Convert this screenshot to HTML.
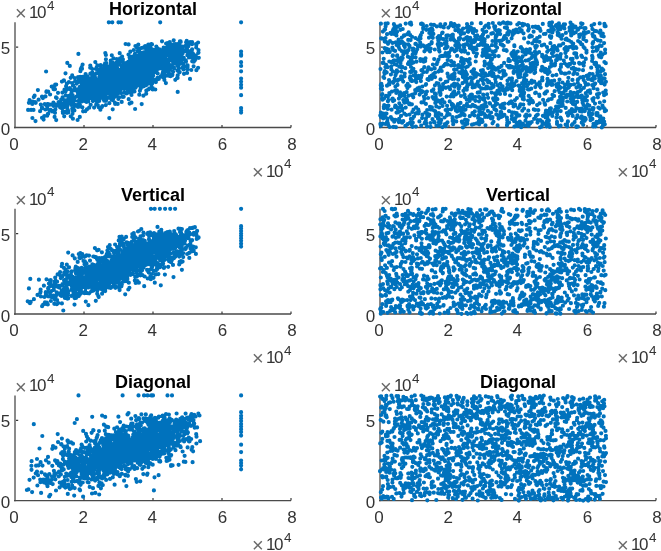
<!DOCTYPE html><html><head><meta charset="utf-8"><title>Correlation scatter plots</title><style>html,body{margin:0;padding:0;background:#fff;}body{width:661px;height:551px;overflow:hidden;}svg{display:block;}text{font-family:"Liberation Sans",Arial,Helvetica,sans-serif;fill:#333333;}.t{font-weight:bold;fill:#000;font-size:18px;}.k{font-size:17.0px;}.x{font-size:20px;fill:#6a6a6a;}.s{font-size:13.5px;}.d{fill:none;stroke:#0072BD;stroke-width:4.20;stroke-linecap:round;}.av{fill:none;stroke:#8a8a8a;stroke-width:2;}.ah{fill:none;stroke:#4a4a4a;stroke-width:1.4;}.tk{fill:none;stroke:#3a3a3a;stroke-width:1.2;}</style></head><body>
<svg width="661" height="551" viewBox="0 0 661 551">
<path class="av" d="M15.0 22.3V128.2"/>
<path class="ah" d="M14.0 127.5H291.0"/>
<path class="tk" d="M84.0 127.5v-2.6M153.0 127.5v-2.6M222.0 127.5v-2.6M291.0 127.5v-2.6M16.0 47.2h2.2"/>
<path class="d" d="M147.4 64.4h0M106.5 82.3h0M74.3 100.7h0M92.8 87.8h0M104.5 85.0h0M99.1 73.5h0M144.7 65.8h0M146.4 66.3h0M79.8 116.9h0M145.9 58.1h0M146.9 74.2h0M125.0 72.9h0M121.4 84.6h0M161.2 60.6h0M134.0 59.5h0M131.5 102.7h0M190.0 78.9h0M135.2 84.8h0M127.8 75.2h0M141.7 104.1h0M114.4 76.0h0M99.7 99.1h0M85.4 87.3h0M113.3 90.1h0M78.1 89.6h0M146.8 75.3h0M125.0 73.0h0M109.7 87.2h0M129.1 82.8h0M105.2 83.6h0M67.7 99.9h0M90.1 80.8h0M148.5 67.9h0M89.4 90.3h0M145.5 80.8h0M96.9 82.7h0M114.1 82.6h0M68.9 82.1h0M66.1 86.2h0M93.6 79.0h0M159.4 49.3h0M95.3 62.1h0M155.2 71.5h0M95.0 77.3h0M133.0 89.2h0M142.9 54.9h0M144.8 61.2h0M118.0 69.9h0M146.8 84.8h0M101.2 74.8h0M103.0 82.8h0M141.5 58.5h0M105.1 73.7h0M151.6 49.3h0M158.5 61.7h0M157.3 78.2h0M151.2 44.0h0M149.1 65.3h0M88.7 95.4h0M121.1 82.9h0M55.2 84.7h0M121.2 78.3h0M100.3 78.2h0M88.3 99.3h0M111.7 80.2h0M108.8 80.8h0M142.3 75.8h0M148.3 51.2h0M139.2 61.6h0M89.7 96.5h0M99.0 96.1h0M88.6 80.2h0M88.2 81.1h0M142.8 59.1h0M145.1 79.9h0M170.2 67.6h0M168.3 65.3h0M102.2 94.7h0M146.8 75.9h0M112.1 80.8h0M181.3 51.5h0M92.3 91.4h0M120.5 89.8h0M151.4 55.6h0M108.4 82.1h0M115.4 71.3h0M145.0 72.7h0M124.5 79.2h0M149.6 78.0h0M86.8 90.1h0M93.9 77.1h0M115.8 88.3h0M58.0 105.0h0M158.1 63.7h0M155.2 61.2h0M100.5 71.8h0M124.2 75.7h0M121.9 71.2h0M122.9 67.6h0M141.1 70.7h0M162.0 41.3h0M140.8 78.8h0M92.3 98.3h0M136.9 74.0h0M172.4 51.0h0M168.4 60.6h0M162.2 76.6h0M57.6 104.9h0M122.9 88.4h0M148.7 62.8h0M134.2 65.6h0M96.8 83.5h0M146.3 90.6h0M168.8 72.3h0M142.4 74.7h0M105.9 86.1h0M37.9 90.1h0M155.6 70.9h0M140.8 54.4h0M131.8 64.7h0M101.9 92.2h0M167.5 55.4h0M128.9 68.0h0M185.7 45.8h0M166.2 69.3h0M97.9 96.1h0M107.3 79.2h0M117.6 81.0h0M127.7 68.7h0M120.7 81.4h0M81.8 100.0h0M126.4 75.1h0M163.6 70.4h0M152.3 62.1h0M143.3 60.6h0M142.6 72.0h0M173.8 44.6h0M100.0 86.6h0M93.4 100.4h0M169.5 55.8h0M126.8 85.2h0M93.2 95.4h0M100.6 76.3h0M104.3 80.4h0M104.5 71.9h0M96.6 98.7h0M81.6 97.3h0M111.9 77.7h0M177.6 77.9h0M136.8 83.6h0M102.0 74.1h0M175.5 48.6h0M139.8 64.1h0M182.2 48.0h0M61.2 107.9h0M144.9 77.8h0M177.5 44.1h0M91.1 89.7h0M196.2 47.5h0M119.1 62.0h0M171.0 44.6h0M142.5 74.2h0M65.2 105.9h0M103.4 75.5h0M110.9 63.2h0M131.1 60.7h0M83.1 111.3h0M118.0 85.2h0M87.5 79.3h0M75.2 81.1h0M80.0 86.7h0M115.9 67.2h0M191.9 42.5h0M143.3 55.0h0M97.1 94.4h0M180.6 41.4h0M140.5 70.8h0M122.1 56.6h0M68.6 97.8h0M187.4 55.2h0M162.4 60.2h0M56.0 97.4h0M123.8 70.4h0M153.7 71.4h0M86.3 94.4h0M150.1 57.3h0M65.2 103.1h0M141.1 61.3h0M140.8 56.1h0M67.8 89.1h0M65.7 95.4h0M104.5 79.1h0M59.9 103.0h0M198.2 53.0h0M124.0 88.5h0M161.4 65.4h0M131.8 92.4h0M184.3 51.1h0M184.1 50.1h0M161.4 51.6h0M104.0 82.4h0M105.3 99.3h0M94.1 91.1h0M81.7 67.2h0M178.6 68.8h0M82.8 85.2h0M164.7 53.4h0M138.0 82.8h0M80.2 76.9h0M166.6 62.3h0M192.5 53.0h0M165.4 63.3h0M130.2 84.6h0M176.6 56.3h0M126.8 66.7h0M158.4 57.6h0M128.0 70.0h0M140.7 88.4h0M85.1 100.7h0M122.4 69.5h0M135.1 73.2h0M65.5 91.4h0M139.6 77.5h0M117.5 65.0h0M73.7 109.6h0M107.3 93.2h0M123.8 70.9h0M40.8 104.6h0M120.2 61.3h0M134.5 67.5h0M156.3 58.4h0M108.2 90.7h0M97.5 95.2h0M92.0 80.7h0M166.9 68.2h0M105.9 81.5h0M137.0 47.5h0M111.7 68.9h0M96.1 93.2h0M129.3 75.5h0M171.3 58.0h0M143.1 74.5h0M85.3 111.2h0M133.6 84.7h0M158.8 58.7h0M141.5 65.3h0M134.5 83.5h0M145.1 81.3h0M33.8 97.1h0M71.3 105.0h0M168.3 74.8h0M164.4 79.9h0M105.9 55.0h0M117.4 86.7h0M91.3 94.5h0M102.4 106.0h0M137.9 59.2h0M127.9 79.3h0M141.1 82.0h0M28.1 109.9h0M124.9 80.4h0M90.7 104.8h0M160.7 64.8h0M135.4 75.1h0M162.8 72.6h0M97.8 83.0h0M117.3 79.7h0M45.5 96.4h0M118.0 83.6h0M101.4 92.1h0M133.8 63.5h0M91.2 73.6h0M116.0 78.8h0M177.4 70.6h0M159.1 51.2h0M78.1 105.1h0M129.6 83.3h0M166.0 51.9h0M129.8 72.4h0M125.9 77.6h0M142.7 65.2h0M151.0 62.7h0M124.7 71.2h0M112.4 94.7h0M101.5 81.9h0M109.3 118.1h0M154.7 66.4h0M101.8 76.3h0M125.1 78.5h0M182.7 53.2h0M159.3 57.8h0M136.3 77.9h0M109.4 103.2h0M140.0 58.2h0M161.3 52.4h0M104.9 65.4h0M114.8 102.5h0M155.4 54.6h0M87.4 86.6h0M120.7 78.7h0M157.3 57.4h0M131.9 57.9h0M166.1 53.9h0M170.5 46.6h0M101.4 88.0h0M148.9 72.3h0M118.0 77.6h0M179.7 72.1h0M133.7 74.9h0M155.7 52.4h0M109.6 80.0h0M174.0 68.2h0M133.3 69.5h0M152.4 66.9h0M155.5 69.1h0M90.0 93.4h0M140.0 67.9h0M139.2 65.6h0M112.2 87.7h0M103.8 68.5h0M62.2 106.9h0M87.0 84.1h0M98.1 79.8h0M81.0 86.5h0M138.1 63.8h0M134.3 76.8h0M103.0 75.5h0M103.2 92.3h0M164.8 59.6h0M171.4 65.7h0M156.3 46.6h0M128.4 74.2h0M118.5 97.8h0M190.9 53.2h0M32.4 118.0h0M135.5 87.7h0M106.3 99.8h0M123.9 64.1h0M126.2 71.8h0M106.7 69.5h0M116.7 63.8h0M172.7 52.8h0M129.9 80.5h0M169.1 60.1h0M125.3 73.8h0M162.7 55.6h0M174.5 58.6h0M85.1 85.3h0M177.9 45.1h0M42.0 96.7h0M106.4 90.3h0M152.0 67.9h0M168.9 69.2h0M188.4 55.8h0M114.3 97.1h0M96.0 80.7h0M142.6 73.4h0M146.9 72.3h0M187.8 54.0h0M50.6 109.9h0M46.4 91.9h0M178.9 47.9h0M98.4 94.7h0M84.7 79.0h0M73.0 85.5h0M141.2 72.0h0M157.9 58.6h0M163.9 69.2h0M152.3 62.9h0M155.4 81.2h0M116.2 62.8h0M119.1 76.0h0M104.5 74.6h0M173.8 54.5h0M185.0 50.5h0M70.7 77.8h0M142.0 59.8h0M89.8 98.3h0M110.7 60.7h0M82.9 93.6h0M140.5 79.3h0M121.4 77.6h0M103.0 81.4h0M142.8 66.8h0M143.1 59.6h0M156.7 70.6h0M133.3 69.1h0M132.2 66.0h0M117.7 81.7h0M162.2 74.5h0M108.8 79.2h0M198.1 42.5h0M134.2 58.0h0M156.3 68.1h0M93.4 83.7h0M164.8 72.2h0M80.7 99.1h0M136.1 70.6h0M119.0 81.0h0M116.7 59.0h0M177.0 55.4h0M178.9 46.1h0M128.1 69.9h0M160.3 65.1h0M123.9 78.8h0M69.8 103.6h0M91.7 89.2h0M144.9 63.4h0M154.7 81.3h0M157.1 58.9h0M89.4 87.0h0M181.8 56.5h0M101.1 86.8h0M179.5 56.5h0M82.9 93.9h0M119.6 80.1h0M80.9 89.4h0M110.7 90.7h0M156.1 70.5h0M99.2 83.8h0M83.5 88.2h0M137.9 74.1h0M188.2 45.9h0M180.2 53.1h0M104.6 96.8h0M117.1 72.7h0M153.0 81.0h0M85.5 98.6h0M72.5 113.8h0M128.3 65.5h0M179.2 60.1h0M121.3 78.7h0M97.4 65.4h0M121.4 84.1h0M130.0 56.8h0M100.6 65.6h0M67.0 112.8h0M69.8 88.0h0M198.5 50.0h0M155.3 60.5h0M138.7 84.6h0M92.9 91.4h0M105.9 59.3h0M131.8 75.1h0M72.7 110.4h0M130.7 87.5h0M103.6 89.4h0M170.5 60.0h0M192.8 56.0h0M142.9 72.7h0M118.9 78.6h0M103.4 85.8h0M147.4 67.6h0M74.0 98.2h0M120.5 75.5h0M155.3 53.2h0M152.3 83.3h0M148.3 44.7h0M181.6 50.2h0M177.1 62.5h0M134.0 75.2h0M159.4 51.0h0M120.6 70.4h0M125.6 44.0h0M129.2 67.7h0M89.1 97.5h0M125.9 67.1h0M122.4 71.9h0M105.2 80.9h0M110.6 88.2h0M107.6 78.1h0M100.6 82.3h0M116.7 73.7h0M163.6 47.7h0M166.6 47.9h0M132.5 86.9h0M109.0 85.5h0M95.7 96.1h0M144.1 64.2h0M97.7 81.1h0M88.2 88.0h0M127.9 89.6h0M141.1 79.7h0M94.0 76.8h0M81.5 92.9h0M149.6 70.6h0M157.5 77.9h0M145.7 58.4h0M158.2 64.1h0M77.9 101.0h0M149.3 82.8h0M97.8 105.1h0M110.5 74.1h0M85.9 81.6h0M119.2 80.6h0M81.1 99.4h0M177.7 75.3h0M102.2 86.0h0M88.3 101.5h0M135.1 78.9h0M126.7 81.0h0M161.8 59.1h0M105.6 85.1h0M103.1 81.6h0M109.5 72.7h0M83.4 87.7h0M153.1 75.3h0M153.3 61.9h0M109.6 71.4h0M131.6 68.1h0M168.5 55.4h0M139.1 68.2h0M104.5 85.5h0M95.4 86.2h0M97.0 92.3h0M87.2 92.0h0M74.5 89.6h0M116.4 70.4h0M56.2 84.6h0M170.6 45.4h0M143.8 79.7h0M140.4 60.1h0M187.5 69.2h0M117.7 78.7h0M94.1 87.1h0M98.4 87.5h0M101.0 72.9h0M151.2 66.7h0M138.1 65.2h0M115.1 87.2h0M138.0 61.4h0M116.3 94.3h0M91.5 86.5h0M142.1 66.0h0M163.4 49.9h0M143.3 75.4h0M101.9 69.1h0M126.2 75.3h0M94.3 94.8h0M164.0 64.3h0M183.8 59.1h0M129.8 81.9h0M110.7 91.4h0M82.0 93.5h0M101.7 77.2h0M121.0 73.7h0M131.7 63.4h0M169.8 42.1h0M151.8 69.2h0M103.5 86.4h0M152.0 75.7h0M155.7 72.1h0M100.0 90.4h0M121.6 74.2h0M87.6 76.3h0M154.3 58.0h0M141.0 67.6h0M171.0 50.4h0M141.9 65.2h0M169.3 52.8h0M191.0 54.9h0M55.4 109.3h0M122.3 68.7h0M155.1 70.7h0M192.1 42.2h0M99.0 89.1h0M109.9 71.9h0M139.0 79.9h0M142.9 84.8h0M145.8 75.5h0M158.6 63.4h0M145.8 68.1h0M48.1 104.0h0M139.3 94.7h0M96.3 86.4h0M152.7 89.5h0M92.3 72.7h0M158.0 65.0h0M192.2 61.3h0M136.4 82.7h0M82.4 107.3h0M122.6 80.8h0M113.1 98.9h0M159.5 68.5h0M141.8 68.7h0M44.3 116.1h0M125.0 64.5h0M113.1 79.7h0M94.9 81.7h0M99.7 85.6h0M96.2 104.6h0M107.6 83.5h0M163.2 63.2h0M127.4 72.5h0M95.0 87.8h0M114.9 81.6h0M91.5 81.5h0M193.8 61.7h0M102.9 93.0h0M112.0 83.9h0M95.1 79.4h0M82.0 68.8h0M190.6 43.3h0M77.3 82.0h0M72.1 83.1h0M106.3 88.1h0M122.8 61.1h0M94.5 87.0h0M119.7 53.2h0M146.6 69.1h0M185.8 60.4h0M171.8 60.2h0M123.0 79.6h0M160.0 67.9h0M127.5 80.0h0M158.5 58.6h0M99.4 76.7h0M31.1 109.9h0M148.8 72.1h0M38.6 99.7h0M137.5 83.7h0M96.4 90.2h0M79.6 81.6h0M182.6 58.6h0M158.3 67.1h0M99.1 90.0h0M83.0 80.1h0M82.8 77.2h0M152.5 80.8h0M138.2 68.0h0M177.2 62.7h0M122.1 65.6h0M129.1 66.7h0M164.7 64.8h0M113.8 90.2h0M132.5 77.5h0M150.6 64.7h0M128.8 66.9h0M143.9 75.8h0M163.9 73.0h0M137.3 77.2h0M108.3 73.8h0M186.1 42.3h0M108.0 72.2h0M154.3 59.2h0M93.5 75.8h0M113.2 75.4h0M157.3 55.5h0M117.4 87.0h0M162.2 60.6h0M116.6 70.6h0M84.2 79.7h0M182.5 63.7h0M156.3 70.1h0M62.9 113.0h0M174.4 54.6h0M131.9 68.7h0M77.0 81.5h0M85.2 81.2h0M79.4 97.1h0M123.1 70.5h0M96.8 101.4h0M125.7 71.1h0M178.9 57.2h0M134.6 69.4h0M102.7 93.9h0M152.5 64.2h0M118.5 86.4h0M134.7 68.1h0M93.8 81.5h0M177.6 49.5h0M74.4 110.4h0M83.2 94.8h0M114.1 74.0h0M106.8 72.8h0M99.2 80.0h0M117.1 76.9h0M167.3 49.0h0M150.8 75.2h0M115.5 93.7h0M179.7 55.2h0M138.1 48.4h0M79.3 100.4h0M116.5 69.8h0M83.0 100.1h0M127.7 76.2h0M163.3 60.7h0M123.9 82.1h0M101.5 67.8h0M147.5 77.2h0M184.0 73.8h0M87.3 87.4h0M156.3 68.9h0M134.3 72.1h0M112.0 91.3h0M100.6 81.8h0M132.0 80.6h0M127.5 84.6h0M107.9 97.9h0M183.1 63.6h0M109.3 85.5h0M58.6 102.1h0M150.2 69.1h0M119.5 70.2h0M173.7 40.3h0M155.3 68.3h0M192.8 60.6h0M92.9 101.1h0M138.3 55.4h0M103.0 80.7h0M107.3 86.5h0M110.0 92.0h0M83.1 86.1h0M77.5 82.4h0M137.0 73.5h0M144.7 63.3h0M90.8 90.6h0M149.4 66.8h0M154.9 50.7h0M130.4 79.0h0M135.4 64.6h0M66.9 83.5h0M89.4 93.4h0M140.2 54.4h0M140.4 67.9h0M137.6 74.7h0M109.6 85.4h0M118.4 78.4h0M71.3 93.7h0M112.6 93.4h0M53.6 89.2h0M144.3 78.1h0M96.4 84.9h0M160.1 60.0h0M105.2 89.4h0M179.0 51.0h0M99.9 84.7h0M147.5 68.9h0M55.6 104.5h0M32.6 101.5h0M147.4 52.4h0M177.0 78.0h0M146.9 64.7h0M193.3 54.0h0M155.4 79.8h0M198.8 57.8h0M145.7 71.7h0M145.2 67.3h0M111.6 79.5h0M115.6 92.4h0M81.5 95.2h0M185.6 60.5h0M114.1 93.2h0M96.6 73.2h0M82.1 101.3h0M188.9 56.0h0M94.8 95.4h0M99.6 88.1h0M147.4 60.9h0M95.4 90.3h0M111.3 84.1h0M79.2 88.1h0M166.1 43.6h0M168.5 63.6h0M117.1 67.2h0M110.5 80.6h0M161.0 65.0h0M153.8 81.5h0M187.1 72.9h0M105.1 63.3h0M157.8 54.5h0M167.8 71.6h0M139.1 72.2h0M140.6 59.5h0M158.4 49.5h0M130.4 57.4h0M106.9 80.1h0M134.9 60.4h0M188.9 56.2h0M163.5 64.5h0M107.8 86.9h0M127.2 69.5h0M137.1 80.4h0M153.7 49.9h0M141.3 71.8h0M150.5 72.4h0M123.4 63.2h0M56.7 98.1h0M151.6 81.4h0M64.1 100.1h0M148.3 75.1h0M143.8 82.6h0M60.5 102.9h0M100.2 97.1h0M95.5 80.9h0M89.6 95.6h0M143.4 60.8h0M133.5 82.8h0M129.2 70.7h0M139.3 75.8h0M191.8 57.5h0M136.4 70.4h0M65.4 91.4h0M106.4 92.1h0M118.9 80.3h0M124.5 78.4h0M52.1 111.4h0M138.0 60.3h0M132.0 68.5h0M62.6 97.3h0M137.0 77.0h0M118.5 80.5h0M143.1 69.9h0M122.7 85.2h0M114.9 86.4h0M88.0 100.1h0M107.5 67.8h0M127.1 85.5h0M159.2 58.2h0M80.1 106.4h0M85.4 93.5h0M124.4 75.8h0M117.7 82.5h0M116.3 81.6h0M149.8 56.7h0M136.0 57.1h0M112.2 90.7h0M81.6 83.2h0M123.8 76.9h0M198.1 67.8h0M75.1 90.3h0M152.1 59.4h0M88.4 89.3h0M119.2 85.0h0M111.3 91.4h0M109.7 83.9h0M152.9 53.9h0M44.8 104.1h0M164.0 70.8h0M149.8 56.9h0M147.8 73.2h0M131.4 80.1h0M117.9 60.7h0M143.8 52.3h0M120.1 58.3h0M111.8 77.5h0M112.5 62.5h0M175.4 44.2h0M118.4 82.2h0M141.9 69.6h0M114.8 78.0h0M138.0 79.5h0M83.5 88.8h0M143.8 79.0h0M51.7 86.6h0M157.2 79.5h0M74.7 87.9h0M99.7 90.2h0M135.8 77.8h0M179.3 62.6h0M110.3 91.3h0M110.2 66.5h0M138.1 64.5h0M48.2 91.7h0M145.2 46.2h0M98.7 93.4h0M93.2 99.0h0M132.0 81.5h0M61.9 81.6h0M127.9 66.1h0M152.5 50.4h0M82.8 96.6h0M139.4 80.2h0M47.8 114.1h0M133.5 67.5h0M118.6 83.7h0M92.9 78.3h0M67.2 106.4h0M81.2 80.1h0M35.7 102.8h0M174.5 48.7h0M168.0 48.1h0M127.8 87.7h0M130.4 87.5h0M81.6 92.1h0M107.7 79.5h0M159.9 56.6h0M162.9 59.6h0M132.7 72.9h0M140.7 67.1h0M102.4 85.2h0M61.2 99.6h0M55.0 112.8h0M147.5 69.8h0M96.8 97.3h0M167.6 46.3h0M140.1 69.3h0M123.0 73.3h0M118.6 81.6h0M108.3 71.3h0M170.0 59.0h0M82.0 101.0h0M118.6 76.2h0M84.5 100.8h0M188.5 44.0h0M49.6 110.3h0M117.8 90.3h0M171.2 47.9h0M80.9 91.7h0M168.8 70.4h0M144.5 64.5h0M90.0 87.7h0M90.4 97.4h0M173.1 71.7h0M143.8 77.2h0M148.7 63.9h0M54.6 116.9h0M133.9 75.3h0M108.5 91.1h0M111.4 99.3h0M117.2 76.6h0M132.0 69.5h0M130.6 68.5h0M152.9 57.0h0M142.1 61.2h0M135.7 79.1h0M183.7 50.7h0M134.5 70.0h0M125.2 68.5h0M164.0 53.2h0M150.5 47.8h0M142.1 57.8h0M164.3 49.3h0M111.5 85.2h0M150.5 83.4h0M183.4 64.4h0M152.1 75.7h0M159.2 52.9h0M161.1 60.1h0M88.1 98.9h0M173.3 67.1h0M73.5 103.9h0M96.6 67.6h0M122.9 59.3h0M153.8 68.0h0M169.6 68.3h0M45.3 109.5h0M80.7 86.5h0M104.1 90.7h0M124.5 71.8h0M119.8 74.1h0M142.1 71.2h0M126.6 93.5h0M42.0 107.4h0M108.7 87.1h0M95.1 86.8h0M150.4 65.3h0M136.5 75.9h0M83.8 99.4h0M64.3 103.3h0M91.0 82.9h0M128.0 78.3h0M136.9 70.4h0M146.2 93.7h0M82.2 89.6h0M101.9 80.0h0M113.1 70.2h0M88.5 80.0h0M90.2 67.7h0M74.0 100.3h0M116.7 89.7h0M110.7 78.6h0M127.3 73.8h0M125.0 84.3h0M138.7 79.0h0M99.9 89.6h0M67.5 109.3h0M187.9 52.0h0M128.9 70.6h0M105.4 63.6h0M135.6 70.9h0M177.6 47.4h0M129.9 59.8h0M94.9 87.6h0M195.6 59.1h0M86.7 91.8h0M119.8 84.3h0M168.0 49.2h0M182.9 46.5h0M175.1 54.6h0M147.2 70.4h0M58.0 92.8h0M182.3 47.2h0M42.9 98.1h0M157.1 56.9h0M136.6 80.1h0M176.5 56.1h0M144.9 72.1h0M118.3 64.0h0M60.2 107.4h0M70.5 98.7h0M179.0 57.6h0M98.5 79.2h0M127.1 73.9h0M100.4 109.7h0M114.3 87.3h0M158.8 79.0h0M114.0 90.6h0M101.4 91.9h0M78.4 53.9h0M84.2 86.0h0M116.4 75.6h0M144.7 68.6h0M112.7 82.3h0M142.5 65.6h0M158.3 52.1h0M168.6 70.0h0M96.6 88.8h0M64.7 111.9h0M134.0 68.0h0M110.4 79.6h0M167.4 68.0h0M127.1 71.1h0M79.9 104.8h0M75.4 105.1h0M86.4 95.5h0M102.4 83.5h0M109.6 71.9h0M156.7 70.4h0M72.2 108.8h0M104.8 91.3h0M103.2 75.7h0M105.0 88.7h0M136.9 82.4h0M96.0 92.5h0M104.4 84.1h0M158.7 55.6h0M146.1 66.6h0M128.1 67.5h0M169.8 59.1h0M123.7 96.8h0M152.4 74.1h0M42.0 117.8h0M123.5 80.0h0M173.8 51.3h0M134.4 70.1h0M160.4 54.1h0M76.5 96.7h0M97.7 69.6h0M89.8 82.3h0M111.2 88.9h0M187.6 65.3h0M175.2 51.9h0M156.9 57.6h0M105.2 68.3h0M162.4 59.5h0M95.1 80.2h0M135.8 86.8h0M80.1 81.4h0M170.4 65.1h0M91.4 98.0h0M124.7 70.3h0M143.3 86.5h0M147.5 73.2h0M172.5 55.4h0M108.9 90.8h0M183.8 57.9h0M134.8 69.6h0M102.8 90.6h0M152.7 88.0h0M141.5 59.3h0M137.6 68.7h0M100.7 93.4h0M117.6 77.1h0M153.7 58.6h0M146.0 81.2h0M157.7 73.5h0M138.7 62.2h0M122.2 74.0h0M85.5 85.4h0M128.8 75.9h0M120.4 73.5h0M178.5 60.7h0M156.9 62.6h0M189.8 54.7h0M166.7 66.4h0M134.9 53.9h0M70.7 89.6h0M130.3 74.9h0M146.8 69.5h0M175.3 79.8h0M128.2 61.8h0M136.0 79.1h0M71.6 99.4h0M171.5 49.9h0M85.0 88.4h0M137.3 73.4h0M134.4 69.9h0M158.4 57.7h0M193.9 57.5h0M104.6 95.5h0M88.6 82.3h0M140.3 68.4h0M138.4 69.3h0M137.6 68.1h0M109.7 76.2h0M137.3 62.1h0M113.5 77.1h0M159.9 63.9h0M157.2 48.0h0M130.2 77.8h0M168.5 46.8h0M146.6 73.5h0M111.3 78.4h0M88.6 96.0h0M121.5 88.2h0M80.4 71.2h0M52.8 104.4h0M77.1 90.4h0M104.2 100.7h0M103.8 99.7h0M68.2 112.4h0M187.0 49.0h0M113.5 58.4h0M144.4 74.5h0M62.4 107.7h0M126.7 62.8h0M122.0 72.0h0M123.6 76.9h0M146.9 78.9h0M68.9 95.8h0M124.3 87.5h0M116.7 86.7h0M167.1 47.5h0M114.3 66.9h0M97.3 81.4h0M156.8 65.5h0M104.5 65.4h0M194.7 60.6h0M106.2 83.3h0M105.0 68.6h0M52.9 111.2h0M89.9 96.1h0M77.9 92.8h0M130.6 87.4h0M61.0 103.4h0M167.3 43.2h0M84.0 81.4h0M116.0 82.1h0M168.8 47.2h0M121.5 83.4h0M40.1 111.2h0M145.8 65.2h0M107.1 81.3h0M168.1 60.1h0M91.1 95.2h0M156.9 69.6h0M157.8 65.0h0M135.5 60.9h0M90.2 94.9h0M98.6 79.5h0M93.5 79.3h0M146.9 62.6h0M122.3 96.8h0M124.2 92.7h0M94.3 86.3h0M78.0 106.9h0M78.0 96.2h0M118.2 97.4h0M70.7 116.3h0M139.7 74.6h0M46.3 105.2h0M99.1 91.2h0M173.4 50.9h0M91.3 68.0h0M99.5 83.7h0M142.8 58.3h0M153.7 66.6h0M129.7 71.0h0M171.7 66.0h0M133.3 65.0h0M147.3 65.4h0M152.1 77.7h0M117.7 103.9h0M28.9 102.8h0M125.2 79.3h0M107.0 86.4h0M41.9 108.3h0M149.2 57.3h0M115.6 78.4h0M102.4 84.3h0M116.5 79.5h0M136.1 75.5h0M100.7 65.0h0M116.9 73.0h0M110.0 67.1h0M178.4 65.3h0M170.6 59.7h0M106.9 71.3h0M86.4 81.3h0M72.6 95.3h0M198.5 52.6h0M111.8 55.3h0M164.2 68.2h0M96.4 91.0h0M163.3 63.2h0M111.0 82.3h0M113.1 85.6h0M123.6 81.5h0M67.7 103.1h0M105.9 100.8h0M110.6 77.9h0M115.8 70.8h0M169.9 69.8h0M50.1 94.5h0M134.1 82.6h0M104.6 85.7h0M35.1 102.2h0M124.2 89.1h0M79.3 103.1h0M125.8 83.9h0M109.4 89.4h0M116.3 72.3h0M155.1 59.9h0M64.7 106.9h0M166.9 59.8h0M96.0 87.3h0M160.2 59.4h0M171.9 51.9h0M106.4 82.9h0M140.1 72.1h0M118.8 81.8h0M103.9 86.4h0M99.1 86.8h0M149.9 88.3h0M147.6 56.2h0M111.1 84.5h0M92.1 76.9h0M125.5 78.2h0M129.7 81.3h0M100.7 69.4h0M100.5 91.3h0M91.2 78.5h0M152.6 55.7h0M126.2 77.5h0M137.2 71.5h0M146.6 75.6h0M174.2 62.2h0M110.0 96.3h0M141.0 68.8h0M86.9 109.4h0M151.5 51.8h0M163.2 57.4h0M164.1 75.4h0M190.1 42.2h0M158.5 64.4h0M124.8 78.8h0M89.6 95.1h0M182.3 67.9h0M124.1 77.2h0M130.3 79.2h0M113.5 82.8h0M174.2 46.9h0M125.7 80.0h0M151.5 57.1h0M113.5 72.9h0M174.8 56.3h0M128.8 79.0h0M117.9 62.1h0M119.8 72.4h0M136.4 82.9h0M144.8 62.9h0M65.5 73.3h0M172.1 75.4h0M115.2 104.0h0M87.2 86.7h0M132.8 74.5h0M98.7 107.3h0M102.9 69.3h0M81.3 96.9h0M169.2 49.1h0M95.9 98.4h0M97.3 83.9h0M92.5 91.7h0M145.7 78.3h0M102.1 79.4h0M146.2 49.6h0M137.6 51.2h0M105.6 86.9h0M181.7 60.2h0M161.5 50.3h0M83.5 82.7h0M111.8 94.9h0M109.5 77.3h0M64.5 89.6h0M135.2 78.0h0M134.2 77.6h0M192.1 49.4h0M105.8 75.8h0M118.7 78.0h0M104.6 79.2h0M105.1 83.6h0M136.7 63.2h0M77.8 95.5h0M121.7 101.9h0M132.5 58.7h0M149.2 88.7h0M114.5 76.0h0M141.1 52.9h0M121.2 93.1h0M106.1 73.2h0M114.3 75.2h0M150.1 64.0h0M151.4 84.8h0M87.3 92.2h0M119.5 80.8h0M123.9 74.6h0M119.1 79.2h0M137.2 79.3h0M179.3 72.4h0M93.7 75.9h0M78.0 92.6h0M155.0 71.6h0M117.7 79.3h0M115.8 86.3h0M165.3 61.5h0M138.5 81.4h0M186.7 48.3h0M121.0 71.1h0M117.0 88.2h0M112.7 94.4h0M149.5 60.4h0M145.1 81.2h0M91.9 95.1h0M104.2 87.6h0M148.7 54.6h0M153.2 59.5h0M118.0 81.5h0M163.9 64.6h0M144.1 71.2h0M171.8 74.7h0M62.5 108.1h0M83.4 80.0h0M151.3 82.0h0M141.6 70.2h0M113.9 76.7h0M101.6 76.5h0M158.9 60.4h0M139.8 67.8h0M148.3 89.5h0M47.4 104.1h0M98.1 90.3h0M130.8 76.3h0M136.3 73.6h0M80.9 68.8h0M130.7 90.0h0M172.6 44.8h0M127.7 91.1h0M176.5 52.1h0M127.2 84.2h0M93.0 81.0h0M120.7 77.8h0M138.8 84.3h0M82.6 64.6h0M144.1 54.2h0M147.3 75.8h0M177.1 59.6h0M63.9 80.4h0M105.7 71.6h0M105.2 72.2h0M130.2 69.5h0M62.4 92.6h0M184.7 66.4h0M95.3 74.0h0M47.2 115.7h0M127.3 72.8h0M130.9 84.7h0M68.4 111.2h0M32.3 103.9h0M148.5 79.0h0M145.8 63.2h0M161.2 68.2h0M149.3 56.0h0M116.0 89.9h0M148.2 46.9h0M156.9 69.0h0M112.8 82.6h0M43.6 119.6h0M172.6 45.4h0M122.1 70.1h0M138.2 70.2h0M109.5 79.6h0M107.5 78.9h0M195.8 55.7h0M114.5 75.4h0M29.6 100.2h0M173.5 63.4h0M172.2 48.1h0M150.2 52.9h0M72.1 90.6h0M72.2 75.4h0M88.1 77.8h0M131.3 65.9h0M133.5 63.3h0M160.6 60.6h0M187.6 66.9h0M76.7 105.2h0M155.5 53.2h0M47.7 105.8h0M165.7 75.8h0M111.5 82.9h0M168.4 53.2h0M152.7 72.1h0M105.5 92.4h0M120.8 82.3h0M128.8 65.3h0M163.4 63.0h0M178.4 67.9h0M189.0 57.4h0M108.9 89.4h0M132.0 75.6h0M100.6 97.0h0M109.3 91.4h0M152.0 44.4h0M126.2 85.8h0M124.2 72.8h0M115.3 80.8h0M72.8 98.5h0M163.2 71.4h0M99.2 101.0h0M123.2 71.1h0M163.5 74.5h0M191.3 70.0h0M123.0 69.3h0M122.3 76.7h0M176.2 54.5h0M141.2 75.1h0M165.8 69.8h0M186.7 40.9h0M69.4 100.5h0M165.6 69.4h0M150.1 65.0h0M120.1 89.7h0M172.7 50.2h0M179.2 44.8h0M128.5 54.6h0M133.2 64.2h0M170.4 76.2h0M96.1 85.3h0M113.9 91.5h0M142.3 69.1h0M114.2 71.8h0M120.7 65.0h0M35.5 121.1h0M87.4 85.3h0M90.3 65.6h0M118.1 81.9h0M186.6 51.4h0M137.3 61.3h0M97.3 90.8h0M148.4 67.2h0M66.7 100.4h0M185.9 50.5h0M115.8 94.0h0M146.3 60.8h0M107.8 78.7h0M148.5 69.0h0M128.7 83.0h0M133.7 74.3h0M124.1 72.5h0M146.2 58.5h0M142.5 64.5h0M128.6 75.7h0M106.4 63.1h0M153.0 76.1h0M165.1 57.7h0M123.3 88.5h0M96.0 100.5h0M134.5 91.5h0M90.8 87.3h0M169.5 58.7h0M103.7 77.1h0M113.3 81.6h0M128.6 54.5h0M76.5 83.7h0M145.0 60.2h0M94.1 107.6h0M141.1 82.1h0M95.2 81.0h0M140.9 82.1h0M72.5 96.1h0M155.3 89.5h0M135.5 69.9h0M125.9 74.8h0M128.0 76.9h0M134.2 68.4h0M123.2 77.3h0M177.2 65.6h0M119.0 81.1h0M118.5 87.4h0M98.8 91.8h0M90.1 81.4h0M107.6 86.8h0M107.6 78.7h0M131.0 77.4h0M196.3 45.0h0M131.6 86.0h0M124.4 77.2h0M82.3 76.9h0M168.0 55.5h0M78.1 77.1h0M54.2 86.0h0M85.4 96.0h0M130.5 78.8h0M154.2 62.3h0M160.4 62.4h0M138.7 63.7h0M115.9 75.6h0M132.4 56.6h0M168.5 49.6h0M100.9 84.4h0M90.7 90.8h0M125.4 80.8h0M72.6 95.0h0M132.1 60.6h0M118.4 98.9h0M87.3 80.4h0M131.5 95.0h0M140.8 85.3h0M160.9 56.0h0M71.6 92.5h0M122.4 84.6h0M123.0 69.4h0M110.5 82.6h0M109.7 88.9h0M147.0 49.4h0M123.0 84.4h0M192.0 44.2h0M149.4 69.8h0M178.8 55.3h0M107.1 87.7h0M90.0 90.1h0M140.1 69.3h0M110.0 88.5h0M183.6 69.5h0M137.2 77.1h0M151.6 50.6h0M161.1 58.9h0M162.4 59.8h0M96.0 68.9h0M89.1 95.8h0M135.4 46.0h0M154.1 55.2h0M168.7 75.7h0M174.8 59.1h0M159.8 56.0h0M193.5 60.4h0M145.5 65.5h0M112.3 99.9h0M103.2 93.5h0M181.2 55.5h0M164.8 56.0h0M152.4 57.9h0M142.7 66.5h0M115.2 80.4h0M94.5 85.3h0M107.0 83.8h0M114.9 87.4h0M149.9 47.3h0M169.7 53.2h0M135.2 74.9h0M145.7 71.7h0M116.3 69.3h0M164.5 55.5h0M108.6 74.5h0M141.8 85.8h0M56.9 104.6h0M156.3 53.9h0M100.4 90.3h0M121.8 66.9h0M119.2 80.4h0M85.3 75.5h0M116.7 93.2h0M167.2 51.7h0M149.8 77.7h0M154.9 58.0h0M113.1 91.4h0M156.8 55.4h0M179.9 41.4h0M118.2 93.2h0M91.2 85.6h0M125.7 75.1h0M99.2 73.3h0M162.6 65.4h0M50.1 104.6h0M171.0 67.5h0M139.7 52.3h0M114.8 81.3h0M132.6 59.2h0M46.1 71.5h0M134.4 64.7h0M138.3 44.7h0M112.7 109.3h0M48.2 113.7h0M124.7 73.9h0M155.9 82.1h0M170.9 66.3h0M107.0 82.9h0M123.5 88.5h0M145.7 65.0h0M116.8 82.1h0M125.0 87.6h0M177.7 91.9h0M123.4 74.0h0M136.7 63.7h0M118.8 64.0h0M128.4 81.9h0M170.1 53.5h0M163.8 60.2h0M183.9 51.2h0M77.6 120.0h0M47.3 108.6h0M177.6 49.3h0M108.4 85.9h0M173.9 54.2h0M126.1 66.6h0M56.2 120.1h0M154.2 66.3h0M117.0 82.1h0M132.1 70.4h0M130.7 73.2h0M91.2 87.7h0M79.7 88.2h0M128.9 69.2h0M149.7 59.0h0M122.7 72.8h0M103.1 95.3h0M107.6 92.2h0M116.2 87.1h0M144.6 75.9h0M140.2 73.0h0M110.7 78.8h0M146.0 66.2h0M157.4 53.3h0M100.6 82.0h0M146.7 54.4h0M131.6 69.9h0M151.9 73.2h0M122.6 78.9h0M105.2 85.4h0M146.2 55.0h0M109.7 73.8h0M130.9 81.3h0M65.4 100.8h0M161.5 76.6h0M105.1 75.6h0M102.9 81.8h0M109.1 86.1h0M116.9 72.3h0M131.9 75.8h0M161.1 53.6h0M180.7 42.0h0M172.4 74.7h0M72.0 102.9h0M144.0 79.1h0M150.6 69.2h0M155.5 62.8h0M137.5 85.6h0M159.9 60.9h0M106.6 86.6h0M111.9 76.8h0M153.1 69.7h0M62.8 111.5h0M151.2 62.6h0M156.2 68.8h0M186.0 61.6h0M146.7 70.0h0M166.2 67.3h0M133.3 72.9h0M113.7 85.3h0M143.3 47.7h0M85.6 74.0h0M125.0 78.5h0M100.1 86.5h0M137.5 64.8h0M113.3 92.0h0M83.2 97.8h0M134.5 74.9h0M109.7 87.2h0M150.6 78.5h0M158.8 53.9h0M141.4 48.0h0M60.7 105.7h0M101.8 107.1h0M105.3 53.1h0M171.2 75.5h0M147.1 65.4h0M165.9 83.1h0M103.4 93.3h0M145.5 75.9h0M123.7 76.4h0M53.4 102.7h0M141.5 55.3h0M172.3 61.1h0M72.2 100.6h0M106.1 87.3h0M133.9 84.4h0M145.2 69.6h0M96.0 91.8h0M119.4 78.0h0M141.8 81.4h0M101.5 97.2h0M162.4 62.8h0M79.0 79.1h0M114.5 72.7h0M127.9 81.4h0M133.7 50.0h0M166.8 47.5h0M128.7 99.2h0M105.8 105.1h0M152.5 65.9h0M65.5 101.6h0M129.6 57.6h0M188.3 46.3h0M106.3 97.0h0M94.4 83.5h0M129.6 64.7h0M104.4 79.6h0M100.6 68.6h0M145.6 85.5h0M129.4 89.6h0M56.6 105.8h0M101.5 95.0h0M148.9 59.7h0M148.3 67.4h0M129.6 66.2h0M126.8 66.5h0M144.5 58.8h0M82.3 85.7h0M72.9 118.7h0M92.3 69.1h0M155.9 51.7h0M131.4 57.7h0M125.0 74.9h0M139.2 50.2h0M90.4 73.6h0M136.9 59.9h0M134.7 59.7h0M163.8 77.7h0M193.6 66.3h0M46.5 91.3h0M117.3 68.5h0M147.5 61.9h0M190.5 51.2h0M139.9 90.8h0M126.1 83.7h0M137.9 56.0h0M130.3 83.8h0M169.5 48.2h0M135.1 109.0h0M104.2 89.1h0M129.1 72.2h0M112.4 77.9h0M147.6 61.7h0M64.2 105.6h0M105.1 90.6h0M109.9 90.5h0M146.9 71.4h0M86.5 102.0h0M138.8 70.1h0M120.4 74.7h0M89.2 107.7h0M74.6 106.1h0M122.1 85.7h0M130.9 67.8h0M73.8 100.1h0M151.6 70.1h0M136.0 69.0h0M196.4 70.2h0M144.3 84.2h0M98.7 80.7h0M132.6 77.8h0M109.9 79.3h0M196.0 44.1h0M113.5 90.1h0M53.3 105.8h0M69.8 65.9h0M143.4 95.7h0M97.9 100.9h0M34.6 95.7h0M160.6 60.1h0M161.7 60.3h0M172.4 67.3h0M72.9 101.0h0M55.0 89.2h0M114.8 91.8h0M129.6 103.6h0M175.3 56.6h0M154.0 56.0h0M128.3 62.9h0M104.4 90.6h0M152.6 59.6h0M127.8 71.5h0M105.3 79.7h0M101.8 82.6h0M113.6 70.6h0M147.7 62.1h0M113.5 88.6h0M135.0 69.7h0M138.2 66.5h0M174.1 58.1h0M154.3 70.0h0M128.6 44.4h0M125.2 77.1h0M81.0 96.6h0M176.1 56.3h0M134.9 80.5h0M119.0 97.4h0M132.9 69.6h0M64.2 116.3h0M157.6 66.9h0M133.4 75.0h0M120.2 76.1h0M74.8 78.0h0M128.5 92.5h0M33.5 109.9h0M149.8 62.6h0M110.0 65.9h0M96.5 93.6h0M142.9 69.6h0M84.6 97.5h0M90.9 87.9h0M159.4 56.2h0M147.7 74.0h0M163.0 58.0h0M124.7 81.0h0M137.4 70.0h0M107.7 70.1h0M103.5 92.2h0M142.8 74.1h0M137.2 74.2h0M108.1 81.3h0M87.4 87.2h0M111.1 67.0h0M109.0 93.0h0M145.4 62.0h0M120.5 72.8h0M69.2 97.5h0M137.5 71.0h0M154.6 60.7h0M153.2 70.1h0M113.1 97.4h0M168.3 55.5h0M108.7 90.6h0M107.7 66.7h0M92.0 91.6h0M122.4 86.2h0M175.7 63.1h0M151.0 48.5h0M88.4 91.2h0M95.1 96.0h0M142.8 74.9h0M95.4 87.7h0M160.6 76.5h0M96.2 94.9h0M147.4 75.4h0M108.0 89.0h0M142.3 56.4h0M156.9 54.8h0M141.1 73.6h0M119.7 85.1h0M91.8 87.9h0M117.1 62.9h0M104.4 73.2h0M67.3 62.9h0M114.2 81.4h0M89.8 96.0h0M90.9 87.9h0M131.8 66.3h0M115.3 65.1h0M174.9 47.4h0M104.5 89.2h0M79.5 92.4h0M64.0 80.7h0M98.0 86.7h0M137.8 51.0h0M113.1 65.4h0M180.1 45.8h0M89.3 90.6h0M163.5 64.4h0M127.3 76.2h0M164.9 60.4h0M147.1 54.8h0M90.2 85.2h0M136.7 85.8h0M105.8 74.9h0M180.3 63.7h0M83.8 91.9h0M183.8 59.2h0M130.3 51.7h0M241.1 22.3h0M241.1 51.6h0M241.1 54.3h0M241.1 55.7h0M241.1 62.2h0M241.1 65.9h0M241.1 71.3h0M241.1 78.5h0M241.1 81.6h0M241.1 84.8h0M241.1 87.7h0M241.1 95.2h0M241.1 108.1h0M241.1 110.5h0M241.1 112.6h0M108.8 22.3h0M112.3 22.3h0M118.5 22.3h0M120.9 22.3h0M160.2 22.3h0"/>
<text class="k" x="14.0" y="149.5" text-anchor="middle">0</text>
<text class="k" x="83.2" y="149.5" text-anchor="middle">2</text>
<text class="k" x="152.3" y="149.5" text-anchor="middle">4</text>
<text class="k" x="222.5" y="149.5" text-anchor="middle">6</text>
<text class="k" x="291.9" y="149.5" text-anchor="middle">8</text>
<text class="k" x="10.1" y="135.1" text-anchor="end">0</text>
<text class="k" x="10.1" y="54.2" text-anchor="end">5</text>
<text class="x" x="14.9" y="20.4">×</text><text class="k" x="28.9" y="18.3" letter-spacing="-1.4">10</text><text class="k s" x="47.0" y="9.9">4</text>
<text class="x" x="251.9" y="178.9">×</text><text class="k" x="265.9" y="176.8" letter-spacing="-1.4">10</text><text class="k s" x="284.0" y="168.4">4</text>
<text class="t" x="153.0" y="14.5" text-anchor="middle">Horizontal</text>
<path class="av" d="M380.0 22.3V128.2"/>
<path class="ah" d="M379.0 127.5H656.0"/>
<path class="tk" d="M449.0 127.5v-2.6M518.0 127.5v-2.6M587.0 127.5v-2.6M656.0 127.5v-2.6M381.0 47.2h2.2"/>
<path class="d" d="M526.2 114.5h0M530.1 71.7h0M386.8 122.7h0M420.2 42.7h0M509.7 102.4h0M504.6 103.7h0M499.1 90.9h0M464.6 115.2h0M393.7 81.6h0M463.7 114.1h0M460.8 34.2h0M434.6 122.4h0M390.0 41.2h0M585.5 118.4h0M499.1 40.8h0M405.7 107.6h0M411.9 104.3h0M481.0 70.5h0M493.4 73.7h0M557.6 85.7h0M389.3 84.4h0M441.5 45.0h0M572.1 31.1h0M587.9 91.1h0M507.0 27.8h0M440.4 43.5h0M546.5 121.8h0M387.8 109.0h0M527.0 86.3h0M420.8 35.2h0M483.2 94.7h0M532.8 26.8h0M576.9 57.4h0M552.7 29.9h0M547.7 82.2h0M545.0 71.9h0M480.2 112.0h0M443.5 39.2h0M571.8 125.1h0M516.2 61.8h0M524.8 125.3h0M434.4 99.1h0M601.1 83.2h0M565.8 73.6h0M489.6 57.3h0M399.5 49.0h0M604.6 26.1h0M429.5 29.5h0M497.0 34.8h0M556.7 48.0h0M393.9 24.2h0M489.4 115.1h0M581.7 122.7h0M592.4 118.9h0M533.0 102.3h0M562.5 104.2h0M470.2 37.9h0M475.5 47.6h0M602.6 119.0h0M480.1 119.2h0M448.3 27.6h0M501.9 40.3h0M494.1 51.5h0M558.4 107.5h0M570.7 98.8h0M408.0 50.4h0M445.8 125.9h0M522.4 51.5h0M421.0 23.9h0M506.7 50.8h0M531.1 65.9h0M454.6 86.7h0M406.3 115.0h0M437.0 101.3h0M461.5 112.9h0M477.8 74.4h0M560.3 58.6h0M431.9 107.3h0M398.7 46.9h0M472.8 47.7h0M481.9 122.0h0M581.3 44.2h0M384.3 115.5h0M462.9 127.4h0M574.0 84.3h0M507.8 89.4h0M439.4 92.0h0M536.6 115.3h0M555.6 25.9h0M401.4 121.7h0M597.6 69.7h0M599.8 102.5h0M472.4 113.2h0M552.3 28.1h0M511.8 115.8h0M401.6 60.0h0M590.6 120.2h0M572.1 62.4h0M551.4 113.7h0M471.8 23.4h0M435.1 77.1h0M589.8 73.8h0M552.3 65.6h0M421.9 59.8h0M520.4 74.0h0M482.5 37.7h0M445.6 110.0h0M395.5 75.2h0M605.9 81.8h0M492.5 73.1h0M511.7 119.0h0M578.2 96.5h0M583.4 39.1h0M580.3 77.4h0M475.2 36.2h0M569.9 85.5h0M539.7 85.9h0M511.4 53.9h0M484.6 27.1h0M504.7 36.0h0M382.0 98.8h0M461.0 61.7h0M481.4 121.1h0M481.7 36.3h0M586.5 52.6h0M393.9 33.8h0M583.7 65.6h0M581.3 55.7h0M535.2 72.3h0M451.1 49.8h0M453.2 92.5h0M397.5 43.8h0M474.8 111.4h0M487.3 45.7h0M604.2 101.3h0M453.0 38.2h0M530.1 68.3h0M558.9 126.4h0M513.5 30.7h0M554.6 91.2h0M475.7 97.0h0M453.0 104.8h0M582.4 119.4h0M535.2 46.2h0M601.9 82.2h0M408.9 62.2h0M406.9 52.8h0M571.1 33.8h0M459.4 86.2h0M592.5 47.3h0M440.4 93.6h0M494.7 56.3h0M485.1 116.9h0M403.7 35.9h0M575.4 26.6h0M398.0 112.4h0M514.6 32.8h0M484.7 39.3h0M421.7 75.2h0M387.3 122.1h0M438.0 116.8h0M603.7 36.5h0M436.3 106.4h0M530.2 35.6h0M488.4 50.4h0M452.6 118.5h0M566.0 47.2h0M465.2 80.4h0M461.3 115.0h0M393.2 119.5h0M428.2 114.2h0M529.3 89.5h0M393.0 99.8h0M591.8 118.8h0M556.1 106.6h0M515.5 118.0h0M480.3 121.5h0M418.1 111.8h0M563.1 92.5h0M576.5 87.6h0M394.0 60.4h0M447.5 112.9h0M465.2 119.5h0M501.3 112.2h0M522.1 83.1h0M599.1 93.7h0M570.7 84.9h0M570.5 22.7h0M463.1 28.6h0M514.9 71.2h0M443.5 66.1h0M549.6 22.8h0M580.9 117.9h0M458.9 38.3h0M478.6 39.0h0M413.4 62.6h0M383.4 113.5h0M520.6 104.3h0M472.8 32.4h0M467.6 78.6h0M556.8 86.8h0M582.2 100.0h0M449.1 52.6h0M495.6 45.9h0M544.5 103.1h0M508.2 34.6h0M562.8 93.4h0M419.6 94.6h0M382.7 123.5h0M383.2 118.4h0M482.6 79.6h0M540.0 127.3h0M543.1 99.8h0M481.6 41.0h0M559.6 92.3h0M422.1 118.1h0M598.8 55.3h0M422.9 24.4h0M406.6 92.0h0M384.8 71.1h0M585.9 84.8h0M451.8 94.6h0M498.5 116.8h0M573.6 111.5h0M565.9 51.6h0M555.0 109.9h0M547.4 116.2h0M484.5 65.5h0M393.5 60.5h0M556.3 25.2h0M386.3 42.0h0M416.1 78.0h0M455.9 110.4h0M439.6 88.9h0M464.3 109.8h0M497.6 125.4h0M382.0 38.7h0M488.1 82.3h0M599.4 56.7h0M485.3 88.5h0M466.4 81.8h0M542.4 124.3h0M522.4 49.1h0M385.5 23.6h0M550.0 23.4h0M547.8 100.5h0M391.9 91.6h0M594.2 125.5h0M454.6 73.4h0M523.9 99.4h0M553.5 52.0h0M521.2 127.2h0M461.9 109.2h0M594.3 36.4h0M446.5 123.4h0M389.7 52.1h0M472.2 78.7h0M400.2 43.2h0M502.6 86.4h0M575.8 47.2h0M601.6 46.0h0M478.0 45.2h0M448.5 87.0h0M425.5 58.3h0M415.5 72.2h0M438.4 71.6h0M389.4 94.4h0M451.4 39.4h0M446.0 53.7h0M488.2 64.1h0M418.0 39.5h0M528.0 89.5h0M520.1 87.5h0M417.2 49.2h0M483.5 108.9h0M447.5 73.7h0M524.3 24.4h0M528.6 125.9h0M446.7 37.8h0M402.0 66.6h0M453.4 96.5h0M397.7 108.8h0M571.2 99.8h0M577.3 74.0h0M583.2 124.8h0M590.2 92.9h0M530.0 49.2h0M400.9 96.1h0M577.4 108.5h0M529.3 103.7h0M573.7 68.8h0M512.9 86.3h0M495.8 100.3h0M535.1 109.9h0M436.1 114.1h0M458.0 85.1h0M537.4 28.0h0M573.5 103.8h0M440.1 101.1h0M601.4 35.8h0M513.6 71.9h0M549.9 67.0h0M448.4 76.3h0M466.0 75.7h0M571.1 113.2h0M516.5 60.7h0M552.3 115.9h0M539.5 82.4h0M583.9 87.8h0M572.7 95.4h0M563.2 43.5h0M495.7 40.1h0M448.9 56.6h0M544.2 44.6h0M564.5 48.9h0M579.2 34.8h0M498.0 76.6h0M499.1 32.6h0M426.9 46.0h0M507.6 41.7h0M544.5 93.6h0M595.4 62.9h0M569.9 64.4h0M444.8 64.5h0M504.4 114.8h0M493.7 100.1h0M397.7 60.6h0M531.7 122.0h0M384.3 72.5h0M405.4 125.9h0M395.9 127.2h0M548.7 112.2h0M598.3 46.9h0M495.8 82.0h0M572.3 62.0h0M520.2 76.9h0M453.7 26.5h0M502.8 104.1h0M585.5 28.2h0M557.0 55.6h0M494.4 109.2h0M514.4 83.6h0M518.5 85.7h0M559.7 86.8h0M519.8 121.6h0M585.7 119.2h0M535.6 58.9h0M431.4 35.6h0M462.6 65.7h0M446.7 96.6h0M407.6 124.2h0M383.8 106.8h0M422.9 45.4h0M491.4 74.2h0M441.2 120.0h0M551.2 63.8h0M398.8 107.7h0M592.4 29.1h0M457.2 84.1h0M454.2 91.3h0M454.6 76.5h0M429.5 49.1h0M386.2 48.6h0M403.3 54.2h0M527.8 123.9h0M508.9 67.4h0M434.2 59.1h0M561.9 105.9h0M520.3 125.9h0M550.1 31.6h0M522.8 25.6h0M466.8 99.7h0M536.9 46.0h0M458.5 43.6h0M526.6 69.6h0M390.5 32.9h0M422.9 91.7h0M505.1 90.7h0M531.5 57.8h0M545.5 113.2h0M491.6 83.9h0M426.9 91.5h0M535.0 56.3h0M518.5 73.1h0M478.1 117.9h0M598.9 122.4h0M465.3 81.7h0M592.5 57.0h0M539.4 41.8h0M433.4 33.9h0M528.2 42.6h0M388.6 49.7h0M515.5 126.2h0M594.6 78.0h0M536.7 53.1h0M494.4 27.2h0M520.2 104.9h0M442.3 99.7h0M587.7 104.6h0M522.7 56.3h0M484.5 41.4h0M594.7 30.8h0M548.2 50.3h0M523.5 86.6h0M497.4 99.2h0M521.0 91.7h0M594.8 78.5h0M471.1 40.9h0M439.1 50.0h0M554.0 49.1h0M562.7 105.4h0M604.1 121.5h0M575.7 32.3h0M501.3 78.2h0M440.4 94.8h0M450.8 36.2h0M442.0 55.9h0M445.7 87.6h0M387.3 118.7h0M511.1 83.6h0M406.5 99.1h0M456.7 117.0h0M415.2 75.2h0M552.2 27.0h0M408.4 95.7h0M512.5 33.3h0M581.1 89.7h0M519.0 70.5h0M397.2 55.3h0M505.2 74.0h0M459.4 45.3h0M511.8 80.6h0M542.8 23.9h0M593.3 108.8h0M419.4 121.4h0M399.3 66.7h0M513.6 106.5h0M527.3 52.1h0M447.1 105.8h0M488.6 23.9h0M491.0 59.3h0M600.5 40.9h0M581.1 23.3h0M491.7 67.7h0M435.0 72.8h0M582.6 102.7h0M423.9 96.5h0M457.1 55.9h0M482.4 98.9h0M572.7 124.0h0M440.1 121.3h0M572.8 103.8h0M426.3 29.8h0M474.9 87.0h0M483.5 83.8h0M567.4 40.0h0M491.8 70.8h0M478.9 85.4h0M541.7 45.5h0M541.6 70.6h0M572.4 45.8h0M542.9 115.8h0M548.9 120.6h0M449.6 114.4h0M575.0 104.7h0M431.8 78.8h0M482.8 112.8h0M452.6 117.1h0M503.5 104.2h0M458.7 88.7h0M582.0 111.6h0M508.7 103.6h0M477.2 35.4h0M604.4 23.8h0M585.8 59.0h0M545.4 93.4h0M410.0 64.4h0M557.0 123.9h0M480.8 23.2h0M487.9 36.6h0M548.3 30.8h0M543.9 34.0h0M466.9 74.4h0M523.7 89.2h0M466.7 27.8h0M482.9 79.9h0M458.3 65.2h0M395.8 30.0h0M573.2 48.5h0M416.0 81.6h0M439.7 70.0h0M475.7 76.7h0M516.6 122.6h0M487.5 116.9h0M396.5 112.6h0M395.1 32.1h0M547.5 118.6h0M602.0 79.6h0M565.9 97.1h0M385.5 38.1h0M515.8 54.2h0M433.6 98.7h0M525.1 74.2h0M440.4 90.3h0M431.6 75.6h0M465.3 124.8h0M514.5 85.2h0M492.8 23.0h0M473.8 52.3h0M450.5 96.5h0M532.9 102.2h0M397.9 26.7h0M509.6 31.7h0M591.8 114.6h0M412.9 50.3h0M532.0 63.2h0M597.5 74.4h0M464.5 94.6h0M566.4 38.5h0M574.6 122.1h0M596.5 121.8h0M396.9 90.3h0M595.0 83.6h0M576.4 56.4h0M567.5 65.1h0M550.4 43.2h0M468.8 26.5h0M565.6 124.7h0M477.9 81.7h0M430.7 48.5h0M484.1 98.0h0M416.3 82.1h0M384.7 48.2h0M486.7 57.2h0M573.5 100.8h0M468.1 53.5h0M437.1 114.8h0M499.8 67.3h0M440.2 56.4h0M548.7 110.8h0M596.6 66.6h0M462.1 121.6h0M512.6 35.0h0M596.2 64.3h0M476.8 123.4h0M486.7 86.5h0M493.0 33.2h0M601.9 68.5h0M580.1 108.8h0M422.1 32.5h0M401.3 105.8h0M439.3 85.9h0M580.2 42.4h0M438.8 113.0h0M514.9 59.4h0M384.2 78.0h0M593.5 123.8h0M482.2 88.5h0M473.9 42.2h0M387.0 34.2h0M450.6 25.4h0M545.5 33.8h0M401.0 115.9h0M594.5 63.9h0M606.0 93.9h0M518.0 74.0h0M458.2 79.7h0M380.9 112.6h0M479.9 97.6h0M593.2 126.4h0M517.1 126.0h0M434.8 93.4h0M512.4 103.5h0M533.6 31.7h0M438.1 45.3h0M428.0 48.7h0M574.3 97.2h0M391.4 62.2h0M595.5 126.3h0M569.1 72.7h0M439.7 37.9h0M460.2 72.8h0M387.2 52.2h0M556.2 111.1h0M565.4 52.9h0M483.0 44.9h0M443.0 86.8h0M571.5 97.1h0M571.2 102.1h0M507.2 120.1h0M433.9 76.4h0M569.0 64.0h0M522.8 98.9h0M553.2 56.0h0M437.7 44.2h0M572.5 109.9h0M558.1 87.5h0M445.6 63.9h0M589.1 112.5h0M549.5 83.7h0M439.5 51.6h0M413.6 75.5h0M569.4 47.1h0M421.2 125.6h0M596.4 50.7h0M580.9 34.3h0M428.1 98.0h0M455.2 107.5h0M485.5 48.0h0M499.4 71.8h0M582.6 109.9h0M517.8 51.5h0M554.1 95.9h0M398.7 79.7h0M434.9 85.3h0M385.8 113.7h0M561.7 120.3h0M566.5 96.9h0M559.5 79.6h0M489.6 49.8h0M456.2 50.2h0M441.5 89.1h0M474.9 41.5h0M576.3 108.1h0M487.6 87.2h0M528.1 60.4h0M595.2 83.6h0M512.0 112.4h0M593.2 101.0h0M460.0 37.9h0M467.7 120.3h0M439.1 50.6h0M486.3 31.6h0M463.3 45.2h0M490.0 103.6h0M507.2 65.8h0M420.3 59.1h0M434.2 121.9h0M449.4 56.1h0M415.2 90.0h0M432.5 119.2h0M382.1 89.6h0M445.6 81.9h0M447.5 122.3h0M484.6 61.5h0M447.9 35.3h0M585.7 58.7h0M453.9 62.5h0M486.3 75.6h0M576.2 53.6h0M456.0 94.3h0M385.9 50.4h0M577.2 28.5h0M568.8 87.6h0M393.1 49.8h0M413.5 62.5h0M522.0 61.9h0M506.9 117.5h0M463.4 90.8h0M566.8 65.2h0M475.4 106.4h0M592.9 51.5h0M463.7 39.4h0M525.2 82.8h0M390.9 74.5h0M518.6 77.2h0M434.1 110.5h0M502.4 44.8h0M518.2 75.5h0M536.5 60.9h0M444.5 102.4h0M396.3 106.8h0M451.0 23.0h0M507.5 80.5h0M580.0 111.2h0M574.2 63.3h0M556.4 117.7h0M474.1 124.0h0M547.7 73.9h0M408.3 44.4h0M551.6 83.9h0M533.2 64.7h0M603.1 78.4h0M512.2 90.2h0M551.5 84.8h0M551.9 53.3h0M490.1 88.4h0M413.4 68.8h0M485.1 73.3h0M439.6 38.5h0M509.9 60.9h0M431.6 43.3h0M411.7 63.2h0M559.3 26.7h0M496.5 98.5h0M545.8 116.7h0M558.8 24.0h0M574.3 97.2h0M383.9 108.2h0M499.1 23.3h0M516.5 81.0h0M592.5 80.3h0M510.4 102.7h0M472.9 87.2h0M431.0 24.5h0M476.0 56.3h0M462.5 73.2h0M573.2 43.7h0M417.7 88.4h0M380.9 84.7h0M589.0 113.6h0M598.2 75.4h0M593.4 85.6h0M475.7 75.7h0M539.7 36.7h0M543.0 67.8h0M453.0 106.6h0M486.6 80.0h0M569.9 95.5h0M440.6 122.9h0M567.9 81.9h0M520.7 47.6h0M512.0 66.8h0M411.0 79.3h0M606.0 110.6h0M411.1 71.8h0M422.4 114.7h0M586.9 100.6h0M393.4 126.9h0M486.3 51.8h0M571.3 42.0h0M408.6 50.0h0M526.6 71.4h0M386.8 123.3h0M464.0 106.2h0M596.9 66.8h0M539.3 28.7h0M420.8 46.6h0M455.4 30.2h0M399.8 95.3h0M403.3 121.2h0M413.5 109.5h0M581.8 108.6h0M386.0 95.9h0M480.7 75.1h0M385.3 124.0h0M554.9 65.3h0M401.5 94.8h0M571.1 26.2h0M572.4 80.0h0M444.3 43.4h0M523.7 52.0h0M557.9 28.4h0M431.7 42.2h0M520.2 61.2h0M599.3 32.6h0M498.6 67.5h0M404.1 102.2h0M508.7 31.0h0M470.1 84.0h0M467.4 123.7h0M548.2 114.5h0M586.3 41.1h0M583.5 104.8h0M461.8 121.6h0M431.8 90.9h0M521.7 30.4h0M586.5 75.9h0M496.5 35.9h0M552.9 112.6h0M440.9 38.7h0M469.9 47.9h0M536.1 27.4h0M472.0 124.7h0M509.9 65.9h0M528.7 95.9h0M546.1 56.2h0M469.3 96.3h0M504.3 108.2h0M535.8 92.5h0M397.2 60.2h0M444.9 124.2h0M554.2 80.7h0M547.1 57.6h0M500.2 23.8h0M576.4 126.4h0M404.0 35.4h0M475.1 85.3h0M526.3 80.3h0M525.7 60.6h0M385.2 116.4h0M443.5 55.9h0M573.6 27.7h0M382.4 52.5h0M418.6 46.3h0M453.6 120.3h0M529.3 36.9h0M531.2 88.7h0M464.5 45.0h0M577.9 86.8h0M577.4 116.9h0M604.8 111.2h0M585.3 97.2h0M482.3 55.8h0M455.8 84.3h0M438.3 117.2h0M454.2 78.8h0M407.7 102.6h0M523.8 67.1h0M567.0 124.1h0M570.9 58.9h0M521.0 47.2h0M550.9 108.4h0M496.3 114.4h0M481.4 106.0h0M420.2 90.8h0M550.0 36.8h0M413.9 116.6h0M560.9 66.9h0M397.0 56.0h0M401.1 76.4h0M539.2 94.5h0M496.3 110.3h0M585.1 82.5h0M447.0 115.3h0M447.3 81.5h0M520.9 92.3h0M484.4 114.0h0M519.0 23.2h0M585.7 107.2h0M560.6 26.4h0M540.7 87.6h0M391.4 69.5h0M426.1 84.2h0M425.2 61.1h0M549.9 36.0h0M472.7 114.5h0M569.4 111.4h0M449.7 101.4h0M432.2 31.3h0M430.6 126.8h0M500.6 105.4h0M507.4 33.0h0M464.5 78.1h0M536.4 41.6h0M506.1 50.2h0M458.8 31.7h0M572.6 58.9h0M395.4 119.8h0M408.2 39.9h0M436.7 83.1h0M605.1 52.9h0M508.6 41.6h0M389.2 83.2h0M505.7 74.7h0M490.6 61.5h0M492.2 76.0h0M527.7 25.2h0M482.9 34.6h0M577.7 80.1h0M596.2 47.3h0M487.9 110.9h0M492.4 118.0h0M495.7 50.8h0M474.4 105.8h0M529.0 59.6h0M416.1 51.5h0M452.0 75.0h0M577.9 126.6h0M513.4 67.8h0M557.6 50.5h0M532.2 43.3h0M535.1 93.1h0M396.8 26.6h0M584.7 34.0h0M467.8 41.1h0M437.3 100.1h0M471.1 41.6h0M465.9 67.3h0M476.1 84.3h0M412.5 94.6h0M490.9 118.3h0M404.0 45.4h0M542.3 77.6h0M577.3 95.2h0M501.2 116.9h0M430.4 109.4h0M563.8 24.4h0M409.5 45.9h0M474.0 29.0h0M424.9 122.6h0M586.5 50.7h0M584.0 98.4h0M411.3 80.8h0M439.1 107.5h0M400.7 96.2h0M495.8 95.2h0M546.9 84.4h0M400.2 25.4h0M604.4 62.0h0M480.9 37.1h0M386.8 49.5h0M489.8 72.8h0M394.7 64.2h0M593.6 88.2h0M556.4 74.9h0M596.2 31.1h0M599.2 78.2h0M537.6 120.1h0M442.1 33.2h0M387.9 96.8h0M440.5 93.6h0M513.8 55.3h0M484.2 100.0h0M412.8 122.7h0M577.6 92.2h0M481.2 88.4h0M444.7 65.0h0M523.6 96.9h0M385.6 26.5h0M590.3 117.2h0M525.1 116.0h0M603.3 118.6h0M433.3 74.0h0M491.0 72.3h0M400.1 92.4h0M429.2 44.8h0M405.7 125.9h0M436.7 64.2h0M591.4 79.4h0M546.9 85.5h0M396.4 35.4h0M573.3 74.1h0M573.5 67.9h0M421.0 77.6h0M463.3 59.4h0M479.9 109.6h0M380.8 85.6h0M447.6 64.4h0M589.1 114.9h0M542.2 54.9h0M552.0 22.3h0M428.8 116.0h0M427.2 110.0h0M495.7 69.7h0M491.5 64.0h0M542.2 56.4h0M407.1 100.2h0M605.7 90.5h0M574.6 71.3h0M402.6 108.8h0M454.7 51.3h0M387.6 67.2h0M424.6 123.3h0M518.6 66.6h0M555.1 63.4h0M591.2 67.7h0M557.4 24.6h0M407.4 34.2h0M434.0 24.9h0M391.4 34.0h0M568.0 66.5h0M472.6 87.4h0M539.4 96.1h0M510.1 95.5h0M437.7 101.3h0M522.8 64.8h0M561.2 72.9h0M408.7 32.4h0M392.9 82.2h0M415.6 53.2h0M558.6 33.4h0M560.4 45.4h0M381.4 83.9h0M527.1 125.4h0M383.7 58.8h0M420.9 90.5h0M473.8 40.2h0M599.1 80.9h0M557.6 32.0h0M461.2 66.0h0M395.4 86.5h0M579.7 85.4h0M415.6 91.8h0M595.0 103.6h0M577.7 95.3h0M453.2 124.2h0M521.6 58.2h0M568.9 86.9h0M526.3 49.7h0M485.5 125.3h0M421.7 70.4h0M500.3 83.9h0M389.3 61.5h0M498.6 118.6h0M415.4 43.9h0M451.8 35.4h0M473.2 78.1h0M430.0 76.7h0M560.5 100.7h0M440.7 103.0h0M469.6 59.0h0M412.7 57.4h0M454.2 24.2h0M479.2 124.3h0M464.7 51.7h0M415.0 93.5h0M535.4 67.3h0M457.1 111.4h0M602.7 125.8h0M411.8 61.0h0M602.4 54.7h0M574.3 53.4h0M529.7 115.3h0M539.9 84.0h0M451.1 109.3h0M402.7 29.0h0M582.5 23.8h0M547.0 91.3h0M495.7 68.9h0M451.2 61.2h0M520.1 125.1h0M467.8 106.2h0M550.0 108.6h0M569.5 27.7h0M576.4 48.0h0M411.9 70.4h0M435.7 115.8h0M398.1 61.4h0M521.4 87.3h0M584.7 117.9h0M577.4 115.3h0M516.9 98.1h0M583.6 47.1h0M492.5 123.3h0M479.0 101.3h0M453.1 77.5h0M429.0 37.7h0M452.8 34.7h0M524.1 92.7h0M454.1 69.6h0M565.0 24.3h0M562.0 93.7h0M445.6 53.2h0M572.7 25.0h0M488.7 47.5h0M482.9 52.7h0M479.7 92.3h0M476.9 39.0h0M544.4 61.2h0M582.8 63.6h0M392.4 47.7h0M529.3 122.7h0M432.9 64.5h0M456.1 42.1h0M438.7 125.5h0M542.1 79.7h0M564.7 63.3h0M563.8 60.5h0M427.7 69.9h0M438.8 47.5h0M599.9 108.6h0M430.0 106.8h0M507.3 33.3h0M592.6 74.0h0M524.5 76.2h0M396.3 92.9h0M522.8 123.5h0M548.1 80.6h0M437.5 37.7h0M384.6 73.8h0M497.2 103.8h0M423.4 72.2h0M513.7 72.9h0M475.4 100.8h0M394.3 80.9h0M545.5 68.8h0M477.7 92.7h0M514.9 104.5h0M450.6 39.6h0M465.9 73.3h0M386.2 64.9h0M483.2 73.2h0M602.8 33.5h0M410.9 60.2h0M579.9 91.2h0M561.1 64.5h0M586.4 108.3h0M584.8 111.1h0M384.0 98.6h0M412.3 80.9h0M592.1 55.8h0M557.7 35.0h0M421.4 70.3h0M562.8 99.6h0M390.8 117.1h0M437.5 61.9h0M572.7 115.9h0M574.0 92.9h0M597.4 72.4h0M521.6 95.9h0M455.5 109.0h0M552.6 75.5h0M566.3 56.9h0M456.2 49.4h0M479.9 38.8h0M596.0 62.8h0M551.7 98.8h0M483.4 55.3h0M473.1 32.8h0M528.3 25.8h0M588.7 76.1h0M526.5 75.0h0M454.2 73.7h0M503.8 75.7h0M470.9 44.9h0M559.7 69.8h0M404.4 102.7h0M394.1 29.0h0M549.3 23.4h0M485.5 102.7h0M491.9 58.8h0M426.7 72.0h0M421.5 102.4h0M560.2 56.7h0M513.8 59.6h0M397.1 43.0h0M420.9 81.1h0M514.4 126.5h0M401.3 71.5h0M516.6 57.4h0M398.9 98.6h0M452.4 78.9h0M491.9 59.3h0M560.7 111.1h0M506.1 38.5h0M516.7 113.2h0M548.0 58.9h0M441.3 114.7h0M578.1 41.0h0M488.1 97.8h0M461.9 67.7h0M579.4 37.0h0M468.0 44.8h0M487.2 94.4h0M525.7 54.3h0M418.3 113.4h0M400.5 29.8h0M486.2 48.9h0M538.3 110.1h0M531.3 68.5h0M389.0 80.0h0M544.1 68.9h0M557.1 114.4h0M405.4 100.2h0M397.1 31.8h0M391.4 66.3h0M427.0 126.3h0M461.9 108.2h0M425.7 84.8h0M599.7 23.4h0M467.4 85.2h0M451.9 49.5h0M417.7 45.5h0M410.5 79.9h0M603.8 108.0h0M466.2 37.8h0M537.8 114.6h0M396.8 70.4h0M382.9 31.6h0M476.5 49.2h0M507.3 122.8h0M461.8 110.7h0M418.3 90.1h0M495.8 43.4h0M518.2 108.0h0M539.6 103.3h0M522.4 23.9h0M546.1 123.0h0M456.5 30.0h0M489.7 103.1h0M491.9 87.8h0M472.5 98.6h0M387.8 123.1h0M411.2 24.6h0M459.3 110.1h0M531.9 36.3h0M393.0 101.1h0M411.4 57.7h0M395.1 90.7h0M591.6 25.6h0M475.5 36.4h0M479.0 96.8h0M566.8 88.5h0M410.4 76.3h0M581.7 95.5h0M495.2 29.5h0M471.0 27.9h0M552.7 84.7h0M568.4 77.8h0M524.1 108.6h0M558.9 23.4h0M404.7 35.3h0M431.5 109.5h0M493.3 85.2h0M592.9 109.9h0M395.8 42.3h0M487.0 80.1h0M567.4 84.2h0M559.5 100.4h0M582.2 44.5h0M432.0 28.7h0M440.1 36.2h0M387.7 23.3h0M560.4 29.2h0M604.8 124.3h0M567.9 121.4h0M380.9 116.9h0M462.9 77.1h0M392.5 42.9h0M575.3 110.9h0M435.3 102.9h0M492.0 45.2h0M497.5 68.5h0M551.0 24.7h0M381.2 38.3h0M460.3 115.7h0M382.0 86.0h0M412.0 36.8h0M560.0 96.8h0M429.3 33.0h0M532.4 55.6h0M479.7 92.1h0M549.8 126.9h0M425.9 94.2h0M560.1 27.6h0M452.6 121.1h0M409.9 78.0h0M494.7 68.1h0M476.9 53.7h0M427.3 48.3h0M547.3 59.9h0M583.9 32.1h0M578.0 29.7h0M498.8 115.3h0M442.4 127.1h0M407.9 56.7h0M528.0 123.2h0M546.0 110.7h0M535.0 51.7h0M438.8 36.2h0M594.2 24.1h0M412.5 126.8h0M452.8 36.1h0M470.2 97.5h0M515.1 105.6h0M449.4 78.3h0M469.9 64.3h0M579.7 63.7h0M472.6 49.7h0M423.5 102.1h0M560.3 117.6h0M467.2 37.2h0M595.5 39.0h0M531.8 100.7h0M564.5 73.6h0M438.0 118.7h0M547.2 51.8h0M580.6 27.3h0M468.6 62.0h0M565.1 84.7h0M518.6 57.3h0M584.2 28.2h0M539.1 52.0h0M494.2 26.4h0M523.3 104.5h0M592.6 43.4h0M423.2 28.8h0M605.1 49.7h0M586.5 32.7h0M451.2 65.4h0M467.7 66.5h0M567.2 126.4h0M383.5 62.8h0M564.4 28.5h0M466.3 59.9h0M486.5 106.4h0M503.5 39.2h0M450.1 89.2h0M489.0 81.5h0M547.6 70.6h0M569.6 30.8h0M415.9 43.9h0M503.0 88.8h0M458.0 65.8h0M515.1 67.0h0M396.5 73.1h0M509.4 78.5h0M474.7 106.2h0M510.3 67.5h0M404.1 93.0h0M488.6 74.9h0M507.5 84.2h0M547.0 47.1h0M531.7 80.5h0M440.8 67.7h0M491.1 112.5h0M400.5 63.0h0M500.7 44.3h0M500.2 34.1h0M409.2 103.3h0M403.2 81.6h0M597.9 97.3h0M592.5 34.2h0M510.3 85.4h0M532.4 100.8h0M599.0 71.6h0M463.8 63.2h0M452.0 85.4h0M417.0 89.2h0M404.8 47.1h0M483.9 32.6h0M594.5 84.3h0M545.0 115.8h0M426.7 26.0h0M467.0 86.6h0M434.5 68.1h0M482.5 121.8h0M451.9 104.9h0M412.4 111.9h0M482.0 119.9h0M591.2 79.8h0M458.1 29.3h0M560.6 125.7h0M537.4 53.0h0M579.7 86.8h0M385.6 105.9h0M402.1 110.5h0M446.5 44.1h0M593.6 108.1h0M408.0 63.9h0M423.8 61.7h0M380.4 123.9h0M493.4 67.0h0M551.3 28.8h0M413.6 52.9h0M509.1 122.6h0M397.5 84.9h0M604.1 95.2h0M403.3 100.0h0M495.7 102.7h0M578.9 69.7h0M386.6 48.9h0M465.6 44.3h0M583.8 37.3h0M580.9 34.8h0M462.9 60.4h0M495.0 105.5h0M583.0 70.2h0M471.6 81.5h0M433.4 89.4h0M401.7 67.6h0M518.1 32.2h0M558.5 101.0h0M470.9 106.4h0M421.6 92.3h0M557.1 56.8h0M567.5 50.1h0M416.5 113.1h0M551.0 37.8h0M478.7 115.2h0M604.7 109.2h0M467.0 24.0h0M455.3 45.4h0M454.4 65.3h0M435.3 111.4h0M516.4 114.5h0M571.6 46.7h0M438.0 100.4h0M442.2 89.5h0M565.7 107.9h0M402.1 122.7h0M460.5 102.9h0M382.5 99.7h0M401.6 51.0h0M519.8 89.6h0M451.6 48.6h0M384.2 105.0h0M392.1 119.2h0M522.0 65.7h0M549.4 25.3h0M538.2 26.8h0M503.0 90.5h0M381.7 124.5h0M516.3 63.6h0M440.4 24.3h0M465.5 109.6h0M432.6 30.2h0M501.8 107.9h0M589.5 110.1h0M525.0 68.3h0M428.7 80.0h0M485.4 115.7h0M514.1 121.2h0M458.0 104.1h0M550.0 58.1h0M530.1 123.6h0M448.6 52.9h0M493.1 98.4h0M546.6 126.3h0M435.8 114.1h0M561.0 72.3h0M556.6 60.2h0M534.3 81.7h0M458.7 25.7h0M405.3 68.2h0M498.7 30.0h0M478.7 121.5h0M456.6 69.3h0M395.0 107.1h0M470.8 94.9h0M558.5 83.4h0M560.6 102.9h0M582.1 109.8h0M499.6 88.1h0M410.0 23.8h0M501.5 65.9h0M422.3 86.5h0M398.6 39.7h0M515.0 55.7h0M424.4 51.3h0M441.7 71.0h0M394.2 121.7h0M529.4 52.7h0M605.8 63.2h0M410.6 40.1h0M383.4 77.1h0M578.0 79.4h0M537.5 122.6h0M530.7 98.9h0M385.5 107.1h0M523.5 33.3h0M397.4 43.4h0M542.1 121.7h0M472.0 83.4h0M414.0 116.6h0M560.9 118.3h0M535.5 26.7h0M434.0 98.6h0M459.3 107.2h0M593.2 42.2h0M395.3 105.7h0M404.2 95.0h0M531.8 82.8h0M553.9 29.8h0M562.9 26.2h0M424.4 98.9h0M445.2 24.1h0M579.1 62.9h0M402.0 41.7h0M599.3 116.6h0M469.6 100.9h0M386.5 113.6h0M404.3 95.9h0M431.4 69.3h0M562.4 35.2h0M380.5 69.0h0M535.0 69.4h0M465.1 120.0h0M462.3 70.2h0M588.0 78.9h0M474.6 115.5h0M564.2 27.9h0M565.9 32.9h0M570.2 112.6h0M397.4 71.6h0M597.5 49.6h0M509.0 111.1h0M597.5 113.2h0M503.8 50.0h0M443.8 27.4h0M593.1 36.3h0M498.7 56.1h0M452.1 48.9h0M561.2 27.0h0M446.4 35.7h0M593.4 77.7h0M444.5 117.5h0M385.1 29.3h0M460.5 50.4h0M580.3 85.7h0M515.1 104.7h0M397.6 80.8h0M592.4 99.1h0M425.6 49.2h0M600.4 30.7h0M513.7 119.2h0M533.8 109.4h0M597.8 40.3h0M517.3 70.3h0M492.5 75.8h0M537.0 62.4h0M515.0 121.2h0M457.6 41.7h0M446.2 63.8h0M493.5 121.8h0M394.7 78.5h0M404.4 113.7h0M572.5 79.9h0M522.5 89.5h0M545.4 69.5h0M583.2 76.9h0M598.3 122.4h0M467.2 27.9h0M552.5 94.8h0M495.8 36.2h0M459.4 47.7h0M580.2 96.9h0M575.9 69.2h0M426.2 49.6h0M427.5 79.2h0M515.6 113.2h0M562.5 82.5h0M442.6 32.6h0M407.5 88.1h0M533.7 62.6h0M529.4 82.8h0M556.1 60.0h0M483.3 105.4h0M564.3 87.4h0M479.0 86.3h0M392.9 71.5h0M485.0 44.7h0M604.6 84.6h0M493.5 86.8h0M480.0 111.4h0M549.6 72.0h0M514.3 112.7h0M392.6 55.9h0M542.9 69.7h0M418.6 75.8h0M402.1 79.6h0M393.5 29.1h0M380.9 88.4h0M599.8 120.4h0M415.4 38.0h0M445.5 126.1h0M435.8 94.2h0M549.1 81.7h0M464.5 94.5h0M381.9 95.1h0M557.0 121.9h0M380.9 23.7h0M551.4 81.0h0M534.4 73.1h0M381.1 116.4h0M597.5 89.4h0M404.8 51.2h0M548.9 124.2h0M592.2 85.1h0M471.9 94.6h0M513.8 51.2h0M503.0 22.6h0M585.8 93.2h0M454.2 83.5h0M389.3 93.1h0M445.0 48.5h0M428.5 67.3h0M489.2 63.3h0M505.0 93.9h0M412.6 54.4h0M497.4 85.1h0M504.9 27.5h0M531.4 53.3h0M426.0 118.3h0M536.6 84.4h0M502.6 116.2h0M465.1 97.4h0M495.0 93.4h0M425.9 103.9h0M558.1 102.6h0M476.3 31.0h0M484.9 63.0h0M549.0 99.3h0M515.0 100.1h0M486.0 87.9h0M557.0 48.9h0M406.4 85.7h0M518.7 68.3h0M600.0 79.4h0M511.2 101.3h0M446.3 55.9h0M411.3 95.0h0M410.9 118.9h0M603.3 70.1h0M528.2 30.6h0M557.7 59.0h0M602.1 122.3h0M390.0 82.0h0M392.7 98.5h0M459.2 116.0h0M392.9 55.4h0M482.5 29.9h0M473.4 70.2h0M528.4 83.9h0M510.0 87.8h0M540.2 120.2h0M522.0 70.6h0M411.4 71.9h0M522.5 69.7h0M480.9 43.6h0M418.6 39.7h0M523.9 80.5h0M491.3 33.7h0M482.9 70.2h0M420.5 38.4h0M410.1 57.8h0M495.6 109.7h0M567.2 101.5h0M479.2 111.3h0M442.5 106.0h0M523.8 94.1h0M592.7 108.2h0M600.8 71.6h0M559.3 106.6h0M545.6 117.4h0M600.8 75.5h0M503.0 115.8h0M528.9 28.8h0M430.5 123.0h0M507.1 124.7h0M446.6 41.3h0M587.0 96.1h0M440.5 26.3h0M420.6 60.9h0M492.5 41.0h0M427.6 49.4h0M490.2 65.5h0M461.6 30.4h0M593.8 98.1h0M577.8 82.9h0M464.9 88.5h0M473.2 73.9h0M604.6 78.6h0M410.8 22.6h0M391.8 33.5h0M544.8 123.8h0M524.1 38.4h0M560.8 54.1h0M421.9 23.5h0M431.3 28.5h0M447.6 46.8h0M506.9 28.2h0M409.2 104.2h0M488.9 27.6h0M602.5 105.7h0M434.7 68.4h0M558.9 101.3h0M427.2 115.0h0M551.3 36.5h0M535.3 87.1h0M393.2 82.8h0M500.9 105.9h0M501.2 114.8h0M466.8 89.7h0M547.9 113.3h0M600.8 52.7h0M443.1 84.0h0M535.8 116.3h0M429.3 114.7h0M399.3 103.3h0M532.4 65.4h0M561.5 38.7h0M600.0 45.3h0M511.6 38.3h0M534.5 40.0h0M411.0 67.0h0M473.8 69.3h0M417.4 77.8h0M483.2 77.3h0M460.0 67.2h0M384.8 106.7h0M503.7 45.8h0M434.8 49.5h0M432.8 37.8h0M404.6 76.4h0M534.2 41.0h0M508.4 60.9h0M462.4 74.3h0M507.0 87.8h0M468.2 31.8h0M569.1 94.9h0M588.5 32.0h0M514.3 45.3h0M543.9 58.2h0M482.1 72.4h0M540.5 30.8h0M425.8 120.5h0M385.4 67.1h0M458.6 92.7h0M435.8 97.2h0M462.5 64.6h0M448.0 109.5h0M388.6 100.1h0M419.8 37.0h0M418.8 111.7h0M443.2 26.9h0M440.5 79.4h0M542.1 66.9h0M520.4 66.0h0M510.5 23.4h0M566.9 113.0h0M424.3 67.2h0M557.5 111.2h0M521.7 95.4h0M583.9 100.6h0M507.1 23.9h0M560.4 87.8h0M472.7 104.9h0M451.9 103.9h0M419.2 87.6h0M518.0 115.7h0M410.3 35.2h0M492.5 117.0h0M566.1 95.0h0M569.0 40.5h0M559.0 45.4h0M605.6 26.2h0M502.9 70.7h0M438.5 83.6h0M589.3 105.7h0M456.3 121.4h0M473.8 97.1h0M446.3 46.2h0M500.5 107.1h0M482.7 80.8h0M525.5 120.6h0M419.8 46.1h0M410.3 104.3h0M537.1 105.1h0M504.1 62.9h0M387.0 85.7h0M389.7 127.0h0M399.2 111.5h0M571.8 68.5h0M514.1 119.2h0M535.5 55.2h0M467.6 31.5h0M584.6 48.1h0M459.2 72.4h0M468.2 84.8h0M504.1 37.2h0M497.4 90.9h0M552.4 32.5h0M526.1 67.0h0M474.0 69.4h0M481.3 114.1h0M592.1 61.0h0M404.7 73.6h0M438.3 40.5h0M461.4 58.1h0M449.4 76.6h0M399.0 58.8h0M475.8 73.0h0M552.6 46.9h0M466.9 103.9h0M466.6 120.2h0M396.6 44.9h0M469.7 116.2h0M418.3 109.5h0M547.6 124.8h0M480.9 79.5h0M512.4 56.1h0M589.8 90.4h0M516.0 29.5h0M456.4 25.8h0M465.0 50.8h0M493.2 54.5h0M394.2 100.3h0M380.3 115.4h0M391.6 109.7h0M413.3 97.3h0M562.7 97.7h0M598.4 107.6h0M395.1 50.9h0M559.4 35.8h0M411.7 124.5h0M415.7 80.0h0M413.2 48.7h0M554.3 46.0h0M455.8 109.5h0M572.3 110.7h0M388.0 43.8h0M419.4 78.3h0M438.9 122.4h0M576.4 127.0h0M483.2 49.8h0M512.3 52.6h0M486.7 53.5h0M532.5 68.3h0M468.2 38.6h0M424.7 46.5h0M537.1 38.2h0M465.9 72.4h0M571.4 99.7h0M497.1 47.7h0M492.7 106.3h0M524.1 77.8h0M405.7 23.6h0M410.1 122.7h0M588.4 75.0h0M445.9 87.8h0M457.4 105.5h0M551.2 61.0h0M556.6 84.4h0M557.7 32.4h0M412.6 118.6h0M491.6 92.6h0M547.5 78.9h0M503.5 73.9h0M534.1 118.8h0M440.6 121.3h0M410.2 71.9h0M571.8 109.2h0M517.1 63.0h0M500.1 94.0h0M495.6 37.9h0M461.0 96.0h0M519.4 115.4h0M542.5 80.3h0M596.5 123.4h0M469.8 63.0h0M539.8 28.7h0M388.4 105.7h0M470.5 77.6h0M497.6 33.1h0M396.5 64.8h0M409.5 86.0h0M601.2 57.3h0M577.9 97.3h0M530.8 102.1h0M551.2 112.0h0M523.8 83.2h0M380.8 125.8h0M464.1 47.6h0M522.3 110.7h0M462.5 83.2h0M600.4 116.4h0M551.7 49.7h0M481.1 120.5h0M565.7 90.7h0M601.8 127.5h0M438.5 59.5h0M573.4 33.5h0M389.0 50.9h0M567.8 84.3h0M392.6 119.8h0M471.5 71.5h0M537.0 64.3h0M472.0 29.2h0M486.0 25.5h0M425.5 122.6h0M541.7 126.7h0M416.4 61.7h0M541.1 70.2h0M565.1 90.1h0M500.5 112.0h0M467.1 78.7h0M426.2 123.0h0M545.1 104.7h0M386.7 72.4h0M447.7 60.1h0M461.9 50.7h0M506.1 23.4h0M423.2 27.4h0M488.1 68.1h0M382.7 62.9h0M425.4 112.5h0M407.7 83.8h0M478.0 107.7h0M507.8 22.6h0M462.3 122.8h0M415.9 126.6h0M530.6 63.9h0M605.0 74.2h0M577.2 101.9h0M521.0 31.3h0M481.4 43.7h0M498.9 93.3h0M512.0 78.4h0M384.7 41.6h0M459.0 40.0h0M596.4 113.0h0M422.3 69.9h0M457.4 45.7h0M416.1 107.3h0M471.2 47.8h0M486.3 54.3h0M599.0 66.4h0M507.0 125.6h0M403.5 43.2h0M594.3 76.7h0M494.6 55.4h0M409.6 114.6h0M548.6 69.9h0M542.0 45.3h0M603.2 92.5h0M519.2 123.9h0M570.6 92.1h0M489.9 55.3h0M604.1 43.1h0M592.3 113.9h0M387.9 101.2h0M519.5 85.8h0M430.0 51.4h0M603.9 123.5h0M485.8 75.7h0M469.9 30.0h0M504.2 73.4h0M482.2 44.6h0M535.7 47.8h0M520.5 95.6h0M448.2 76.7h0M479.5 45.0h0M581.7 116.3h0M401.8 37.6h0M530.0 67.5h0M436.4 125.8h0M528.1 100.5h0M415.6 57.3h0M499.8 30.5h0M584.7 120.8h0M514.4 46.2h0M494.3 76.3h0M597.0 94.3h0M402.6 57.9h0M409.9 23.0h0M545.5 92.3h0M568.0 115.6h0M464.0 33.4h0M475.7 61.5h0M393.0 30.3h0M576.3 48.0h0M384.4 29.9h0M558.5 89.9h0M465.3 71.3h0M588.1 84.4h0M517.3 24.5h0M519.6 106.7h0M582.1 56.9h0M562.7 101.2h0M570.6 28.7h0M401.3 57.6h0M432.5 97.0h0M508.6 59.2h0M531.3 70.6h0M404.9 44.2h0M461.6 51.6h0M561.1 102.1h0M528.3 110.7h0M436.8 26.4h0M467.5 26.0h0M503.1 45.7h0M454.3 24.1h0M503.6 22.6h0M415.9 113.6h0M496.7 30.5h0M382.3 94.1h0M583.7 80.1h0M446.3 47.9h0M399.1 118.9h0M584.0 62.4h0M487.3 88.1h0M409.6 47.1h0M495.2 79.1h0M575.9 53.4h0M492.4 51.6h0M398.8 122.1h0M465.2 123.7h0M526.3 117.1h0M495.2 26.4h0M467.2 87.1h0M519.7 91.0h0M560.4 87.5h0M387.4 119.8h0M422.3 59.6h0M394.5 27.4h0M454.4 40.4h0M571.2 35.4h0M596.5 115.1h0M388.3 125.1h0M592.5 58.4h0M519.7 28.3h0M483.0 34.5h0M565.6 39.4h0M576.2 118.4h0M440.8 119.6h0M392.4 98.9h0M567.7 94.9h0M504.1 71.0h0"/>
<text class="k" x="379.0" y="149.5" text-anchor="middle">0</text>
<text class="k" x="448.2" y="149.5" text-anchor="middle">2</text>
<text class="k" x="517.3" y="149.5" text-anchor="middle">4</text>
<text class="k" x="587.5" y="149.5" text-anchor="middle">6</text>
<text class="k" x="656.9" y="149.5" text-anchor="middle">8</text>
<text class="k" x="375.1" y="135.1" text-anchor="end">0</text>
<text class="k" x="375.1" y="54.2" text-anchor="end">5</text>
<text class="x" x="379.9" y="20.4">×</text><text class="k" x="393.9" y="18.3" letter-spacing="-1.4">10</text><text class="k s" x="412.0" y="9.9">4</text>
<text class="x" x="616.9" y="178.9">×</text><text class="k" x="630.9" y="176.8" letter-spacing="-1.4">10</text><text class="k s" x="649.0" y="168.4">4</text>
<text class="t" x="518.0" y="14.5" text-anchor="middle">Horizontal</text>
<path class="av" d="M15.0 208.8V314.7"/>
<path class="ah" d="M14.0 314.0H291.0"/>
<path class="tk" d="M84.0 314.0v-2.6M153.0 314.0v-2.6M222.0 314.0v-2.6M291.0 314.0v-2.6M16.0 233.7h2.2"/>
<path class="d" d="M62.4 293.7h0M137.8 256.7h0M162.6 243.7h0M62.2 277.0h0M103.8 267.3h0M111.4 260.6h0M100.8 270.3h0M110.0 280.0h0M64.6 283.4h0M108.9 254.3h0M135.5 268.6h0M113.8 257.1h0M150.3 243.9h0M107.8 278.5h0M68.3 283.7h0M102.1 260.5h0M72.6 279.8h0M166.8 241.4h0M137.8 259.5h0M170.9 242.2h0M120.9 256.8h0M144.9 263.2h0M135.0 269.1h0M114.1 253.0h0M188.2 238.1h0M119.7 262.0h0M140.9 247.9h0M136.4 272.9h0M104.3 270.7h0M170.9 253.6h0M149.0 261.9h0M173.3 245.8h0M75.0 277.6h0M144.3 258.8h0M118.4 269.6h0M139.5 248.3h0M106.4 261.3h0M74.6 298.1h0M71.3 276.6h0M136.3 260.6h0M169.0 250.7h0M168.3 259.4h0M82.3 254.2h0M109.1 281.8h0M56.8 304.2h0M123.5 274.4h0M123.1 268.4h0M127.5 252.5h0M64.0 267.9h0M163.1 242.7h0M156.3 257.9h0M133.2 257.2h0M132.5 265.7h0M46.9 302.7h0M136.8 252.3h0M129.9 257.2h0M174.1 252.7h0M138.6 255.7h0M86.4 274.8h0M40.6 291.6h0M119.8 245.6h0M171.9 240.5h0M132.2 237.0h0M134.4 261.2h0M50.7 280.1h0M181.3 251.2h0M105.5 257.6h0M119.3 288.2h0M169.3 243.8h0M73.9 289.4h0M114.5 261.9h0M94.0 265.0h0M87.0 276.5h0M145.7 243.4h0M60.8 278.1h0M83.7 280.1h0M101.9 252.3h0M127.8 266.0h0M126.8 252.0h0M148.3 257.6h0M97.3 290.6h0M85.3 256.3h0M178.3 251.6h0M160.4 255.5h0M87.9 280.1h0M86.1 269.5h0M83.4 271.1h0M91.3 267.5h0M163.1 234.3h0M94.4 279.4h0M139.0 266.2h0M122.2 260.6h0M140.0 244.8h0M183.2 253.1h0M72.9 284.1h0M154.6 240.6h0M164.1 259.9h0M99.9 263.4h0M57.2 286.6h0M106.7 279.8h0M110.0 276.2h0M107.2 266.6h0M104.5 282.9h0M91.6 282.6h0M117.5 256.8h0M181.0 234.6h0M117.6 253.5h0M70.9 279.8h0M132.1 254.5h0M122.5 255.7h0M124.3 264.1h0M157.4 248.5h0M157.8 241.7h0M146.1 254.9h0M150.6 258.7h0M75.2 280.9h0M135.3 264.6h0M142.1 254.3h0M171.8 260.2h0M140.5 236.3h0M183.8 242.2h0M74.5 304.6h0M92.1 281.9h0M108.2 262.8h0M127.6 262.5h0M97.8 269.7h0M169.9 239.8h0M78.7 283.3h0M107.9 265.8h0M169.4 234.8h0M42.1 306.2h0M123.1 270.3h0M183.3 249.0h0M134.8 247.6h0M149.5 257.0h0M176.1 244.9h0M132.0 252.6h0M71.3 282.7h0M130.1 245.2h0M176.7 253.9h0M142.4 275.2h0M153.5 277.8h0M100.9 276.4h0M126.7 255.1h0M176.5 251.2h0M181.5 241.3h0M108.8 275.1h0M118.3 262.6h0M125.0 248.6h0M153.0 252.2h0M190.0 228.2h0M98.0 279.1h0M184.0 235.3h0M133.6 266.0h0M114.2 270.7h0M180.3 228.8h0M107.4 275.1h0M126.0 269.5h0M196.3 234.2h0M137.5 266.1h0M102.5 269.5h0M104.0 277.2h0M103.5 258.0h0M109.4 273.4h0M89.5 278.2h0M173.5 277.1h0M99.2 262.8h0M97.1 250.3h0M181.0 261.1h0M193.3 234.6h0M68.2 275.2h0M107.8 268.5h0M149.3 243.1h0M195.8 247.3h0M179.1 236.8h0M71.8 289.9h0M106.4 263.6h0M62.0 285.3h0M165.8 249.0h0M48.1 296.3h0M174.1 257.9h0M140.0 257.7h0M109.6 270.7h0M105.1 280.2h0M113.7 280.3h0M111.6 268.7h0M153.0 259.4h0M153.9 245.0h0M111.6 266.9h0M87.6 284.4h0M130.7 274.4h0M72.2 284.9h0M63.3 310.5h0M101.3 283.1h0M149.2 255.8h0M152.5 246.8h0M109.8 256.5h0M71.3 272.2h0M156.8 234.4h0M133.8 233.0h0M172.4 243.1h0M103.2 287.0h0M151.6 257.8h0M150.1 232.3h0M124.3 249.9h0M139.1 257.3h0M113.8 264.9h0M114.5 263.1h0M125.3 265.5h0M97.6 278.8h0M117.8 275.1h0M121.6 272.0h0M116.4 261.7h0M131.1 274.4h0M89.1 266.6h0M110.2 280.4h0M150.7 247.4h0M110.6 288.0h0M95.9 280.1h0M112.8 260.6h0M83.5 261.0h0M109.9 279.3h0M81.7 267.8h0M101.2 260.6h0M170.9 246.9h0M169.6 237.8h0M136.8 253.8h0M141.6 261.8h0M77.5 284.4h0M97.9 263.8h0M141.6 248.1h0M76.0 288.2h0M143.5 254.7h0M123.3 281.1h0M132.1 266.1h0M161.2 264.6h0M108.8 272.4h0M100.3 267.9h0M140.5 256.0h0M162.1 255.9h0M112.7 267.6h0M113.1 264.5h0M86.5 286.6h0M157.1 266.7h0M117.1 264.5h0M51.3 295.5h0M188.5 236.0h0M136.6 251.6h0M118.1 275.4h0M136.8 256.3h0M164.3 267.2h0M123.6 239.5h0M78.9 285.6h0M187.9 230.0h0M155.1 263.8h0M146.5 256.4h0M135.5 237.3h0M66.4 286.2h0M107.9 272.4h0M116.5 268.8h0M107.7 267.7h0M177.0 236.5h0M102.3 269.5h0M51.4 291.1h0M162.6 252.9h0M98.3 296.0h0M148.7 249.0h0M193.9 232.8h0M79.7 294.8h0M145.5 261.7h0M103.3 267.7h0M181.2 246.4h0M174.2 240.1h0M87.8 279.6h0M131.9 241.7h0M136.8 247.4h0M125.2 250.2h0M91.1 271.9h0M55.5 280.6h0M148.8 250.9h0M80.6 292.9h0M129.7 267.3h0M101.0 289.0h0M109.4 267.2h0M148.7 254.7h0M120.5 267.5h0M92.2 265.2h0M150.0 252.4h0M127.9 258.7h0M127.0 277.4h0M160.9 249.0h0M162.6 240.4h0M119.5 256.2h0M115.7 272.4h0M117.1 247.1h0M128.1 256.8h0M158.2 251.1h0M139.6 261.9h0M132.9 261.2h0M128.5 267.7h0M151.9 233.8h0M159.1 266.0h0M169.1 261.2h0M96.3 280.4h0M128.8 282.7h0M156.1 270.3h0M53.8 289.9h0M122.5 265.7h0M126.4 260.8h0M150.8 247.8h0M64.0 274.6h0M122.8 261.7h0M165.0 246.1h0M151.7 250.8h0M143.3 245.4h0M130.3 258.5h0M78.5 275.6h0M137.2 251.5h0M155.8 246.1h0M102.9 289.9h0M159.8 258.4h0M46.1 293.4h0M196.9 236.3h0M182.6 261.6h0M97.4 271.7h0M104.9 257.0h0M198.5 237.8h0M102.7 261.4h0M144.3 244.5h0M116.2 263.3h0M178.7 242.3h0M152.9 265.3h0M116.3 277.1h0M186.5 231.6h0M110.2 266.8h0M147.7 278.5h0M102.9 259.4h0M114.6 263.2h0M109.4 275.9h0M178.7 237.0h0M79.4 257.7h0M98.6 249.8h0M85.1 281.6h0M112.5 276.2h0M136.5 261.5h0M137.2 262.5h0M181.4 241.6h0M109.7 273.5h0M76.0 272.3h0M100.3 267.4h0M180.0 232.1h0M187.9 245.6h0M100.1 273.3h0M135.4 254.1h0M110.3 264.4h0M119.5 286.5h0M143.5 267.7h0M149.1 252.4h0M163.1 263.5h0M189.9 244.5h0M115.2 276.1h0M153.6 250.8h0M142.9 258.8h0M129.3 271.6h0M88.7 283.4h0M123.2 264.3h0M166.3 244.4h0M123.7 281.5h0M138.0 259.0h0M135.6 262.8h0M109.6 254.1h0M108.5 266.1h0M122.9 269.2h0M151.2 244.6h0M134.0 250.3h0M137.9 242.5h0M106.7 263.0h0M94.9 272.6h0M96.9 258.8h0M146.1 255.4h0M119.4 273.5h0M193.1 246.5h0M124.3 261.0h0M127.4 278.9h0M69.1 267.3h0M83.7 282.9h0M140.1 252.5h0M113.1 256.3h0M73.4 282.3h0M99.9 265.6h0M115.9 279.0h0M143.4 232.6h0M150.7 255.8h0M136.0 246.6h0M124.4 268.8h0M141.5 255.4h0M95.1 265.6h0M147.2 234.0h0M116.2 262.8h0M77.8 271.6h0M113.8 256.4h0M82.1 285.6h0M61.7 266.2h0M166.7 256.6h0M156.4 242.8h0M129.0 249.8h0M77.5 288.5h0M101.5 281.3h0M111.4 270.7h0M76.3 279.1h0M139.6 253.4h0M103.2 280.4h0M150.8 279.2h0M114.2 265.3h0M94.4 256.8h0M142.1 260.1h0M113.9 252.5h0M179.3 243.9h0M186.0 247.7h0M167.8 247.1h0M169.8 231.5h0M138.3 250.5h0M141.7 253.0h0M147.7 251.6h0M135.4 267.8h0M173.1 238.3h0M168.5 235.7h0M92.4 264.3h0M178.9 253.6h0M173.1 237.4h0M132.8 257.1h0M105.0 280.9h0M129.5 264.4h0M119.2 279.6h0M152.2 256.6h0M139.1 257.6h0M162.5 245.1h0M140.6 273.2h0M172.0 236.8h0M118.4 280.3h0M53.7 296.4h0M118.7 265.6h0M89.2 278.0h0M136.2 255.6h0M167.8 240.5h0M86.6 255.4h0M130.7 274.8h0M152.5 248.9h0M75.4 268.3h0M113.9 285.0h0M153.5 243.7h0M141.5 261.9h0M121.1 263.0h0M95.2 269.6h0M180.1 237.3h0M105.8 275.6h0M63.6 295.5h0M123.8 272.2h0M189.3 232.6h0M107.2 270.1h0M162.4 251.9h0M140.1 264.9h0M153.7 251.4h0M94.5 279.9h0M128.2 246.6h0M140.2 239.9h0M85.8 301.6h0M136.3 265.5h0M113.3 266.4h0M143.6 249.8h0M106.6 286.4h0M180.2 231.5h0M106.5 283.3h0M139.7 252.0h0M123.0 262.5h0M168.4 247.7h0M122.3 258.3h0M148.8 250.2h0M75.3 269.8h0M158.4 274.1h0M190.7 241.8h0M89.0 255.6h0M92.1 278.3h0M163.0 239.2h0M93.3 276.9h0M130.8 268.3h0M168.8 241.3h0M108.9 263.6h0M163.8 247.4h0M123.2 260.5h0M186.3 232.0h0M81.4 278.6h0M122.5 276.3h0M147.0 257.9h0M162.6 235.1h0M126.2 267.9h0M133.9 245.7h0M125.7 253.9h0M100.1 265.3h0M106.3 279.9h0M136.6 253.4h0M183.6 237.9h0M149.8 243.5h0M123.9 261.9h0M122.2 277.1h0M80.0 275.2h0M165.5 237.5h0M127.7 266.1h0M81.1 257.7h0M194.9 227.2h0M141.1 256.0h0M104.0 263.3h0M117.5 276.4h0M132.5 273.4h0M99.5 261.6h0M124.3 256.2h0M132.8 256.2h0M150.1 255.8h0M126.4 259.0h0M133.0 264.1h0M180.7 262.5h0M122.9 262.3h0M170.0 247.6h0M165.7 244.6h0M103.6 281.9h0M94.8 285.6h0M98.1 284.0h0M128.4 260.8h0M140.4 268.8h0M113.4 262.9h0M119.4 261.7h0M142.2 258.0h0M130.5 261.7h0M108.7 255.6h0M122.9 264.1h0M172.7 238.1h0M166.0 249.3h0M91.3 291.3h0M157.5 239.7h0M72.0 288.0h0M174.5 255.9h0M95.6 271.8h0M123.2 245.2h0M154.1 251.3h0M106.9 253.8h0M64.1 280.7h0M105.9 277.5h0M103.7 272.6h0M107.1 260.8h0M132.2 248.1h0M138.7 262.4h0M150.5 253.9h0M121.7 236.6h0M107.4 250.6h0M109.6 283.5h0M108.9 281.8h0M105.3 288.8h0M119.1 275.3h0M146.2 264.0h0M78.6 279.8h0M60.4 295.2h0M158.9 236.3h0M135.5 253.9h0M55.2 277.5h0M159.7 250.3h0M168.2 266.8h0M103.2 266.9h0M97.9 271.6h0M136.1 253.3h0M123.0 261.8h0M155.3 251.2h0M74.6 291.7h0M110.5 268.7h0M130.9 252.9h0M45.0 302.3h0M104.5 276.1h0M145.3 262.5h0M135.6 253.2h0M112.8 281.7h0M67.4 289.9h0M81.3 279.0h0M130.5 266.7h0M147.1 269.9h0M173.3 252.8h0M100.5 273.7h0M109.0 265.1h0M122.5 263.0h0M93.8 282.5h0M181.0 232.4h0M50.0 280.4h0M98.9 266.0h0M90.2 267.6h0M116.5 262.7h0M64.7 282.9h0M160.9 251.0h0M73.9 286.4h0M126.1 281.1h0M160.1 260.2h0M113.7 282.3h0M69.1 284.2h0M155.7 246.2h0M154.8 239.0h0M178.3 241.0h0M147.8 270.9h0M145.4 262.9h0M84.5 264.2h0M162.9 243.5h0M140.4 254.2h0M176.8 251.7h0M93.9 271.2h0M54.6 282.7h0M166.7 243.6h0M115.0 261.1h0M130.7 269.4h0M157.7 263.3h0M136.7 255.3h0M123.7 276.3h0M129.7 265.0h0M119.3 262.4h0M112.0 272.1h0M129.3 266.8h0M157.8 244.2h0M135.4 252.9h0M143.1 235.6h0M126.2 263.6h0M61.9 303.4h0M116.8 280.4h0M159.6 232.4h0M166.3 253.1h0M106.4 275.9h0M133.1 250.5h0M142.9 255.0h0M120.7 264.7h0M86.5 263.4h0M167.0 242.2h0M71.8 271.5h0M143.4 251.5h0M30.0 303.2h0M126.5 266.0h0M120.2 256.3h0M136.9 276.6h0M128.7 252.4h0M88.4 287.4h0M150.2 269.5h0M127.3 275.2h0M182.3 238.4h0M124.1 247.7h0M64.9 287.5h0M122.5 251.5h0M84.3 256.8h0M149.7 256.4h0M135.4 261.8h0M124.3 263.1h0M142.3 253.9h0M78.8 296.1h0M84.9 269.8h0M185.4 249.1h0M142.2 264.2h0M159.3 255.9h0M66.6 296.5h0M105.3 269.6h0M117.5 258.5h0M50.0 292.8h0M152.7 244.4h0M106.5 279.8h0M161.5 245.0h0M94.6 273.1h0M166.2 244.0h0M74.3 288.0h0M159.3 231.7h0M112.7 265.1h0M127.4 276.6h0M126.0 253.1h0M113.7 263.8h0M140.4 255.2h0M115.5 265.3h0M84.0 282.7h0M149.6 255.9h0M148.0 261.0h0M106.5 268.7h0M161.1 253.7h0M94.9 248.1h0M106.9 271.4h0M174.0 237.7h0M185.0 240.7h0M130.1 266.8h0M120.4 275.9h0M179.1 243.9h0M100.2 279.9h0M87.3 281.3h0M113.7 280.4h0M162.3 257.5h0M149.2 253.5h0M97.5 260.0h0M133.3 237.0h0M129.3 255.3h0M96.1 281.6h0M184.6 237.7h0M121.8 263.7h0M95.4 271.7h0M81.1 280.5h0M172.9 246.5h0M121.7 268.6h0M115.8 266.3h0M110.2 275.3h0M65.5 295.0h0M58.2 303.1h0M117.4 272.8h0M126.1 262.5h0M66.8 264.6h0M146.3 256.8h0M139.8 243.6h0M68.2 252.6h0M64.5 291.2h0M139.9 240.1h0M134.9 256.3h0M138.4 242.0h0M144.2 263.5h0M121.8 284.6h0M123.8 269.6h0M129.7 253.8h0M104.6 260.8h0M93.3 276.6h0M67.4 271.3h0M114.6 259.4h0M48.1 288.4h0M115.1 266.6h0M126.1 236.9h0M193.7 234.7h0M95.9 257.2h0M121.7 264.3h0M111.9 261.7h0M163.3 244.7h0M136.5 264.7h0M128.6 268.4h0M72.6 255.4h0M88.2 276.3h0M167.5 254.6h0M132.2 244.7h0M187.2 254.0h0M150.8 261.6h0M181.1 235.3h0M115.4 264.5h0M134.9 262.3h0M144.7 276.5h0M96.5 271.4h0M144.1 242.5h0M112.5 261.4h0M120.1 277.8h0M131.4 258.2h0M140.0 259.7h0M128.3 255.5h0M155.4 260.4h0M152.3 244.2h0M122.0 264.1h0M66.5 273.9h0M113.4 277.7h0M178.3 242.7h0M173.6 258.3h0M128.7 258.1h0M91.6 277.9h0M142.1 270.3h0M148.6 259.9h0M73.3 290.7h0M116.6 267.8h0M88.4 305.2h0M132.6 252.6h0M132.8 264.6h0M147.7 252.5h0M122.8 278.6h0M143.0 240.0h0M150.0 244.1h0M129.4 287.8h0M76.6 282.7h0M118.7 240.4h0M116.9 266.0h0M157.2 246.2h0M144.5 256.9h0M149.9 264.4h0M130.1 268.4h0M122.5 254.3h0M155.5 241.3h0M117.0 256.3h0M90.7 274.6h0M123.7 257.4h0M59.7 293.4h0M144.1 255.9h0M144.7 258.2h0M111.7 266.6h0M78.7 280.9h0M130.8 265.2h0M92.6 285.5h0M97.2 258.1h0M134.7 266.4h0M123.5 268.2h0M141.9 261.6h0M94.3 267.0h0M116.0 282.0h0M111.9 260.3h0M139.0 257.3h0M124.1 257.5h0M109.6 269.8h0M30.3 278.9h0M198.6 237.4h0M79.1 269.0h0M77.3 269.0h0M115.1 244.5h0M142.9 254.9h0M147.8 246.1h0M90.0 260.6h0M96.2 273.5h0M181.2 237.6h0M153.3 243.1h0M95.4 278.0h0M160.8 235.2h0M87.0 277.0h0M130.3 260.3h0M74.1 294.8h0M75.0 284.6h0M78.4 269.8h0M73.7 293.3h0M193.7 250.9h0M151.0 235.1h0M89.1 293.3h0M128.5 250.4h0M59.1 287.5h0M156.8 268.9h0M146.4 254.4h0M100.3 284.9h0M172.3 243.3h0M124.3 260.7h0M165.8 252.8h0M105.3 269.1h0M147.7 255.7h0M128.3 260.0h0M126.7 262.9h0M171.0 262.2h0M171.9 248.9h0M82.5 279.8h0M152.2 262.5h0M69.9 278.3h0M184.3 235.8h0M166.9 248.7h0M160.2 238.4h0M163.6 252.2h0M143.9 248.3h0M124.5 263.5h0M147.4 270.2h0M131.5 249.4h0M115.6 262.7h0M72.7 282.2h0M82.7 272.7h0M112.4 276.3h0M195.9 253.9h0M72.8 283.5h0M119.7 262.4h0M190.7 234.0h0M115.4 287.8h0M181.0 236.5h0M60.1 275.3h0M116.0 267.1h0M68.1 298.5h0M109.5 287.4h0M120.0 249.4h0M124.5 264.1h0M45.9 304.0h0M152.0 241.1h0M100.5 274.4h0M174.0 235.4h0M76.5 285.3h0M172.9 247.7h0M175.4 253.2h0M158.6 246.4h0M80.9 288.9h0M163.9 251.5h0M118.8 271.2h0M55.7 296.7h0M138.9 256.7h0M141.5 245.9h0M103.1 280.5h0M87.6 268.0h0M128.6 249.4h0M188.1 236.9h0M116.6 275.0h0M122.4 276.7h0M121.2 260.3h0M118.0 277.5h0M138.6 246.3h0M48.9 283.6h0M158.4 248.5h0M126.6 266.3h0M126.8 242.3h0M124.5 255.8h0M127.2 262.3h0M96.7 269.3h0M157.3 255.2h0M163.0 260.1h0M102.1 279.2h0M88.9 281.3h0M114.2 258.7h0M116.3 273.3h0M167.8 241.3h0M148.0 247.3h0M103.3 282.9h0M110.3 275.3h0M118.3 265.4h0M75.3 295.5h0M132.1 267.2h0M175.6 238.9h0M140.3 265.5h0M96.9 270.3h0M147.5 264.2h0M174.1 243.3h0M115.8 274.5h0M50.8 296.8h0M135.6 250.8h0M120.7 267.7h0M172.5 257.8h0M99.2 284.1h0M150.2 264.0h0M134.2 263.0h0M184.3 238.8h0M28.9 288.4h0M125.6 252.9h0M140.6 256.3h0M117.0 257.4h0M146.2 251.0h0M155.0 248.5h0M109.9 276.3h0M65.7 293.8h0M173.5 234.1h0M133.0 251.3h0M126.3 266.9h0M140.8 252.1h0M162.8 247.8h0M143.0 255.1h0M71.6 271.3h0M134.3 260.7h0M91.7 280.6h0M109.4 278.6h0M147.3 253.5h0M89.8 286.0h0M51.3 296.5h0M132.8 267.0h0M72.9 281.6h0M123.2 252.8h0M137.0 246.5h0M104.2 258.3h0M158.6 253.6h0M105.7 287.8h0M85.7 284.1h0M115.6 286.7h0M139.3 254.6h0M142.1 248.2h0M162.4 250.8h0M151.0 253.7h0M172.2 242.8h0M152.9 249.1h0M77.1 294.8h0M116.3 279.9h0M148.0 232.9h0M105.4 278.6h0M80.4 270.5h0M176.4 251.6h0M99.8 270.9h0M139.4 264.7h0M84.1 292.6h0M146.4 247.7h0M188.7 232.6h0M149.4 257.7h0M107.4 269.4h0M139.1 247.5h0M123.1 254.1h0M132.3 234.0h0M73.7 283.8h0M96.9 266.0h0M112.6 267.5h0M124.5 254.7h0M161.7 245.1h0M167.4 234.8h0M155.5 256.1h0M104.4 270.4h0M95.5 274.3h0M122.2 270.4h0M169.8 247.2h0M160.8 254.7h0M95.8 282.2h0M175.3 247.4h0M152.3 252.6h0M145.4 258.2h0M174.8 248.7h0M126.7 263.9h0M53.9 287.4h0M104.8 267.6h0M151.1 255.7h0M154.4 249.1h0M156.3 241.4h0M103.8 286.7h0M163.8 237.3h0M89.8 276.9h0M48.3 287.9h0M77.3 282.3h0M103.3 277.5h0M104.8 270.9h0M138.9 251.9h0M101.6 278.1h0M110.1 268.8h0M143.1 260.6h0M160.8 285.3h0M138.9 255.2h0M109.5 266.8h0M149.6 253.0h0M130.5 248.9h0M131.7 256.3h0M84.9 261.4h0M62.1 263.8h0M89.4 270.9h0M175.3 245.0h0M100.2 267.1h0M152.7 242.5h0M162.6 246.9h0M117.8 271.5h0M76.0 297.9h0M173.5 235.5h0M153.5 247.8h0M166.5 239.5h0M76.0 273.6h0M74.7 281.9h0M140.5 239.0h0M161.3 256.9h0M124.3 270.6h0M125.9 251.4h0M108.8 267.9h0M97.2 293.7h0M151.0 245.2h0M163.2 238.5h0M158.5 256.1h0M72.2 276.5h0M173.7 248.1h0M152.9 256.0h0M174.2 231.1h0M155.5 261.3h0M98.1 269.5h0M96.2 270.0h0M94.4 265.2h0M96.8 283.6h0M113.4 250.8h0M145.3 265.2h0M84.7 272.8h0M99.5 266.5h0M45.8 292.7h0M118.2 278.2h0M132.8 274.0h0M160.1 255.6h0M156.2 257.4h0M93.4 290.6h0M154.6 242.5h0M104.0 277.3h0M168.1 242.3h0M168.1 239.5h0M131.8 273.6h0M77.7 261.9h0M96.9 275.8h0M173.0 247.3h0M73.5 292.4h0M162.4 242.3h0M44.4 297.0h0M127.2 261.6h0M141.3 229.0h0M139.4 265.4h0M126.6 242.5h0M189.3 257.9h0M136.3 250.1h0M137.1 270.9h0M99.4 285.7h0M133.4 269.2h0M175.9 236.0h0M105.6 272.8h0M154.0 233.2h0M50.9 301.0h0M80.8 279.3h0M147.4 247.1h0M116.9 282.7h0M130.8 254.7h0M135.7 241.4h0M179.2 256.6h0M141.6 267.3h0M64.3 272.4h0M119.5 268.0h0M147.3 252.7h0M146.7 249.2h0M96.4 274.2h0M50.3 282.1h0M102.5 268.1h0M108.6 285.9h0M57.1 300.1h0M159.7 259.2h0M144.8 240.9h0M52.8 297.3h0M119.1 255.9h0M89.3 285.4h0M158.0 256.9h0M123.2 259.8h0M192.3 247.8h0M160.9 246.8h0M77.3 279.1h0M119.9 243.8h0M95.3 275.1h0M110.4 281.5h0M170.1 241.1h0M148.4 258.8h0M183.4 240.0h0M100.4 269.5h0M93.2 288.1h0M143.1 259.8h0M141.3 240.7h0M157.5 226.9h0M114.6 265.6h0M79.9 258.2h0M123.6 259.9h0M134.6 258.6h0M137.9 260.8h0M153.5 240.2h0M113.4 270.2h0M112.4 258.3h0M37.5 294.9h0M135.5 249.6h0M169.5 253.0h0M149.1 236.0h0M93.2 265.2h0M128.9 271.0h0M155.6 258.1h0M149.1 244.6h0M84.6 293.2h0M93.4 284.0h0M87.1 278.7h0M151.0 254.0h0M163.5 257.0h0M172.3 239.7h0M157.5 266.4h0M142.6 241.5h0M138.0 258.0h0M110.7 267.5h0M164.9 274.6h0M112.2 286.8h0M169.6 257.6h0M171.6 247.0h0M126.5 279.5h0M127.0 253.9h0M104.3 279.5h0M104.9 264.8h0M140.4 275.3h0M146.4 243.8h0M150.4 276.4h0M119.4 285.8h0M164.5 259.9h0M158.1 258.0h0M154.3 247.3h0M89.6 277.1h0M50.4 286.0h0M127.5 272.9h0M107.0 277.4h0M102.5 270.1h0M110.3 270.2h0M109.5 277.5h0M80.9 275.3h0M150.3 246.3h0M75.9 287.9h0M102.0 289.0h0M74.9 279.8h0M149.7 258.7h0M119.3 256.7h0M154.6 234.7h0M64.9 298.0h0M110.7 262.0h0M68.5 291.1h0M78.9 283.8h0M97.9 283.4h0M98.7 297.1h0M137.9 241.9h0M66.0 288.9h0M169.9 243.2h0M144.2 248.7h0M177.8 240.6h0M108.3 287.3h0M165.0 244.8h0M128.0 266.8h0M139.0 251.7h0M71.7 285.6h0M53.5 285.6h0M138.1 259.1h0M80.7 279.0h0M133.1 258.9h0M145.1 246.1h0M128.7 253.2h0M101.3 277.2h0M163.4 247.4h0M67.4 288.9h0M163.3 252.8h0M136.3 267.2h0M138.0 265.4h0M138.9 282.7h0M81.9 274.5h0M110.3 269.5h0M116.8 262.2h0M112.0 275.8h0M146.7 246.6h0M141.3 257.2h0M146.7 258.1h0M147.6 249.1h0M164.8 250.4h0M65.7 269.4h0M142.3 251.1h0M153.8 256.2h0M91.9 272.9h0M161.3 231.8h0M67.3 293.3h0M176.3 235.1h0M122.6 238.5h0M107.2 276.7h0M100.3 278.3h0M121.1 265.5h0M134.0 240.0h0M127.6 256.9h0M56.0 295.4h0M181.4 243.6h0M139.0 275.0h0M90.8 283.9h0M147.5 260.3h0M124.3 263.1h0M147.5 248.6h0M138.9 231.0h0M141.1 249.7h0M157.9 255.9h0M197.1 230.9h0M136.1 256.1h0M146.6 259.5h0M130.6 254.1h0M156.6 251.0h0M111.7 265.5h0M154.7 236.3h0M115.8 252.4h0M80.9 290.2h0M145.0 247.7h0M107.8 266.1h0M157.5 238.2h0M137.1 265.4h0M154.8 282.7h0M163.7 251.9h0M132.2 251.5h0M142.8 263.4h0M188.7 238.5h0M187.3 230.3h0M128.9 243.1h0M144.8 257.6h0M105.4 271.2h0M99.3 258.2h0M166.9 239.9h0M162.8 245.1h0M50.8 286.1h0M118.2 260.6h0M132.4 251.0h0M151.9 261.1h0M158.6 243.7h0M98.2 271.7h0M111.0 276.4h0M99.2 276.3h0M136.1 256.4h0M81.6 276.9h0M110.5 265.2h0M96.7 272.3h0M186.9 236.7h0M111.2 276.9h0M134.3 263.6h0M111.6 277.1h0M181.8 246.1h0M180.2 231.5h0M103.7 278.9h0M143.6 253.6h0M124.3 262.8h0M161.2 258.1h0M116.7 277.2h0M135.3 247.5h0M82.5 282.1h0M104.5 282.1h0M130.4 251.6h0M175.9 246.8h0M124.1 266.5h0M110.7 267.2h0M161.5 241.9h0M143.0 256.5h0M67.1 289.8h0M85.5 279.7h0M137.7 264.9h0M143.4 260.5h0M135.4 270.2h0M123.8 274.6h0M154.9 249.5h0M113.3 264.6h0M148.2 254.3h0M176.6 243.5h0M139.9 261.3h0M87.2 293.1h0M178.6 241.2h0M68.2 282.4h0M45.8 292.2h0M180.0 246.2h0M79.1 283.5h0M151.2 249.4h0M156.3 251.4h0M134.1 261.0h0M121.0 258.5h0M83.7 283.8h0M131.1 252.3h0M63.1 290.9h0M86.9 284.9h0M78.1 268.2h0M149.2 244.0h0M33.9 299.2h0M128.3 289.5h0M124.2 260.8h0M180.4 245.0h0M64.1 291.9h0M98.9 287.9h0M109.5 271.7h0M166.8 244.8h0M179.5 241.1h0M113.6 275.6h0M155.0 250.1h0M103.5 273.3h0M119.6 290.1h0M121.8 244.3h0M117.1 253.4h0M83.6 277.4h0M130.1 246.1h0M97.6 273.2h0M109.5 270.0h0M161.2 247.3h0M122.6 238.5h0M128.0 265.8h0M167.3 252.3h0M142.6 265.3h0M132.9 247.7h0M131.0 263.4h0M85.6 288.3h0M122.9 251.0h0M147.6 252.9h0M118.8 258.2h0M145.3 257.5h0M182.8 235.2h0M113.3 261.8h0M151.1 245.4h0M85.8 283.3h0M132.5 254.8h0M152.3 242.2h0M130.3 268.2h0M122.1 267.6h0M165.0 238.5h0M140.9 269.1h0M165.4 233.1h0M89.9 275.6h0M159.7 241.3h0M152.3 255.5h0M134.8 258.0h0M126.4 257.9h0M94.8 278.7h0M164.1 245.9h0M181.6 248.4h0M151.5 268.8h0M40.6 289.5h0M99.8 277.1h0M67.8 277.5h0M137.5 281.2h0M84.2 292.8h0M108.0 247.1h0M132.5 265.8h0M124.5 255.1h0M83.1 287.0h0M173.2 234.3h0M179.6 247.3h0M113.7 275.7h0M141.1 263.8h0M53.3 295.7h0M96.3 266.4h0M67.3 298.6h0M59.1 285.8h0M115.7 267.9h0M135.6 252.8h0M181.7 245.5h0M166.3 236.3h0M98.2 260.3h0M122.4 261.8h0M111.2 272.2h0M126.7 277.6h0M76.3 289.4h0M138.5 264.4h0M181.0 261.3h0M89.4 287.0h0M178.2 237.8h0M134.4 265.7h0M112.7 270.6h0M158.6 247.7h0M168.3 239.0h0M101.1 269.4h0M174.3 242.2h0M163.7 252.4h0M102.7 269.4h0M196.7 239.0h0M102.8 271.1h0M75.8 289.7h0M105.4 260.8h0M140.0 250.6h0M139.4 249.6h0M155.4 248.6h0M142.8 255.3h0M149.0 239.2h0M107.8 268.2h0M168.0 245.1h0M76.1 267.4h0M47.8 304.5h0M113.6 268.7h0M163.2 245.8h0M84.7 280.1h0M67.2 276.9h0M168.8 258.0h0M120.4 275.8h0M125.7 260.1h0M145.2 263.9h0M149.0 233.5h0M112.6 273.8h0M125.2 294.3h0M137.7 248.2h0M59.3 287.6h0M178.1 238.1h0M107.4 268.2h0M94.1 266.1h0M74.2 278.3h0M179.6 261.8h0M110.9 268.0h0M161.4 260.5h0M40.9 296.5h0M122.8 253.9h0M168.6 247.2h0M169.7 253.6h0M68.0 293.4h0M150.0 247.8h0M162.7 238.3h0M91.2 286.2h0M143.8 264.7h0M129.1 257.9h0M127.3 257.7h0M160.9 245.8h0M120.0 267.1h0M128.6 260.5h0M152.0 243.8h0M125.8 264.7h0M66.1 284.7h0M129.2 257.2h0M121.3 272.9h0M103.3 265.7h0M75.3 283.8h0M78.0 288.9h0M65.7 291.8h0M107.7 256.5h0M139.5 250.9h0M115.8 262.0h0M118.4 262.0h0M106.3 270.9h0M121.4 286.3h0M104.3 260.5h0M110.4 270.5h0M154.5 247.4h0M118.1 266.1h0M82.2 270.5h0M126.8 259.7h0M159.2 246.8h0M117.5 257.3h0M113.6 272.2h0M94.7 276.8h0M67.2 296.3h0M161.6 247.6h0M139.1 238.9h0M106.4 262.7h0M152.0 274.0h0M91.7 269.0h0M89.5 272.2h0M149.8 232.8h0M129.8 244.2h0M99.0 259.9h0M92.9 272.7h0M57.6 274.3h0M144.2 286.2h0M43.2 304.5h0M94.8 288.1h0M129.5 244.7h0M138.3 249.6h0M154.5 242.4h0M133.4 269.9h0M175.5 234.0h0M79.6 277.4h0M172.3 243.9h0M126.7 272.8h0M167.7 255.5h0M95.8 300.8h0M116.0 259.2h0M149.3 258.1h0M117.9 263.4h0M167.6 250.1h0M105.6 280.3h0M50.5 284.1h0M135.7 282.9h0M130.4 263.0h0M135.1 264.9h0M113.7 272.3h0M128.3 264.7h0M130.1 254.3h0M147.3 259.5h0M59.4 294.1h0M137.3 270.3h0M38.9 279.7h0M160.1 267.1h0M134.4 249.7h0M111.4 272.5h0M147.1 251.0h0M155.7 252.2h0M80.3 253.2h0M90.1 275.0h0M71.2 275.6h0M151.8 254.8h0M119.5 268.8h0M139.9 244.0h0M122.3 276.4h0M151.5 260.8h0M27.7 301.3h0M120.1 260.8h0M137.8 259.2h0M124.7 266.2h0M133.5 252.1h0M189.2 252.9h0M62.5 284.1h0M116.0 276.4h0M72.0 281.5h0M160.4 249.9h0M102.4 281.6h0M90.5 272.6h0M127.1 274.5h0M106.9 287.1h0M77.0 293.5h0M128.5 273.8h0M138.0 231.5h0M103.8 265.6h0M131.1 261.3h0M138.8 261.8h0M127.7 264.8h0M157.0 256.4h0M114.4 262.8h0M160.3 231.8h0M160.3 255.5h0M173.1 238.3h0M65.7 270.9h0M154.2 249.6h0M82.7 280.0h0M149.4 250.1h0M123.7 277.9h0M130.0 253.9h0M119.5 236.8h0M126.6 270.3h0M143.6 257.2h0M133.7 254.6h0M128.6 262.6h0M100.5 267.8h0M68.0 283.7h0M153.8 237.7h0M177.6 245.8h0M138.4 254.0h0M105.4 272.1h0M114.8 276.9h0M78.9 275.0h0M142.3 243.6h0M46.5 279.3h0M164.1 239.5h0M143.3 257.9h0M133.4 260.6h0M122.4 272.1h0M137.3 258.6h0M118.6 269.2h0M173.0 264.9h0M142.0 262.0h0M139.1 248.4h0M116.8 251.5h0M57.1 281.7h0M111.6 267.5h0M131.3 248.2h0M188.7 233.5h0M81.1 269.3h0M151.2 253.0h0M139.0 260.5h0M135.3 260.9h0M92.2 288.3h0M186.6 235.1h0M141.9 251.6h0M158.5 252.0h0M112.9 282.3h0M77.0 293.4h0M120.4 283.0h0M109.7 245.2h0M180.8 232.4h0M61.4 296.0h0M177.6 255.0h0M181.9 229.1h0M122.2 264.7h0M124.5 259.7h0M56.7 292.4h0M161.8 253.9h0M115.5 267.9h0M141.3 253.2h0M175.2 256.8h0M79.7 272.1h0M60.1 272.2h0M127.0 244.5h0M65.9 279.5h0M162.7 249.6h0M55.0 299.7h0M179.2 264.4h0M141.1 258.8h0M133.9 234.9h0M140.2 261.5h0M184.6 243.4h0M146.9 261.8h0M107.6 262.3h0M138.2 263.3h0M157.4 268.9h0M93.2 277.5h0M118.6 252.8h0M148.3 254.7h0M93.0 269.5h0M191.5 251.4h0M94.1 277.9h0M84.1 284.1h0M171.8 239.0h0M143.3 264.5h0M80.3 289.2h0M136.7 252.6h0M147.4 256.1h0M119.5 270.6h0M105.2 291.1h0M190.5 248.6h0M63.5 289.3h0M78.8 254.1h0M67.8 294.9h0M142.1 242.1h0M135.8 255.9h0M120.4 262.6h0M167.0 248.5h0M74.8 258.4h0M131.4 266.1h0M155.8 274.4h0M137.0 244.4h0M125.9 263.1h0M133.7 257.1h0M126.6 272.1h0M171.0 243.2h0M159.7 239.4h0M152.1 267.0h0M121.2 267.3h0M116.3 268.8h0M80.7 269.7h0M130.6 253.5h0M164.7 249.3h0M123.0 243.7h0M112.9 264.2h0M89.8 283.1h0M131.9 248.6h0M127.3 265.3h0M147.7 250.2h0M104.0 268.8h0M54.5 281.6h0M71.9 295.7h0M179.3 244.6h0M119.7 255.5h0M119.6 274.9h0M96.3 286.3h0M85.3 291.7h0M134.8 260.0h0M151.1 255.4h0M174.2 234.8h0M113.3 260.6h0M115.9 269.0h0M157.7 250.9h0M136.5 262.7h0M115.3 278.8h0M77.7 288.1h0M118.1 261.3h0M141.9 247.6h0M85.6 267.2h0M118.3 267.5h0M136.7 270.6h0M102.1 276.9h0M136.0 243.6h0M164.3 254.1h0M135.5 268.5h0M167.5 245.0h0M145.5 249.5h0M89.5 282.0h0M79.0 280.8h0M134.6 246.2h0M134.2 267.7h0M85.9 276.9h0M118.1 263.0h0M139.3 258.2h0M192.3 227.9h0M54.6 284.8h0M122.4 266.4h0M149.9 250.9h0M125.9 260.7h0M30.7 301.9h0M111.3 270.2h0M193.0 227.8h0M107.2 263.4h0M124.2 262.9h0M132.2 255.1h0M154.2 248.2h0M77.8 286.8h0M145.3 264.9h0M115.2 271.0h0M108.5 252.6h0M137.0 263.0h0M188.2 237.5h0M183.0 241.3h0M144.2 265.3h0M143.3 261.1h0M135.2 276.9h0M156.5 254.5h0M172.0 248.5h0M178.8 239.4h0M134.8 260.9h0M97.8 270.9h0M163.0 252.8h0M140.0 257.7h0M176.2 236.2h0M132.5 263.7h0M161.3 229.8h0M122.3 265.3h0M107.9 277.7h0M56.1 285.6h0M130.4 261.4h0M116.8 278.6h0M121.3 274.3h0M159.9 249.9h0M127.5 271.9h0M102.6 285.5h0M119.0 260.9h0M158.5 254.7h0M115.9 250.9h0M139.5 259.0h0M185.8 248.6h0M179.6 238.9h0M79.6 279.3h0M120.9 241.1h0M153.9 240.5h0M115.4 259.1h0M122.2 274.4h0M181.9 269.8h0M160.3 244.4h0M61.8 290.3h0M99.2 276.6h0M110.7 248.8h0M112.2 269.9h0M90.8 269.2h0M79.9 291.7h0M92.6 281.8h0M91.5 274.5h0M115.9 268.1h0M40.3 292.7h0M180.8 239.6h0M163.7 243.6h0M101.7 258.1h0M75.8 266.7h0M177.9 239.5h0M135.1 246.1h0M122.0 238.4h0M143.5 240.8h0M189.3 232.6h0M119.6 275.4h0M146.5 246.5h0M180.7 254.1h0M156.0 237.4h0M167.3 232.0h0M155.6 249.3h0M135.2 245.5h0M165.8 243.6h0M109.9 270.7h0M43.9 285.7h0M126.3 266.9h0M134.8 280.5h0M47.6 291.8h0M54.3 303.8h0M160.6 252.8h0M139.4 257.8h0M159.7 231.8h0M118.3 256.1h0M149.7 260.8h0M131.8 265.0h0M106.3 255.5h0M77.1 270.6h0M192.1 240.2h0M183.2 257.1h0M146.2 264.7h0M129.0 249.9h0M123.5 258.6h0M163.1 246.8h0M151.4 254.9h0M138.9 270.4h0M131.7 260.9h0M142.1 249.2h0M190.5 244.7h0M138.1 260.6h0M122.2 257.8h0M149.0 262.5h0M89.1 270.7h0M128.3 272.8h0M114.9 257.5h0M156.1 243.4h0M123.0 258.9h0M170.9 239.5h0M116.4 278.5h0M104.5 282.0h0M149.3 240.8h0M177.1 244.3h0M149.8 261.2h0M163.9 268.0h0M134.5 262.7h0M158.6 266.3h0M118.1 249.2h0M95.5 276.8h0M154.1 263.8h0M88.4 269.9h0M106.1 256.1h0M99.5 273.6h0M170.2 233.6h0M97.9 268.0h0M157.0 241.0h0M132.9 261.3h0M168.2 250.8h0M113.3 268.3h0M181.3 249.7h0M100.7 270.7h0M96.8 272.8h0M127.7 272.0h0M114.6 270.1h0M155.5 244.7h0M81.8 292.8h0M71.4 296.0h0M95.1 275.6h0M93.3 256.5h0M174.7 235.0h0M162.9 248.6h0M137.7 261.8h0M142.7 251.2h0M153.7 270.8h0M126.4 264.7h0M139.3 254.0h0M91.2 279.7h0M148.8 272.6h0M162.8 258.9h0M86.8 273.4h0M79.9 273.1h0M103.2 268.3h0M138.9 258.9h0M178.5 228.7h0M171.2 248.2h0M129.9 269.7h0M102.1 293.7h0M179.7 240.4h0M95.4 288.8h0M106.1 276.7h0M45.7 295.5h0M145.9 263.4h0M102.5 274.5h0M112.0 250.2h0M162.5 237.4h0M155.5 248.2h0M134.1 265.7h0M133.8 268.6h0M145.2 261.5h0M155.2 260.3h0M169.1 237.2h0M126.0 253.3h0M137.0 262.6h0M124.1 262.3h0M173.4 246.5h0M137.3 249.1h0M133.8 263.7h0M101.4 281.1h0M132.2 249.7h0M106.9 267.8h0M125.3 257.1h0M91.5 279.7h0M142.1 243.9h0M106.9 266.9h0M241.1 208.8h0M241.1 226.2h0M241.1 228.4h0M241.1 231.0h0M241.1 233.6h0M241.1 235.7h0M241.1 238.2h0M241.1 240.8h0M241.1 243.7h0M241.1 246.6h0M150.9 208.8h0M154.7 208.8h0M159.9 208.8h0M165.1 208.8h0M170.2 208.8h0M175.1 208.8h0"/>
<text class="k" x="14.0" y="336.0" text-anchor="middle">0</text>
<text class="k" x="83.2" y="336.0" text-anchor="middle">2</text>
<text class="k" x="152.3" y="336.0" text-anchor="middle">4</text>
<text class="k" x="222.5" y="336.0" text-anchor="middle">6</text>
<text class="k" x="291.9" y="336.0" text-anchor="middle">8</text>
<text class="k" x="10.1" y="321.6" text-anchor="end">0</text>
<text class="k" x="10.1" y="240.7" text-anchor="end">5</text>
<text class="x" x="14.9" y="206.9">×</text><text class="k" x="28.9" y="204.8" letter-spacing="-1.4">10</text><text class="k s" x="47.0" y="196.4">4</text>
<text class="x" x="251.9" y="365.4">×</text><text class="k" x="265.9" y="363.3" letter-spacing="-1.4">10</text><text class="k s" x="284.0" y="354.9">4</text>
<text class="t" x="153.0" y="201.0" text-anchor="middle">Vertical</text>
<path class="av" d="M380.0 208.8V314.7"/>
<path class="ah" d="M379.0 314.0H656.0"/>
<path class="tk" d="M449.0 314.0v-2.6M518.0 314.0v-2.6M587.0 314.0v-2.6M656.0 314.0v-2.6M381.0 233.7h2.2"/>
<path class="d" d="M604.0 213.4h0M501.3 276.7h0M490.4 310.9h0M513.8 223.7h0M534.7 220.4h0M497.5 265.2h0M414.2 220.9h0M502.7 253.5h0M581.0 270.4h0M596.5 224.7h0M494.5 281.5h0M506.4 275.7h0M415.0 300.1h0M380.6 308.4h0M557.1 279.9h0M437.5 226.8h0M400.4 312.1h0M428.0 247.0h0M432.6 223.3h0M476.8 262.4h0M561.9 285.2h0M392.5 236.7h0M422.5 232.0h0M494.6 264.6h0M453.0 238.5h0M509.3 239.2h0M588.8 279.9h0M555.3 289.6h0M499.2 309.4h0M380.8 313.7h0M517.7 282.2h0M385.9 237.0h0M432.4 263.5h0M509.3 228.6h0M490.4 228.1h0M463.2 259.0h0M549.2 210.8h0M426.4 308.6h0M503.5 281.3h0M419.5 250.2h0M483.6 284.2h0M545.6 278.9h0M465.5 293.2h0M517.1 283.8h0M559.5 209.1h0M485.0 238.8h0M386.9 275.7h0M442.4 248.9h0M520.5 295.6h0M429.1 236.7h0M514.9 241.2h0M435.1 262.0h0M466.8 222.7h0M389.3 250.7h0M596.4 222.8h0M390.7 262.6h0M587.8 251.1h0M431.4 239.7h0M464.7 231.7h0M427.3 276.6h0M499.7 249.0h0M599.8 258.0h0M466.0 246.2h0M388.0 223.4h0M462.4 305.9h0M441.3 249.8h0M459.9 247.2h0M433.7 277.2h0M391.1 307.2h0M482.2 266.5h0M550.8 283.7h0M478.4 308.9h0M405.5 241.2h0M597.0 237.5h0M399.7 305.3h0M558.8 215.8h0M569.0 247.1h0M523.6 295.8h0M394.4 289.2h0M577.9 248.4h0M485.0 232.0h0M438.2 252.7h0M469.3 295.1h0M392.8 209.3h0M540.8 268.2h0M553.0 246.8h0M577.8 259.6h0M532.6 307.3h0M411.7 246.1h0M508.5 239.7h0M458.3 264.2h0M505.6 262.8h0M525.2 303.4h0M426.8 256.2h0M440.0 251.1h0M425.9 263.7h0M464.2 274.5h0M458.5 264.8h0M590.8 222.6h0M394.1 280.9h0M455.7 213.6h0M465.7 213.2h0M480.3 286.9h0M435.6 250.7h0M469.2 226.2h0M485.8 304.9h0M600.4 240.5h0M402.0 301.8h0M433.4 220.2h0M445.6 232.4h0M550.1 310.9h0M386.6 291.0h0M423.0 303.9h0M471.0 237.2h0M588.0 298.6h0M522.3 295.7h0M418.9 287.2h0M494.6 300.6h0M484.4 230.9h0M402.0 261.9h0M411.6 297.9h0M509.0 305.0h0M527.6 263.1h0M444.3 244.3h0M397.9 234.3h0M589.1 209.8h0M446.2 297.8h0M396.7 286.9h0M540.3 217.9h0M463.6 284.0h0M567.7 300.5h0M510.8 304.1h0M588.3 280.9h0M603.7 270.6h0M537.1 264.9h0M471.2 313.7h0M557.5 217.6h0M515.0 310.0h0M384.9 290.1h0M602.0 226.6h0M573.8 285.3h0M600.5 226.8h0M530.3 211.8h0M495.4 233.1h0M392.1 281.5h0M396.6 275.7h0M470.1 300.2h0M488.5 291.5h0M387.4 226.6h0M469.8 308.5h0M383.7 221.3h0M461.3 301.2h0M428.6 279.0h0M557.5 221.4h0M509.1 294.5h0M528.7 305.9h0M514.7 224.5h0M498.5 308.3h0M480.6 221.2h0M495.0 311.3h0M426.0 223.9h0M528.5 273.1h0M443.4 242.6h0M399.5 223.7h0M576.0 271.6h0M495.7 230.1h0M565.9 260.3h0M562.9 305.7h0M563.6 249.1h0M397.9 298.3h0M598.1 271.0h0M573.0 244.9h0M418.1 305.9h0M417.1 224.2h0M493.4 301.3h0M537.1 266.9h0M456.3 240.6h0M470.5 240.3h0M457.1 237.1h0M474.0 224.1h0M530.4 231.7h0M479.7 215.5h0M387.6 252.1h0M487.2 215.0h0M602.3 230.5h0M432.2 223.8h0M403.7 214.9h0M575.5 310.6h0M421.8 246.7h0M454.0 305.9h0M485.8 239.2h0M410.8 280.0h0M423.2 217.2h0M518.0 274.2h0M502.1 283.9h0M601.8 221.2h0M558.2 296.9h0M538.4 239.5h0M466.4 281.9h0M548.0 209.4h0M579.0 208.9h0M427.6 237.7h0M467.4 292.6h0M453.7 305.0h0M389.1 225.7h0M560.3 235.2h0M500.4 237.1h0M434.4 309.3h0M394.6 232.5h0M397.9 223.7h0M380.2 224.6h0M535.3 228.5h0M416.7 275.4h0M523.8 280.1h0M473.3 274.3h0M433.6 265.1h0M568.5 261.1h0M449.9 217.4h0M529.8 253.6h0M479.0 304.8h0M408.3 309.8h0M571.8 256.7h0M474.9 220.4h0M382.7 217.3h0M461.8 269.7h0M395.2 312.5h0M421.1 293.3h0M441.3 269.4h0M398.9 243.1h0M403.8 311.8h0M445.7 283.2h0M594.9 301.4h0M412.1 285.8h0M474.0 286.9h0M396.7 213.7h0M498.3 215.7h0M446.7 251.9h0M504.0 251.9h0M455.3 232.9h0M585.8 227.3h0M453.2 278.9h0M516.8 216.8h0M553.6 264.8h0M534.4 298.4h0M396.2 273.8h0M474.1 231.8h0M407.7 216.1h0M403.5 257.1h0M492.3 311.8h0M546.5 214.8h0M396.7 267.1h0M515.1 260.5h0M428.4 208.9h0M566.6 232.9h0M500.3 245.0h0M381.5 229.6h0M558.1 252.5h0M411.8 228.8h0M499.1 239.9h0M459.4 239.8h0M443.6 305.0h0M500.1 216.3h0M441.9 280.3h0M572.8 267.6h0M600.5 263.5h0M557.7 302.6h0M436.0 242.5h0M559.2 277.6h0M534.5 294.5h0M425.9 280.0h0M404.2 237.7h0M587.8 227.2h0M596.8 221.3h0M593.0 312.6h0M402.3 240.2h0M538.5 233.9h0M452.6 249.8h0M560.5 257.8h0M453.3 286.0h0M517.0 245.9h0M481.7 284.1h0M521.8 271.1h0M540.0 294.4h0M405.5 239.5h0M448.8 282.4h0M579.2 240.1h0M425.4 254.3h0M511.4 237.7h0M546.9 304.6h0M527.3 211.9h0M589.0 281.8h0M486.5 209.6h0M488.9 214.2h0M447.9 278.4h0M420.7 217.2h0M477.5 216.5h0M518.8 237.8h0M464.1 281.5h0M596.9 210.1h0M432.6 231.8h0M403.5 248.7h0M547.2 255.3h0M410.5 221.2h0M582.3 267.4h0M541.8 210.1h0M433.7 235.1h0M446.0 257.6h0M414.5 259.4h0M422.0 313.7h0M532.7 299.3h0M486.6 285.2h0M555.2 281.8h0M576.4 219.4h0M433.9 292.4h0M501.7 303.4h0M591.7 234.6h0M432.7 214.2h0M486.1 297.3h0M511.4 258.6h0M581.1 225.0h0M442.7 211.4h0M550.5 241.4h0M386.5 233.3h0M548.2 276.8h0M462.5 233.0h0M594.9 277.4h0M454.0 279.8h0M591.8 296.0h0M552.9 288.8h0M445.0 265.2h0M560.0 282.3h0M555.4 279.0h0M484.4 288.3h0M458.5 303.7h0M456.3 261.1h0M582.3 294.4h0M427.5 251.8h0M388.6 252.4h0M384.2 219.8h0M494.8 274.1h0M477.3 297.9h0M574.3 311.1h0M472.0 213.7h0M459.4 223.8h0M455.6 304.5h0M585.1 209.9h0M500.8 281.0h0M551.4 280.1h0M388.7 288.3h0M423.1 279.4h0M514.1 262.9h0M406.9 284.6h0M461.5 258.6h0M413.3 261.0h0M468.3 252.3h0M461.2 230.2h0M442.9 272.9h0M560.2 228.9h0M497.3 234.7h0M484.8 306.2h0M523.2 238.7h0M396.2 279.6h0M516.9 269.9h0M406.9 215.2h0M572.0 219.3h0M529.2 307.2h0M449.1 269.9h0M448.8 253.2h0M437.6 306.8h0M555.9 231.3h0M393.5 243.8h0M585.4 286.7h0M527.5 310.9h0M406.1 219.3h0M513.8 223.9h0M456.1 223.1h0M481.3 225.8h0M585.0 225.2h0M453.6 220.7h0M503.7 257.2h0M442.1 266.2h0M418.9 290.0h0M560.8 309.3h0M387.6 245.5h0M603.7 257.8h0M485.8 240.6h0M482.1 234.0h0M484.6 266.8h0M429.0 225.0h0M402.9 239.5h0M534.4 261.6h0M574.7 265.4h0M538.5 304.0h0M492.0 270.4h0M554.1 291.6h0M530.4 209.0h0M473.3 306.1h0M560.7 266.5h0M560.1 265.0h0M508.4 257.4h0M547.1 305.6h0M602.2 288.7h0M574.4 278.8h0M508.1 283.2h0M561.9 252.3h0M389.9 251.9h0M486.4 270.1h0M518.0 251.5h0M393.8 226.5h0M556.3 211.7h0M480.2 210.1h0M426.0 229.9h0M536.1 299.7h0M597.6 227.2h0M546.9 284.3h0M416.0 238.8h0M444.2 252.3h0M407.3 300.1h0M527.8 309.8h0M538.2 296.3h0M432.8 233.5h0M402.6 219.5h0M473.7 267.9h0M458.1 250.5h0M469.8 233.6h0M380.5 285.4h0M477.2 303.1h0M475.2 252.0h0M577.8 261.6h0M587.9 266.0h0M479.5 227.7h0M524.9 257.0h0M555.7 313.4h0M492.3 305.7h0M456.8 284.7h0M584.3 223.5h0M396.4 251.4h0M473.9 285.8h0M425.9 286.9h0M470.0 277.2h0M559.8 220.1h0M477.9 243.4h0M567.0 224.1h0M555.4 308.2h0M464.2 242.9h0M560.1 301.2h0M578.5 240.9h0M492.3 229.9h0M530.9 256.8h0M522.1 224.1h0M441.9 250.8h0M474.9 279.6h0M382.9 272.0h0M549.1 302.9h0M540.5 267.1h0M388.7 254.8h0M394.4 267.6h0M542.3 287.6h0M582.9 239.9h0M560.9 211.8h0M569.1 256.2h0M424.0 275.7h0M596.7 287.9h0M547.2 221.7h0M549.1 249.3h0M557.8 287.9h0M479.0 257.6h0M597.7 245.0h0M472.3 235.9h0M390.2 310.9h0M486.5 235.7h0M421.9 262.7h0M577.4 269.9h0M448.3 311.5h0M419.2 248.4h0M523.2 304.0h0M489.0 287.7h0M412.5 306.2h0M411.6 269.7h0M588.8 279.2h0M394.5 280.7h0M571.3 254.5h0M593.8 269.0h0M464.7 232.2h0M533.9 289.8h0M459.7 306.3h0M539.5 294.3h0M591.4 272.0h0M476.8 300.5h0M381.2 267.8h0M546.6 266.7h0M508.2 282.8h0M432.8 311.8h0M518.9 249.5h0M384.6 211.0h0M549.8 289.1h0M564.9 223.5h0M503.0 245.7h0M416.0 276.7h0M462.5 210.9h0M552.2 293.9h0M578.4 232.9h0M481.5 238.3h0M567.2 270.0h0M509.2 271.7h0M548.5 286.6h0M605.3 290.2h0M595.8 256.3h0M432.1 270.4h0M464.3 251.8h0M498.2 242.3h0M515.6 215.5h0M527.4 274.8h0M481.7 247.4h0M551.7 311.2h0M485.2 281.0h0M517.3 258.8h0M555.8 226.3h0M569.6 278.5h0M528.7 229.0h0M603.9 222.3h0M447.2 228.0h0M516.0 248.8h0M488.8 257.4h0M411.1 271.2h0M464.1 280.7h0M492.8 228.9h0M463.0 253.1h0M568.6 298.5h0M424.9 264.4h0M423.9 252.4h0M455.4 292.7h0M519.9 297.9h0M394.9 308.6h0M429.5 247.5h0M409.6 256.4h0M578.5 296.9h0M605.6 274.8h0M419.3 221.3h0M387.8 284.0h0M390.6 302.2h0M574.8 250.1h0M402.4 279.9h0M471.7 262.0h0M541.8 266.2h0M406.3 237.4h0M421.3 249.1h0M570.9 303.2h0M453.0 229.2h0M500.3 230.1h0M484.7 259.9h0M458.8 237.1h0M532.7 275.9h0M453.3 287.0h0M407.3 281.3h0M520.2 280.3h0M529.5 252.0h0M537.5 283.7h0M436.2 256.2h0M380.4 236.4h0M447.5 295.7h0M552.6 222.9h0M597.3 237.4h0M516.1 257.5h0M528.4 269.2h0M406.5 275.8h0M414.2 306.6h0M552.0 288.3h0M419.4 236.7h0M441.4 280.6h0M522.9 209.9h0M486.0 309.0h0M564.5 253.7h0M504.3 259.4h0M577.5 305.7h0M475.0 229.4h0M429.6 246.7h0M382.3 304.2h0M465.9 219.8h0M477.7 253.7h0M416.9 263.7h0M463.9 213.3h0M587.3 228.5h0M438.5 251.5h0M460.5 306.4h0M383.0 208.9h0M569.9 254.4h0M427.9 256.6h0M465.2 212.5h0M497.3 310.0h0M552.6 277.7h0M518.1 269.1h0M594.5 216.6h0M409.8 249.9h0M480.3 283.3h0M407.0 274.5h0M395.4 242.6h0M411.1 263.5h0M526.5 224.9h0M599.8 231.2h0M459.7 269.7h0M566.0 246.3h0M387.3 281.3h0M490.3 312.5h0M381.3 307.8h0M469.8 265.8h0M587.5 213.9h0M380.4 289.3h0M394.7 253.4h0M480.0 219.7h0M535.3 288.1h0M476.9 213.2h0M418.5 232.5h0M451.1 276.4h0M452.5 283.4h0M469.8 282.3h0M544.0 293.5h0M531.2 300.0h0M538.3 217.6h0M543.5 225.9h0M541.1 251.0h0M501.2 307.4h0M398.8 236.7h0M506.2 302.6h0M585.9 229.1h0M413.9 226.5h0M537.0 296.0h0M516.4 268.0h0M577.2 227.2h0M586.7 212.5h0M502.4 304.3h0M556.2 300.5h0M516.1 239.7h0M397.6 242.5h0M586.3 294.7h0M408.4 224.1h0M497.3 260.8h0M432.8 209.7h0M439.6 262.4h0M601.3 275.2h0M412.4 257.8h0M489.1 228.8h0M581.9 246.0h0M509.3 308.8h0M560.0 246.5h0M473.4 217.7h0M480.3 278.0h0M569.0 286.0h0M592.7 288.8h0M453.6 227.1h0M421.5 243.3h0M475.2 296.7h0M443.2 267.5h0M500.1 227.9h0M520.2 248.0h0M391.4 265.6h0M574.8 235.0h0M473.6 256.8h0M600.6 234.2h0M453.7 259.1h0M483.9 268.7h0M596.4 210.8h0M549.7 229.3h0M472.7 306.5h0M407.9 276.1h0M482.1 278.9h0M410.0 296.5h0M499.5 275.3h0M525.0 254.7h0M469.6 246.2h0M592.4 227.4h0M438.1 217.4h0M559.6 272.1h0M445.6 208.8h0M479.2 294.3h0M472.4 219.2h0M381.8 260.1h0M493.8 213.9h0M417.1 266.5h0M435.5 224.6h0M557.5 214.2h0M567.1 232.7h0M427.8 286.5h0M573.5 239.6h0M602.6 210.4h0M504.0 234.3h0M558.7 309.2h0M491.6 265.5h0M432.1 311.5h0M524.5 243.4h0M513.2 311.2h0M600.2 220.0h0M546.4 313.5h0M476.5 248.5h0M492.4 211.5h0M500.3 265.9h0M453.2 285.3h0M431.0 304.2h0M550.7 302.9h0M596.5 258.8h0M592.5 211.1h0M448.6 293.9h0M461.5 313.8h0M427.6 263.7h0M574.4 229.1h0M539.9 277.0h0M380.9 308.2h0M402.7 275.1h0M467.8 237.5h0M493.1 219.9h0M550.3 274.4h0M459.0 212.7h0M524.2 240.8h0M412.7 284.7h0M502.0 208.8h0M456.0 283.6h0M453.0 247.3h0M503.9 231.2h0M439.8 313.5h0M391.3 287.1h0M448.5 224.9h0M397.3 282.5h0M508.3 263.0h0M510.8 234.4h0M487.7 247.1h0M458.9 241.5h0M571.1 259.5h0M523.2 304.9h0M438.7 299.8h0M433.3 215.8h0M600.2 234.6h0M522.2 275.2h0M593.6 269.0h0M600.3 292.6h0M564.8 245.7h0M435.7 308.0h0M600.9 282.3h0M597.6 237.1h0M454.8 219.4h0M486.6 294.7h0M433.1 234.1h0M591.1 307.0h0M444.5 219.5h0M538.9 265.2h0M402.8 278.9h0M603.1 252.8h0M534.9 282.3h0M416.1 225.9h0M456.9 250.4h0M581.8 237.2h0M419.9 313.2h0M464.3 290.3h0M440.9 268.3h0M597.9 262.5h0M571.1 209.7h0M466.9 247.5h0M492.9 224.1h0M515.9 248.2h0M406.8 257.6h0M507.9 237.9h0M419.4 303.6h0M460.9 213.0h0M569.2 271.3h0M575.4 218.9h0M465.8 265.1h0M509.2 278.8h0M400.1 231.7h0M480.6 276.5h0M587.8 268.7h0M530.6 303.4h0M439.2 298.6h0M553.0 279.2h0M570.4 231.3h0M567.1 271.1h0M436.5 261.1h0M383.3 239.3h0M475.5 238.6h0M418.7 213.6h0M587.7 270.5h0M443.0 221.4h0M493.9 257.6h0M466.3 260.9h0M503.5 267.0h0M557.0 224.7h0M581.8 309.9h0M571.4 254.5h0M431.1 222.0h0M503.3 212.0h0M500.2 293.7h0M531.5 261.1h0M457.8 312.9h0M523.6 270.8h0M511.6 221.1h0M599.0 239.9h0M566.8 211.4h0M494.0 281.7h0M587.4 227.0h0M443.7 230.3h0M489.4 269.2h0M433.7 243.0h0M529.0 220.9h0M427.9 307.4h0M516.7 290.6h0M508.5 252.0h0M513.7 282.3h0M457.7 279.5h0M550.0 255.4h0M431.2 238.6h0M475.3 273.4h0M464.9 273.6h0M597.4 298.3h0M501.9 236.5h0M391.5 247.9h0M425.0 232.4h0M575.9 236.9h0M442.8 297.9h0M577.6 226.3h0M409.3 250.8h0M465.9 305.3h0M472.4 252.8h0M478.1 279.8h0M567.2 215.9h0M461.4 287.2h0M421.1 233.4h0M481.6 311.3h0M553.7 271.3h0M400.0 284.0h0M395.3 248.3h0M494.8 260.1h0M514.6 219.0h0M440.1 285.3h0M561.2 224.1h0M596.6 246.4h0M545.3 272.5h0M479.0 234.4h0M548.4 299.6h0M562.8 243.0h0M501.0 292.9h0M476.7 240.0h0M497.6 301.7h0M449.0 246.9h0M497.3 284.0h0M428.0 218.5h0M551.7 248.2h0M406.8 231.3h0M388.5 227.4h0M500.4 302.4h0M558.0 298.3h0M583.8 260.4h0M449.4 272.7h0M478.9 218.7h0M448.0 310.6h0M466.5 275.6h0M445.8 257.3h0M582.4 306.8h0M479.2 222.4h0M490.6 245.6h0M462.9 305.2h0M481.6 296.1h0M604.5 256.6h0M448.4 312.9h0M545.4 295.3h0M570.2 277.9h0M586.5 238.1h0M492.3 269.9h0M561.2 233.1h0M513.9 219.0h0M474.9 313.2h0M466.2 270.2h0M394.2 279.8h0M451.9 256.4h0M516.8 209.5h0M555.7 288.0h0M501.6 283.3h0M482.2 213.9h0M575.9 250.9h0M491.2 211.7h0M550.1 276.6h0M545.6 236.8h0M419.3 288.9h0M520.8 240.2h0M576.7 299.0h0M393.1 226.2h0M430.8 311.8h0M411.5 259.9h0M444.6 312.7h0M449.2 296.6h0M468.3 209.2h0M475.9 285.4h0M537.6 297.0h0M420.8 258.0h0M592.2 287.4h0M547.8 304.6h0M448.6 276.9h0M471.2 229.8h0M471.0 292.6h0M412.8 253.2h0M501.7 304.0h0M477.0 252.4h0M437.9 283.2h0M402.3 225.7h0M443.0 208.9h0M470.0 263.9h0M599.6 250.7h0M474.5 215.6h0M387.4 302.6h0M592.2 285.4h0M458.2 210.1h0M502.6 237.5h0M576.6 252.3h0M431.7 270.4h0M422.0 268.8h0M479.3 222.3h0M395.5 216.4h0M390.8 286.9h0M559.2 310.1h0M503.4 301.6h0M471.1 212.7h0M386.0 295.6h0M593.3 242.9h0M490.4 308.0h0M420.9 232.2h0M440.8 270.8h0M406.3 274.1h0M386.9 290.8h0M499.3 235.9h0M598.1 228.8h0M524.5 300.7h0M403.2 233.7h0M402.4 214.9h0M499.8 291.2h0M413.2 215.1h0M462.9 217.9h0M438.7 236.0h0M415.5 279.2h0M522.4 270.9h0M454.3 215.6h0M544.4 215.0h0M490.9 226.6h0M382.4 236.4h0M508.8 214.1h0M383.3 288.4h0M381.6 258.2h0M400.8 263.9h0M599.0 303.6h0M552.9 230.3h0M453.6 223.9h0M492.1 248.6h0M440.7 215.4h0M538.7 299.6h0M586.7 311.9h0M445.3 246.1h0M479.2 285.8h0M409.7 280.6h0M431.4 298.4h0M452.6 237.9h0M413.4 309.5h0M454.2 280.2h0M412.5 295.8h0M419.5 220.5h0M481.7 249.3h0M499.0 303.9h0M503.5 245.4h0M488.0 276.3h0M471.5 237.4h0M586.5 262.2h0M495.8 226.8h0M581.9 228.6h0M416.5 219.3h0M588.7 229.7h0M603.9 306.7h0M604.2 275.6h0M540.7 309.4h0M529.8 223.2h0M561.4 254.3h0M392.1 300.2h0M398.6 307.3h0M572.0 283.7h0M583.2 304.7h0M538.8 230.4h0M574.3 274.2h0M535.7 280.8h0M446.2 282.7h0M405.4 213.8h0M498.0 233.1h0M588.5 259.4h0M540.7 230.0h0M598.9 217.2h0M530.9 221.8h0M455.3 215.1h0M389.7 292.5h0M435.9 243.8h0M507.4 262.8h0M482.9 291.5h0M558.9 269.5h0M501.8 227.0h0M561.7 297.7h0M400.9 311.3h0M416.2 284.8h0M502.7 229.2h0M504.5 311.3h0M549.2 310.2h0M588.7 221.9h0M576.2 312.1h0M581.2 233.8h0M436.8 288.9h0M567.9 222.5h0M512.7 242.8h0M482.5 247.5h0M489.1 257.3h0M569.8 260.4h0M409.5 312.4h0M502.8 251.0h0M481.1 225.7h0M499.5 224.0h0M590.5 278.9h0M482.0 220.1h0M424.9 299.2h0M587.7 215.1h0M505.7 259.6h0M538.8 264.2h0M393.5 236.2h0M544.8 290.3h0M578.7 311.1h0M550.7 281.2h0M588.1 216.0h0M466.1 290.9h0M512.7 256.3h0M571.9 291.4h0M516.2 250.3h0M416.2 240.5h0M530.1 221.4h0M578.0 220.7h0M564.5 240.2h0M516.8 270.6h0M575.0 279.9h0M420.4 312.0h0M442.7 254.6h0M491.9 278.5h0M561.6 270.4h0M495.0 303.0h0M520.9 283.1h0M475.5 297.4h0M453.7 270.6h0M469.9 243.3h0M529.5 254.5h0M460.8 218.2h0M397.1 215.8h0M559.4 225.5h0M594.1 277.6h0M526.7 216.3h0M509.8 222.4h0M396.5 256.7h0M421.9 304.5h0M487.5 228.0h0M593.7 299.7h0M529.6 215.2h0M500.5 302.7h0M411.4 271.9h0M484.9 271.7h0M411.0 274.2h0M465.5 254.4h0M565.6 268.4h0M460.0 247.8h0M469.9 224.3h0M499.0 285.7h0M410.7 306.7h0M452.0 225.2h0M535.7 284.3h0M510.3 214.8h0M499.0 218.2h0M494.5 266.0h0M430.0 258.7h0M497.2 246.0h0M430.4 220.0h0M586.2 245.7h0M536.6 266.4h0M537.9 292.4h0M550.1 219.7h0M452.3 297.4h0M520.2 231.2h0M557.9 269.1h0M602.7 266.0h0M395.1 208.9h0M557.2 280.5h0M577.8 248.0h0M426.1 263.8h0M474.0 288.7h0M400.5 266.6h0M538.1 306.8h0M470.6 300.7h0M488.3 259.2h0M587.5 219.5h0M502.9 304.0h0M597.0 254.4h0M496.6 230.9h0M509.7 306.4h0M429.9 238.9h0M539.9 259.1h0M483.5 281.7h0M529.2 214.0h0M496.6 235.3h0M467.3 259.9h0M519.5 298.8h0M541.6 302.1h0M427.6 247.6h0M526.3 285.8h0M567.7 271.3h0M382.4 238.3h0M448.0 290.0h0M453.6 302.5h0M427.5 291.8h0M448.4 241.9h0M499.5 281.7h0M433.2 313.7h0M440.9 255.3h0M487.8 280.3h0M600.0 229.2h0M470.9 297.4h0M446.1 286.5h0M568.7 283.7h0M600.4 282.9h0M452.2 248.1h0M557.0 288.6h0M589.7 310.6h0M418.9 235.7h0M380.4 219.3h0M408.3 291.7h0M588.2 268.6h0M528.3 285.0h0M574.5 282.8h0M551.6 236.3h0M533.5 248.6h0M450.3 243.2h0M482.5 220.4h0M381.1 311.5h0M595.7 220.6h0M504.2 259.1h0M558.8 271.3h0M578.2 295.7h0M548.3 249.4h0M442.8 273.3h0M591.5 285.0h0M556.7 308.8h0M605.8 238.5h0M454.5 248.0h0M512.3 220.6h0M460.8 266.2h0M401.8 287.4h0M561.7 247.9h0M504.2 262.7h0M507.3 279.0h0M601.8 296.5h0M588.9 227.9h0M461.6 247.9h0M595.4 236.5h0M554.9 246.2h0M392.3 299.5h0M433.4 305.7h0M558.9 222.6h0M380.8 254.3h0M483.9 271.8h0M392.7 283.8h0M434.8 240.5h0M445.8 281.6h0M492.1 275.4h0M423.3 292.1h0M435.3 298.8h0M381.6 227.5h0M395.8 306.1h0M564.6 258.6h0M510.1 224.0h0M539.8 251.8h0M398.9 307.3h0M424.0 253.5h0M395.6 229.6h0M476.1 274.7h0M554.4 278.8h0M391.6 310.0h0M507.3 274.2h0M445.9 288.7h0M544.7 288.6h0M425.2 248.7h0M582.7 244.2h0M383.3 312.0h0M551.9 224.4h0M466.4 215.1h0M394.4 215.5h0M437.6 257.2h0M601.5 248.2h0M591.2 311.1h0M492.0 218.6h0M547.0 219.7h0M447.1 226.0h0M567.0 295.7h0M583.0 239.9h0M530.3 234.6h0M549.9 219.7h0M457.2 276.2h0M527.1 229.5h0M567.1 235.1h0M553.7 306.0h0M563.9 265.8h0M533.2 275.4h0M539.7 288.2h0M552.5 294.6h0M400.1 308.3h0M511.3 269.5h0M469.9 259.1h0M554.3 272.2h0M435.3 232.0h0M548.9 281.3h0M495.8 271.6h0M410.6 300.1h0M516.7 312.6h0M452.0 287.0h0M400.9 300.9h0M411.8 267.8h0M512.2 263.7h0M443.4 305.7h0M482.6 308.0h0M561.0 218.0h0M434.3 225.0h0M419.5 297.5h0M410.6 221.4h0M510.7 260.5h0M546.7 313.1h0M573.8 232.9h0M463.4 212.3h0M483.7 243.8h0M515.0 255.3h0M501.1 278.4h0M451.3 227.8h0M461.5 253.5h0M517.3 223.8h0M383.1 223.1h0M533.7 246.2h0M392.9 254.0h0M600.9 217.0h0M429.0 245.0h0M540.8 291.5h0M577.9 275.8h0M603.3 223.0h0M485.7 268.4h0M562.2 278.2h0M405.1 271.7h0M592.3 290.5h0M438.2 233.3h0M453.2 242.3h0M407.9 233.5h0M585.5 222.9h0M554.6 245.1h0M513.5 284.0h0M421.4 251.1h0M517.3 274.8h0M462.4 308.9h0M456.2 252.1h0M518.9 306.6h0M584.4 235.2h0M534.8 305.4h0M604.5 303.2h0M400.4 242.5h0M523.4 267.7h0M405.5 250.6h0M457.8 258.0h0M474.1 311.5h0M582.3 234.5h0M447.2 221.0h0M380.6 246.5h0M421.0 313.7h0M521.8 230.3h0M462.9 279.6h0M521.9 296.5h0M486.1 238.7h0M451.8 213.3h0M417.8 228.0h0M529.2 267.8h0M503.5 311.7h0M433.6 242.1h0M381.4 235.8h0M434.3 290.0h0M536.3 250.5h0M423.4 293.3h0M516.4 250.6h0M505.8 281.8h0M419.1 219.5h0M543.1 252.6h0M573.8 236.1h0M514.8 223.7h0M550.4 298.6h0M581.0 247.5h0M443.3 267.1h0M435.6 227.0h0M512.0 272.1h0M546.7 237.1h0M410.9 286.9h0M577.6 285.1h0M444.1 248.8h0M380.1 268.5h0M491.8 302.0h0M454.6 269.0h0M605.2 215.0h0M499.0 301.3h0M514.2 260.2h0M594.2 260.3h0M402.4 254.4h0M453.7 234.1h0M583.7 295.9h0M560.4 313.7h0M564.4 270.1h0M511.4 245.0h0M463.9 255.7h0M455.2 262.3h0M520.4 240.7h0M425.7 308.1h0M526.2 263.6h0M386.9 267.9h0M440.2 247.8h0M414.4 235.4h0M580.0 227.3h0M397.8 242.6h0M427.4 262.0h0M461.3 226.2h0M436.1 232.7h0M544.7 300.1h0M472.6 244.2h0M436.3 277.0h0M556.2 271.4h0M417.0 254.3h0M387.5 239.6h0M407.5 305.9h0M545.6 301.2h0M513.4 302.8h0M491.8 251.1h0M401.6 227.8h0M491.7 267.4h0M404.2 222.4h0M438.8 301.6h0M493.9 280.0h0M481.6 249.9h0M459.9 235.0h0M410.0 290.1h0M385.4 215.8h0M470.2 233.1h0M450.5 308.0h0M505.3 260.8h0M585.8 311.0h0M522.6 266.1h0M453.3 229.6h0M461.5 305.3h0M465.3 234.2h0M380.9 295.1h0M386.1 305.9h0M426.5 233.7h0M560.3 236.8h0M445.1 230.6h0M554.8 237.2h0M592.5 250.3h0M385.3 242.1h0M566.7 241.3h0M546.3 253.7h0M575.7 289.7h0M499.8 285.5h0M523.0 281.9h0M480.5 219.5h0M496.8 283.4h0M533.4 212.9h0M401.8 245.2h0M598.2 305.9h0M429.5 313.3h0M391.2 300.0h0M570.8 278.1h0M422.5 261.8h0M584.5 294.6h0M483.6 249.5h0M582.7 216.7h0M490.5 262.9h0M464.4 266.4h0M561.2 272.4h0M560.6 259.3h0M496.0 251.3h0M516.5 268.5h0M513.2 300.8h0M488.1 273.5h0M573.4 278.2h0M557.8 211.5h0M595.1 253.1h0M536.0 242.3h0M427.8 225.0h0M575.9 302.9h0M408.1 286.2h0M421.7 212.5h0M425.0 247.8h0M455.4 224.7h0M475.2 268.4h0M395.4 233.1h0M528.6 271.6h0M408.4 218.3h0M566.7 280.4h0M517.4 259.0h0M521.1 238.1h0M531.2 289.8h0M444.6 257.8h0M408.7 227.6h0M515.0 312.1h0M570.0 252.7h0M574.0 295.3h0M492.1 301.2h0M488.9 280.7h0M448.6 283.8h0M420.6 308.5h0M468.7 216.4h0M532.9 256.9h0M584.8 248.5h0M477.9 242.1h0M438.7 232.4h0M515.7 233.6h0M507.6 294.2h0M524.4 294.3h0M519.1 305.5h0M604.2 249.0h0M432.8 227.9h0M594.5 245.3h0M403.5 269.0h0M513.6 305.4h0M597.8 241.9h0M512.2 285.4h0M401.8 309.8h0M405.7 217.9h0M589.2 287.3h0M558.0 246.1h0M400.1 305.8h0M571.2 248.7h0M416.6 215.6h0M400.1 289.2h0M596.9 293.7h0M585.6 275.2h0M430.9 214.6h0M584.2 225.9h0M385.4 294.9h0M587.8 216.9h0M383.7 270.1h0M587.8 210.2h0M535.0 210.3h0M435.2 256.2h0M467.3 288.6h0M468.3 242.3h0M479.0 249.8h0M517.8 235.9h0M427.2 283.4h0M450.3 250.8h0M450.4 219.6h0M485.1 209.4h0M497.1 307.8h0M579.6 279.5h0M501.3 210.9h0M496.5 284.8h0M434.1 222.8h0M536.4 286.0h0M482.0 277.8h0M497.5 264.8h0M450.7 222.4h0M512.3 255.8h0M585.0 211.6h0M413.4 214.0h0M568.8 222.3h0M535.4 276.0h0M511.0 301.4h0M549.7 254.7h0M544.6 221.1h0M403.7 281.4h0M541.1 215.7h0M389.2 275.0h0M545.3 280.7h0M395.8 282.3h0M530.1 310.7h0M552.5 272.7h0M441.5 267.6h0M497.2 256.6h0M506.7 286.8h0M602.7 283.9h0M447.6 289.0h0M438.3 238.5h0M590.0 260.5h0M474.9 221.2h0M600.5 291.8h0M545.7 302.3h0M589.5 214.2h0M398.5 299.2h0M453.5 267.4h0M484.3 259.7h0M399.5 247.8h0M461.7 231.5h0M420.0 268.7h0M544.3 222.3h0M407.7 306.7h0M458.4 264.7h0M515.1 216.9h0M550.2 285.8h0M600.4 248.2h0M544.5 214.5h0M591.7 258.0h0M588.3 288.9h0M587.4 232.1h0M569.8 288.5h0M566.9 226.0h0M471.0 313.0h0M413.7 281.5h0M410.0 268.3h0M550.1 269.2h0M403.4 257.1h0M514.2 248.6h0M421.9 238.8h0M422.0 252.1h0M440.7 269.9h0M429.9 259.0h0M592.9 239.7h0M491.3 241.4h0M495.3 247.6h0M526.1 286.9h0M510.0 277.7h0M459.0 287.8h0M475.9 252.7h0M564.8 292.5h0M491.2 283.2h0M389.1 292.4h0M380.4 285.0h0M524.1 301.0h0M476.6 280.5h0M427.6 279.2h0M538.1 301.1h0M434.6 234.1h0M392.1 310.1h0M404.8 284.2h0M395.4 222.4h0M512.1 283.8h0M478.0 250.6h0M398.6 277.5h0M590.3 229.8h0M463.9 257.9h0M427.4 210.6h0M499.1 265.5h0M457.3 310.7h0M383.8 243.4h0M501.6 255.4h0M401.2 252.1h0M413.1 292.9h0M464.9 237.2h0M393.8 270.1h0M390.1 247.3h0M581.8 222.0h0M577.0 306.9h0M564.9 264.9h0M557.9 216.0h0M439.2 282.3h0M480.4 244.4h0M432.6 237.9h0M412.9 228.5h0M574.0 210.2h0M488.1 281.0h0M508.9 308.7h0M517.1 264.4h0M413.6 277.2h0M598.5 268.3h0M597.7 282.0h0M427.9 210.8h0M498.9 237.1h0M460.9 307.4h0M540.8 270.7h0M549.9 311.4h0M582.4 253.5h0M416.5 293.7h0M572.2 218.8h0M472.2 280.2h0M598.3 296.8h0M482.2 230.7h0M408.0 210.9h0M479.5 216.8h0M521.9 304.4h0M528.2 302.0h0M491.9 285.5h0M396.6 251.9h0M493.8 300.9h0M467.0 239.7h0M601.5 217.8h0M456.6 309.5h0M594.8 242.7h0M525.6 304.5h0M533.4 247.8h0M427.2 288.2h0M598.9 242.3h0M409.9 237.3h0M382.2 234.4h0M441.1 283.2h0M481.3 238.0h0M435.6 209.2h0M419.9 304.6h0M432.2 288.4h0M516.9 270.0h0M403.6 224.5h0M532.9 294.1h0M539.3 270.3h0M494.7 215.5h0M437.2 293.0h0M522.1 292.7h0M541.0 240.9h0M571.1 251.4h0M466.6 312.9h0M399.8 226.3h0M413.5 288.3h0M427.4 305.6h0M521.9 293.6h0M443.8 289.4h0M587.6 282.8h0M578.7 299.0h0M530.6 296.7h0M425.5 306.2h0M512.5 253.6h0M494.7 223.5h0M391.8 208.9h0M460.1 217.2h0M568.8 241.7h0M562.4 270.6h0M391.1 229.4h0M483.1 264.5h0M448.5 267.4h0M460.5 294.6h0M561.8 263.1h0M507.4 265.7h0M450.8 279.2h0M469.6 212.8h0M450.7 229.6h0M447.3 261.9h0M521.3 306.2h0M438.5 253.6h0M472.0 280.8h0M430.2 239.7h0M405.5 262.0h0M578.5 219.4h0M543.2 290.0h0M557.4 300.2h0M416.9 303.7h0M519.5 245.2h0M581.0 268.7h0M569.4 227.1h0M442.7 252.2h0M489.7 212.8h0M478.2 286.1h0M462.8 297.0h0M418.0 258.4h0M402.2 299.5h0M521.1 277.0h0M599.8 264.8h0M593.5 220.0h0M499.5 233.8h0M387.6 277.5h0M506.1 289.1h0M547.9 232.9h0M574.7 260.2h0M385.7 215.9h0M591.0 290.2h0M389.8 280.3h0M580.3 210.0h0M467.4 229.9h0M488.0 245.4h0M596.0 266.0h0M517.9 269.0h0M454.3 240.2h0M510.4 269.7h0M549.1 238.0h0M582.0 298.1h0M384.1 239.5h0M390.7 278.6h0M534.5 281.7h0M512.8 304.6h0M551.1 304.1h0M517.6 215.7h0M475.9 227.7h0M589.5 288.4h0M401.0 234.0h0M568.7 298.5h0M442.1 240.6h0M505.9 264.1h0M533.1 272.7h0M476.5 214.9h0M451.4 249.4h0M504.4 252.4h0M533.9 241.9h0M533.5 311.7h0M410.3 213.6h0M478.0 216.9h0M420.1 215.6h0M472.1 247.4h0M550.3 275.8h0M464.4 239.6h0M511.4 240.2h0M499.5 286.7h0M561.9 226.9h0M552.9 213.8h0M454.6 239.2h0M430.8 291.3h0M584.9 257.2h0M464.4 299.6h0M486.1 270.7h0M477.0 287.8h0M407.6 258.5h0M420.8 288.2h0M484.2 252.8h0M592.9 248.8h0M565.2 302.6h0M551.7 270.7h0M409.1 304.0h0M484.0 217.7h0M536.8 278.4h0M395.1 312.1h0M562.5 229.9h0M529.5 228.0h0M439.1 240.6h0M569.1 309.0h0M381.5 252.6h0M421.5 302.1h0M418.3 285.7h0M552.9 274.0h0M466.6 213.7h0M554.0 241.5h0M457.5 280.5h0M595.8 296.5h0M558.8 209.5h0M512.9 298.2h0M436.7 265.2h0M522.3 294.8h0M555.4 302.9h0M586.3 289.8h0M579.3 228.2h0M492.8 221.0h0M480.0 256.0h0M518.9 230.4h0M599.2 302.9h0M382.0 296.0h0M467.1 233.8h0M505.7 289.4h0M404.0 278.7h0M415.3 228.1h0M527.3 212.7h0M457.5 290.4h0M575.7 312.7h0M467.8 301.1h0M582.6 255.5h0M418.5 264.2h0M451.6 255.7h0M586.0 281.2h0M484.8 268.1h0M560.5 270.6h0M540.2 218.1h0M395.9 237.8h0M392.4 245.8h0M585.6 245.8h0M586.5 302.2h0M382.6 228.2h0M477.7 296.9h0M433.0 307.1h0M558.7 263.6h0M491.7 276.4h0M601.2 231.3h0M577.9 304.2h0M441.4 250.2h0M505.0 261.8h0M589.0 262.5h0M516.0 267.6h0M444.8 297.2h0M388.7 245.3h0M471.1 305.4h0M399.1 232.4h0M526.4 299.5h0M430.5 284.9h0M418.5 283.2h0M482.1 260.9h0M527.4 247.7h0M546.9 210.4h0M507.2 271.8h0M424.6 225.9h0M418.0 220.5h0M604.6 262.2h0M505.0 261.6h0M496.1 293.8h0M416.1 247.8h0M473.1 244.5h0M413.0 257.1h0M395.6 284.5h0M583.9 226.1h0M448.1 252.2h0M548.4 291.9h0M560.3 222.6h0M584.5 299.0h0M483.0 264.4h0M514.2 268.1h0M510.8 286.9h0M517.3 236.2h0M538.5 230.7h0M594.0 246.8h0M529.3 286.5h0M585.6 248.9h0M563.0 241.4h0M490.4 277.6h0M386.3 303.3h0M526.2 235.2h0M459.5 247.5h0M468.3 212.7h0M435.5 225.9h0M514.7 217.7h0M560.2 242.4h0M487.4 273.2h0M515.3 241.9h0M532.0 212.0h0M439.2 228.0h0M604.2 245.2h0M600.7 213.5h0M386.8 301.7h0M479.2 253.4h0M532.0 256.5h0M578.6 266.0h0M389.0 262.6h0M498.1 262.9h0M439.4 216.6h0M583.3 267.0h0M577.5 244.4h0M600.4 215.4h0M517.2 257.2h0M556.7 313.6h0M416.9 221.6h0M598.7 241.1h0M462.8 279.6h0M537.7 244.0h0M435.4 260.2h0M451.6 291.9h0M452.2 225.3h0M546.3 289.7h0M459.9 258.2h0M530.4 286.0h0M517.1 238.8h0M590.7 294.2h0M418.6 209.5h0M559.1 287.8h0M495.4 248.2h0M547.3 242.6h0M380.2 309.0h0M383.0 284.1h0M572.3 253.8h0M501.9 313.6h0M479.7 258.1h0M483.6 263.5h0M455.5 233.3h0M386.3 250.1h0M488.6 270.3h0M387.5 312.8h0M544.1 227.6h0M560.2 308.3h0M544.8 247.1h0M597.5 234.6h0M393.1 226.1h0M388.3 218.0h0M401.2 302.2h0M557.0 276.3h0M533.8 244.3h0M448.9 271.3h0M510.8 304.4h0M556.0 303.0h0M581.7 305.0h0M441.3 266.9h0M470.7 209.7h0M469.7 210.5h0M537.0 286.5h0M474.9 307.6h0M559.7 284.5h0M542.2 300.9h0M487.1 252.2h0M384.0 225.4h0M478.4 309.3h0M512.8 283.5h0M385.7 273.1h0M443.8 264.0h0M585.6 257.5h0M462.3 272.8h0M452.5 242.7h0M590.8 230.1h0M508.6 270.7h0M401.9 249.5h0M428.7 262.3h0M501.9 260.2h0M552.6 257.9h0M388.0 300.2h0M422.9 262.3h0M447.5 265.3h0M581.2 262.1h0M562.3 301.0h0M593.1 244.6h0M405.7 251.3h0M570.0 218.1h0M500.6 244.3h0M493.3 249.0h0M462.3 298.3h0M521.6 222.8h0M428.2 253.3h0M474.2 297.8h0M438.2 256.6h0M441.1 221.2h0M600.4 227.5h0M427.9 304.5h0M430.6 239.7h0M404.1 300.3h0M437.2 303.9h0M417.9 290.5h0M489.8 276.5h0M420.5 297.9h0M552.0 306.2h0M435.3 272.4h0M480.5 263.4h0M434.4 283.9h0M430.0 235.4h0M415.7 286.1h0M442.2 258.9h0M501.3 268.1h0M446.4 234.3h0M540.8 308.7h0M509.9 255.5h0M437.7 241.5h0M460.8 299.4h0M546.6 281.2h0M539.8 269.9h0M517.3 256.4h0M535.0 312.8h0M384.8 256.8h0M534.8 312.5h0M442.2 231.6h0M448.8 291.0h0M475.7 262.2h0M426.7 238.4h0M567.2 217.5h0M428.2 292.9h0M555.3 277.7h0M413.2 298.6h0M552.6 297.5h0M551.6 229.2h0M595.8 286.4h0M495.3 226.4h0M392.1 261.2h0M412.1 260.4h0M461.5 302.3h0M475.9 252.0h0M494.2 274.6h0M392.2 247.1h0M477.6 309.1h0M514.0 282.0h0M465.1 224.3h0M517.5 288.2h0M516.1 261.7h0M385.1 265.3h0M384.8 244.8h0M425.9 213.1h0M433.4 243.2h0M450.1 237.5h0M386.1 301.4h0M557.3 245.0h0M527.0 239.5h0M548.9 230.6h0M388.4 232.8h0M515.4 239.1h0M523.4 245.6h0M380.8 277.5h0M567.6 273.9h0M412.1 273.7h0M478.9 220.7h0M507.3 282.7h0M522.5 210.8h0M439.7 307.0h0M534.2 310.7h0M566.4 268.4h0M548.1 306.9h0M405.2 243.2h0M381.8 233.1h0M475.0 303.7h0M497.1 256.5h0M503.7 307.1h0M500.0 276.6h0M558.4 282.3h0M559.9 220.2h0M475.3 259.9h0M467.7 313.8h0M429.5 236.3h0M544.6 279.9h0M492.3 251.6h0M441.4 293.5h0M498.9 241.6h0M595.2 222.0h0M590.5 241.8h0M593.2 297.5h0M584.8 209.1h0M592.6 214.3h0M515.3 282.4h0M458.9 248.9h0"/>
<text class="k" x="379.0" y="336.0" text-anchor="middle">0</text>
<text class="k" x="448.2" y="336.0" text-anchor="middle">2</text>
<text class="k" x="517.3" y="336.0" text-anchor="middle">4</text>
<text class="k" x="587.5" y="336.0" text-anchor="middle">6</text>
<text class="k" x="656.9" y="336.0" text-anchor="middle">8</text>
<text class="k" x="375.1" y="321.6" text-anchor="end">0</text>
<text class="k" x="375.1" y="240.7" text-anchor="end">5</text>
<text class="x" x="379.9" y="206.9">×</text><text class="k" x="393.9" y="204.8" letter-spacing="-1.4">10</text><text class="k s" x="412.0" y="196.4">4</text>
<text class="x" x="616.9" y="365.4">×</text><text class="k" x="630.9" y="363.3" letter-spacing="-1.4">10</text><text class="k s" x="649.0" y="354.9">4</text>
<text class="t" x="518.0" y="201.0" text-anchor="middle">Vertical</text>
<path class="av" d="M15.0 395.4V501.3"/>
<path class="ah" d="M14.0 500.6H291.0"/>
<path class="tk" d="M84.0 500.6v-2.6M153.0 500.6v-2.6M222.0 500.6v-2.6M291.0 500.6v-2.6M16.0 420.3h2.2"/>
<path class="d" d="M164.1 419.7h0M127.2 437.3h0M181.8 427.2h0M153.0 421.3h0M83.9 476.0h0M168.7 449.2h0M73.5 478.8h0M124.8 442.3h0M129.6 453.3h0M116.8 436.9h0M74.1 471.2h0M119.4 459.1h0M137.8 449.1h0M172.2 437.9h0M123.8 427.7h0M96.1 456.3h0M163.0 440.9h0M119.8 459.0h0M77.4 467.4h0M99.4 482.4h0M113.0 465.2h0M62.3 452.1h0M132.5 442.8h0M152.7 429.2h0M68.2 486.9h0M129.8 447.4h0M112.9 461.7h0M139.2 419.2h0M153.0 438.4h0M86.8 454.7h0M80.1 490.3h0M114.1 445.5h0M129.1 445.6h0M155.7 420.7h0M132.7 437.4h0M110.3 453.4h0M107.7 451.0h0M67.8 493.9h0M132.9 445.3h0M112.2 464.4h0M135.7 435.3h0M122.2 430.3h0M122.8 450.8h0M82.1 445.8h0M73.7 460.2h0M124.1 480.7h0M156.8 442.3h0M69.9 456.9h0M124.9 450.2h0M166.6 434.9h0M40.6 462.2h0M183.1 423.0h0M141.1 436.1h0M73.3 470.0h0M111.5 461.1h0M150.8 422.2h0M114.9 454.8h0M105.6 454.3h0M110.4 447.3h0M118.8 436.9h0M48.0 456.9h0M155.9 449.4h0M136.7 449.1h0M80.1 470.7h0M158.7 446.4h0M64.3 481.6h0M141.3 442.0h0M40.4 482.2h0M70.8 473.3h0M182.4 423.1h0M95.6 466.4h0M114.4 444.4h0M169.8 422.3h0M168.5 444.1h0M115.7 451.2h0M40.2 479.6h0M193.5 420.0h0M74.8 452.0h0M103.8 447.5h0M129.6 440.5h0M96.8 455.4h0M53.4 476.3h0M67.5 440.7h0M123.3 445.7h0M144.6 460.6h0M136.9 428.1h0M105.7 444.5h0M183.5 431.7h0M149.1 453.9h0M130.3 451.0h0M142.3 468.8h0M118.1 474.4h0M140.8 452.4h0M97.0 451.5h0M148.8 419.7h0M159.6 438.4h0M85.6 477.4h0M131.6 444.5h0M91.8 457.7h0M122.6 460.7h0M101.5 449.7h0M111.3 437.8h0M119.0 467.2h0M154.8 430.5h0M167.8 436.8h0M31.6 461.2h0M104.6 470.5h0M130.3 448.3h0M110.0 472.7h0M130.9 448.9h0M175.5 426.3h0M177.6 442.7h0M84.0 467.1h0M159.5 445.5h0M117.0 450.3h0M99.3 450.8h0M163.9 452.1h0M121.9 465.9h0M126.9 459.8h0M164.2 453.5h0M87.1 460.3h0M86.3 473.1h0M108.2 427.2h0M177.5 439.3h0M131.4 423.6h0M183.8 461.7h0M126.1 454.2h0M144.0 459.7h0M127.0 440.1h0M104.0 474.3h0M156.4 421.9h0M146.9 430.0h0M148.2 445.3h0M64.9 462.9h0M155.8 442.5h0M98.1 449.6h0M160.9 439.5h0M86.0 433.9h0M174.2 430.1h0M77.6 468.4h0M96.8 459.2h0M140.5 447.8h0M165.3 423.6h0M173.2 427.8h0M130.5 440.9h0M187.6 447.4h0M139.3 445.2h0M126.9 456.8h0M122.3 445.4h0M105.9 450.2h0M103.6 456.7h0M183.1 436.0h0M121.6 469.1h0M95.6 457.8h0M126.0 454.9h0M97.0 437.1h0M119.3 446.7h0M148.6 435.0h0M120.2 443.5h0M173.5 447.6h0M170.0 422.2h0M169.9 425.8h0M127.9 475.8h0M161.0 426.2h0M123.8 449.7h0M105.5 457.6h0M106.3 465.5h0M125.2 458.0h0M130.7 442.8h0M145.5 433.8h0M130.9 450.1h0M70.5 473.4h0M92.0 493.5h0M164.4 448.4h0M158.6 475.2h0M90.2 470.5h0M130.7 429.5h0M91.9 469.5h0M103.6 470.8h0M146.7 451.5h0M118.8 462.9h0M97.6 435.0h0M170.6 432.2h0M189.5 417.5h0M105.6 447.8h0M97.0 459.4h0M174.4 421.2h0M116.8 461.9h0M134.2 455.3h0M111.6 450.6h0M196.5 436.7h0M160.9 454.3h0M154.2 438.2h0M139.8 448.9h0M138.4 435.9h0M148.8 455.8h0M153.9 429.5h0M109.6 453.0h0M93.4 467.0h0M187.3 433.0h0M180.3 446.8h0M26.9 490.0h0M117.7 464.1h0M108.1 451.8h0M138.7 452.2h0M161.2 423.2h0M116.6 434.1h0M157.4 442.5h0M68.6 468.0h0M126.8 450.8h0M122.3 428.4h0M122.1 462.2h0M156.6 435.5h0M89.7 460.2h0M63.2 485.8h0M63.7 464.6h0M170.4 449.4h0M124.7 453.3h0M142.1 439.7h0M104.8 447.2h0M110.7 456.4h0M181.7 431.3h0M111.6 472.1h0M114.1 455.9h0M154.2 450.2h0M175.6 443.2h0M110.1 446.1h0M131.0 460.5h0M160.3 422.7h0M92.9 476.0h0M97.3 456.1h0M139.8 447.7h0M104.8 430.7h0M91.4 466.7h0M145.3 452.8h0M86.5 458.7h0M141.4 414.3h0M177.9 441.1h0M151.0 444.1h0M100.7 463.7h0M63.6 484.4h0M184.1 441.5h0M87.3 472.0h0M156.6 445.1h0M105.1 448.0h0M118.8 440.2h0M134.0 431.5h0M139.4 460.5h0M117.2 449.9h0M107.3 451.4h0M94.7 462.2h0M83.2 473.8h0M79.9 455.3h0M137.7 458.2h0M117.8 443.3h0M52.0 476.6h0M108.4 459.2h0M117.8 456.4h0M165.9 442.1h0M151.1 437.8h0M51.6 479.9h0M148.8 454.9h0M137.1 427.5h0M144.4 448.1h0M114.7 435.7h0M106.5 464.7h0M74.0 458.0h0M137.9 459.0h0M113.1 450.5h0M91.1 455.4h0M151.4 446.6h0M114.8 436.2h0M157.1 437.8h0M136.4 433.4h0M71.9 475.1h0M113.1 456.5h0M103.7 440.1h0M152.1 437.6h0M89.7 486.9h0M91.6 479.4h0M177.1 429.5h0M114.8 453.5h0M167.5 420.9h0M118.7 456.3h0M183.1 439.7h0M111.8 445.5h0M145.0 451.6h0M192.3 447.2h0M135.4 438.9h0M98.6 472.2h0M145.4 431.7h0M95.9 459.7h0M170.8 455.7h0M151.6 429.5h0M143.7 439.2h0M132.7 438.9h0M154.0 446.8h0M164.1 419.0h0M126.7 439.3h0M117.9 448.4h0M47.5 486.2h0M114.6 472.4h0M137.8 456.6h0M86.8 471.0h0M123.4 466.1h0M105.8 434.2h0M144.9 420.8h0M185.1 418.9h0M137.5 446.0h0M52.3 465.8h0M149.6 456.3h0M93.2 463.6h0M169.7 450.6h0M62.4 482.0h0M153.3 436.6h0M28.4 489.4h0M98.4 444.4h0M119.0 466.2h0M141.2 450.6h0M146.6 447.9h0M131.7 455.6h0M92.2 467.6h0M77.2 469.7h0M116.5 464.2h0M163.9 448.7h0M119.1 435.6h0M89.2 449.7h0M173.7 432.6h0M124.3 451.4h0M136.7 481.8h0M170.2 435.6h0M151.2 418.8h0M133.1 445.8h0M125.8 469.3h0M96.6 438.1h0M122.2 448.9h0M94.8 451.0h0M119.9 446.9h0M97.3 458.0h0M112.7 451.8h0M142.2 445.4h0M170.9 437.1h0M103.9 442.3h0M113.8 469.1h0M124.6 447.8h0M140.5 438.1h0M136.0 445.9h0M137.0 424.3h0M136.3 456.1h0M100.1 459.2h0M117.3 452.0h0M136.2 435.7h0M132.8 459.7h0M33.8 424.2h0M131.9 458.4h0M67.9 465.7h0M92.6 476.2h0M105.8 455.2h0M146.9 440.2h0M157.3 448.6h0M76.9 463.7h0M113.2 447.1h0M80.6 450.8h0M121.5 446.8h0M81.6 473.9h0M103.8 475.0h0M61.4 444.1h0M92.4 465.6h0M117.5 472.1h0M109.0 456.9h0M104.2 469.5h0M135.4 454.3h0M75.8 465.8h0M163.2 427.9h0M143.3 436.9h0M130.4 427.6h0M194.2 414.8h0M159.2 452.2h0M96.9 444.5h0M97.9 449.1h0M118.5 445.0h0M47.6 476.9h0M116.5 449.2h0M151.7 440.0h0M111.6 449.5h0M128.5 439.5h0M131.8 444.5h0M162.0 453.7h0M125.3 456.1h0M131.4 450.0h0M175.3 423.5h0M159.8 460.7h0M155.2 429.0h0M141.2 462.5h0M160.4 441.8h0M136.1 448.8h0M69.1 456.1h0M115.9 455.9h0M117.9 439.3h0M83.0 470.1h0M158.9 435.6h0M70.7 465.3h0M107.0 445.1h0M155.1 425.9h0M112.8 451.6h0M142.3 435.8h0M56.0 490.5h0M146.2 450.1h0M170.8 443.6h0M99.5 461.0h0M163.8 427.1h0M132.4 439.5h0M150.6 433.8h0M133.2 440.2h0M127.8 435.5h0M43.2 479.7h0M163.5 442.2h0M108.8 463.9h0M57.7 434.1h0M102.8 485.1h0M154.5 445.8h0M110.3 442.2h0M159.3 456.5h0M171.7 419.8h0M77.5 480.8h0M138.8 454.1h0M95.3 463.8h0M175.2 436.0h0M147.1 431.8h0M101.2 457.7h0M171.8 436.2h0M176.5 431.5h0M84.3 465.4h0M125.8 431.2h0M146.3 459.8h0M138.0 437.5h0M120.1 437.6h0M123.1 444.3h0M128.2 448.9h0M99.7 460.0h0M139.5 464.3h0M184.4 434.3h0M164.0 429.8h0M149.0 418.5h0M161.7 439.8h0M105.7 470.6h0M67.8 440.7h0M86.1 458.1h0M123.4 429.9h0M73.4 468.8h0M156.0 459.0h0M81.3 466.6h0M168.4 421.4h0M194.2 423.5h0M60.8 466.5h0M121.9 450.7h0M102.0 438.1h0M107.3 445.0h0M121.1 437.7h0M167.4 425.2h0M132.7 453.3h0M115.0 469.0h0M75.5 468.0h0M196.4 443.5h0M84.3 459.4h0M68.8 451.6h0M139.9 458.6h0M154.0 431.1h0M100.7 467.4h0M55.8 473.4h0M110.8 435.4h0M93.8 463.2h0M104.9 454.8h0M108.3 457.9h0M140.7 443.1h0M155.1 423.7h0M102.4 461.0h0M102.9 467.8h0M76.8 458.5h0M166.9 438.0h0M160.7 440.2h0M122.6 445.2h0M141.1 457.5h0M103.8 444.0h0M145.4 437.6h0M114.1 455.9h0M142.9 461.5h0M157.5 452.5h0M185.3 432.6h0M91.6 450.8h0M136.6 442.7h0M115.6 466.4h0M118.5 460.0h0M143.7 459.6h0M158.7 434.9h0M154.5 418.1h0M64.5 480.5h0M141.9 448.7h0M162.7 433.9h0M164.9 428.4h0M134.8 431.7h0M169.1 443.8h0M129.0 453.3h0M145.5 438.7h0M128.5 448.0h0M127.5 462.3h0M72.9 478.9h0M85.5 476.4h0M114.6 463.8h0M62.9 459.1h0M143.4 449.5h0M84.7 452.1h0M126.4 442.7h0M166.3 437.7h0M82.7 482.5h0M124.8 435.5h0M179.0 429.8h0M132.2 456.5h0M139.5 446.8h0M118.5 439.0h0M177.6 439.5h0M154.7 429.0h0M192.4 419.4h0M96.1 453.2h0M173.9 437.3h0M135.2 444.8h0M125.1 432.1h0M102.7 476.8h0M79.1 483.0h0M106.1 479.9h0M153.0 446.3h0M70.1 475.3h0M99.7 453.7h0M168.9 414.5h0M93.7 459.0h0M97.4 455.6h0M123.5 455.1h0M91.7 474.2h0M125.2 442.6h0M118.1 458.1h0M115.4 445.4h0M87.1 475.4h0M108.7 456.5h0M155.9 436.5h0M136.0 456.1h0M184.0 423.7h0M84.9 463.4h0M148.1 448.9h0M118.0 447.3h0M156.8 434.9h0M114.6 484.7h0M73.7 460.6h0M149.7 448.4h0M162.7 423.0h0M145.4 448.5h0M97.4 455.3h0M171.0 465.9h0M162.6 450.4h0M111.4 455.8h0M135.4 438.5h0M141.8 444.2h0M140.9 457.4h0M169.4 430.3h0M136.0 435.1h0M180.1 419.4h0M131.5 463.2h0M120.5 454.7h0M120.8 452.3h0M54.5 473.4h0M110.5 445.1h0M109.5 454.1h0M132.5 426.1h0M123.4 462.0h0M124.6 445.7h0M107.4 461.6h0M39.5 448.5h0M147.6 445.3h0M121.8 473.8h0M95.1 443.5h0M148.9 458.1h0M41.5 472.3h0M86.2 453.1h0M104.3 457.4h0M149.4 449.0h0M114.9 454.8h0M121.6 438.3h0M115.5 465.6h0M123.5 448.2h0M46.5 483.7h0M73.4 477.8h0M173.2 438.3h0M154.5 445.2h0M138.6 447.9h0M172.8 435.7h0M77.2 468.3h0M110.4 451.9h0M94.3 473.9h0M107.3 439.1h0M114.4 455.3h0M151.8 442.7h0M147.1 474.8h0M109.0 467.8h0M128.1 464.1h0M157.2 435.9h0M141.5 444.9h0M139.9 441.6h0M140.3 452.7h0M93.9 441.3h0M166.8 422.5h0M68.8 465.2h0M163.5 429.1h0M119.2 446.5h0M128.7 452.1h0M141.4 434.5h0M173.1 433.3h0M189.6 441.3h0M121.9 449.7h0M86.7 467.8h0M132.1 451.2h0M150.1 437.4h0M69.6 456.6h0M88.3 447.8h0M109.6 459.6h0M83.8 457.7h0M93.7 476.2h0M103.6 453.1h0M104.4 458.9h0M160.5 451.5h0M179.6 434.3h0M110.8 449.9h0M125.9 437.2h0M155.1 439.7h0M139.1 440.8h0M55.1 460.4h0M146.4 440.6h0M143.8 443.7h0M163.3 421.3h0M69.9 489.0h0M139.9 451.5h0M129.2 445.7h0M137.2 444.8h0M167.3 443.1h0M87.6 482.1h0M117.5 434.4h0M120.0 444.8h0M136.8 435.8h0M152.8 456.8h0M154.5 439.6h0M125.4 448.5h0M179.6 423.8h0M162.6 432.3h0M120.1 422.1h0M94.1 470.3h0M134.1 443.9h0M153.1 447.9h0M140.2 422.9h0M58.9 465.4h0M151.4 429.0h0M186.2 439.1h0M78.8 466.2h0M147.8 451.6h0M71.0 455.2h0M129.0 448.7h0M97.2 463.3h0M165.8 423.0h0M159.7 426.3h0M134.8 431.7h0M123.5 454.6h0M102.5 443.0h0M146.7 440.6h0M173.3 431.6h0M157.1 424.9h0M74.7 488.1h0M142.8 461.5h0M91.0 473.5h0M151.6 420.5h0M155.1 420.7h0M161.7 433.0h0M170.0 439.5h0M145.8 432.8h0M112.4 450.6h0M80.8 469.4h0M117.3 463.5h0M141.1 440.0h0M159.6 456.5h0M199.5 415.5h0M96.7 449.2h0M67.3 462.1h0M150.4 463.4h0M116.3 465.0h0M100.9 484.0h0M130.5 440.1h0M119.5 444.6h0M166.0 445.2h0M160.1 430.6h0M161.2 423.5h0M104.4 476.9h0M178.1 433.9h0M186.2 439.2h0M179.8 435.4h0M130.9 450.4h0M180.3 418.9h0M68.4 442.4h0M64.8 448.8h0M91.8 457.1h0M127.6 462.7h0M140.7 453.0h0M101.7 453.7h0M82.7 477.5h0M97.9 477.0h0M67.4 464.1h0M151.3 447.4h0M118.4 449.4h0M129.3 429.5h0M45.8 475.2h0M124.1 444.5h0M177.3 421.0h0M95.6 440.8h0M124.4 465.9h0M114.4 443.0h0M127.6 454.7h0M198.4 413.6h0M133.8 456.3h0M114.5 471.2h0M152.4 427.0h0M109.2 453.5h0M111.6 462.5h0M142.0 460.1h0M107.4 444.9h0M100.4 477.4h0M159.8 436.7h0M125.0 439.2h0M107.4 450.6h0M151.2 424.3h0M131.8 427.8h0M117.5 474.3h0M171.4 440.7h0M200.1 441.2h0M87.2 447.6h0M118.5 460.2h0M152.9 434.3h0M88.0 450.2h0M158.4 434.9h0M143.3 474.1h0M168.6 428.0h0M163.7 446.5h0M170.0 437.5h0M151.8 437.8h0M103.9 441.4h0M81.2 448.1h0M152.8 459.0h0M163.4 444.3h0M112.8 445.8h0M125.5 466.3h0M129.8 469.1h0M183.2 439.5h0M66.5 454.8h0M100.3 452.7h0M178.6 464.8h0M108.5 456.7h0M92.4 451.0h0M134.9 434.9h0M167.5 435.8h0M115.2 459.9h0M111.0 451.8h0M118.6 458.1h0M127.6 443.3h0M153.7 449.7h0M148.3 467.2h0M157.5 429.9h0M109.5 460.2h0M97.2 463.7h0M110.9 451.3h0M143.5 438.7h0M126.2 459.7h0M145.5 446.1h0M135.5 441.0h0M184.6 455.8h0M93.5 430.3h0M162.9 420.7h0M169.4 435.3h0M153.4 430.6h0M165.3 441.4h0M135.7 444.7h0M107.3 456.7h0M67.6 480.0h0M59.7 482.6h0M50.3 494.8h0M118.4 450.9h0M119.8 447.4h0M63.7 469.4h0M69.9 465.5h0M62.6 468.5h0M138.9 418.1h0M134.6 445.8h0M116.3 437.6h0M103.0 463.5h0M73.8 473.2h0M151.4 429.8h0M178.0 429.7h0M145.8 414.4h0M150.7 444.1h0M111.5 454.3h0M152.1 444.8h0M159.3 446.7h0M67.0 446.1h0M64.8 476.8h0M122.3 435.3h0M42.5 465.6h0M162.8 426.4h0M179.7 428.8h0M167.1 420.4h0M155.9 441.4h0M152.9 448.3h0M124.0 437.0h0M125.5 446.9h0M100.2 442.6h0M166.0 414.1h0M114.9 445.2h0M75.0 473.6h0M95.6 464.1h0M176.9 431.0h0M145.3 439.4h0M119.8 457.3h0M149.2 453.9h0M48.7 462.7h0M169.6 435.1h0M94.1 468.4h0M73.2 477.7h0M88.7 453.9h0M140.6 448.1h0M175.8 423.5h0M125.8 443.9h0M79.5 469.5h0M145.6 446.7h0M100.3 476.4h0M166.3 457.8h0M162.6 446.8h0M145.6 446.8h0M98.0 452.5h0M168.2 433.4h0M173.6 436.7h0M164.1 446.1h0M55.2 460.8h0M74.9 466.7h0M152.3 439.8h0M119.0 430.9h0M116.0 448.2h0M150.1 448.9h0M142.1 449.8h0M119.6 465.6h0M125.8 443.5h0M125.1 442.5h0M164.4 444.7h0M178.0 444.1h0M105.9 454.1h0M95.1 480.6h0M138.5 447.4h0M128.6 440.4h0M128.1 435.5h0M142.5 434.1h0M122.2 453.8h0M107.3 436.3h0M94.1 479.1h0M99.2 494.5h0M188.7 419.6h0M161.3 444.4h0M54.5 475.7h0M68.8 453.1h0M119.5 453.5h0M105.9 459.5h0M82.9 464.6h0M132.8 450.8h0M128.3 446.6h0M92.5 471.0h0M134.1 448.8h0M81.5 472.1h0M185.9 422.5h0M133.2 440.0h0M141.4 455.0h0M81.2 461.7h0M130.2 452.0h0M127.8 438.4h0M182.3 424.1h0M172.4 444.0h0M126.7 445.7h0M172.1 428.0h0M168.2 443.1h0M144.5 453.2h0M108.6 445.2h0M161.4 435.6h0M146.1 460.5h0M138.6 432.6h0M132.6 423.7h0M142.2 449.3h0M77.0 481.2h0M140.9 438.9h0M147.5 422.7h0M109.3 447.5h0M146.8 439.4h0M107.8 471.2h0M77.6 453.6h0M124.1 454.0h0M61.8 468.7h0M138.5 445.1h0M118.6 460.8h0M143.5 444.3h0M137.9 445.7h0M157.7 427.3h0M185.0 427.0h0M146.6 462.3h0M147.4 434.2h0M100.9 458.2h0M153.5 451.2h0M117.0 457.1h0M157.4 422.7h0M140.2 436.9h0M167.7 441.0h0M111.1 452.7h0M130.1 444.4h0M100.9 488.3h0M134.1 443.1h0M98.4 485.9h0M165.3 430.7h0M97.2 454.8h0M146.2 447.6h0M150.2 430.8h0M122.2 453.2h0M85.8 474.3h0M139.2 432.5h0M125.4 435.5h0M175.5 436.6h0M167.9 431.8h0M180.4 428.1h0M124.8 444.9h0M104.6 471.3h0M187.9 424.8h0M171.8 437.9h0M86.9 471.7h0M122.0 451.2h0M84.4 461.6h0M120.7 454.6h0M42.3 436.0h0M157.0 437.1h0M118.4 416.7h0M106.4 467.2h0M111.1 449.1h0M162.0 433.8h0M114.0 444.9h0M64.4 483.8h0M170.7 420.7h0M156.0 440.8h0M154.5 477.3h0M91.6 472.5h0M105.9 467.5h0M144.0 456.4h0M147.5 473.5h0M181.7 421.9h0M141.8 430.1h0M133.3 434.6h0M154.5 429.9h0M114.4 449.7h0M75.5 457.6h0M133.3 443.3h0M136.1 436.2h0M159.8 434.0h0M45.0 474.4h0M171.7 428.2h0M61.1 453.4h0M137.4 456.2h0M186.0 424.5h0M93.2 454.3h0M134.6 469.0h0M64.6 461.7h0M108.0 435.1h0M134.6 460.5h0M106.0 438.2h0M183.6 421.7h0M158.4 442.9h0M133.2 467.7h0M143.5 418.3h0M134.7 434.2h0M161.1 428.1h0M136.7 452.2h0M145.1 455.5h0M104.4 455.5h0M122.5 440.5h0M139.9 429.4h0M144.1 437.1h0M125.9 437.9h0M122.3 439.8h0M144.8 440.8h0M87.8 451.8h0M79.5 480.7h0M144.1 431.5h0M156.3 454.8h0M139.4 456.0h0M71.0 442.4h0M99.7 451.4h0M157.5 442.4h0M141.0 446.6h0M42.3 481.2h0M90.0 447.3h0M116.0 456.3h0M62.0 485.4h0M161.0 444.9h0M97.9 468.2h0M151.9 438.9h0M99.0 456.3h0M136.5 448.3h0M145.9 463.0h0M129.1 448.4h0M91.6 432.8h0M182.2 417.4h0M35.7 473.3h0M94.0 478.0h0M92.2 416.8h0M119.9 452.9h0M176.6 413.5h0M117.4 452.3h0M125.4 461.6h0M115.1 448.5h0M129.1 443.5h0M134.5 457.4h0M173.6 427.1h0M150.9 432.6h0M131.1 449.9h0M105.2 460.9h0M103.3 445.3h0M132.5 440.0h0M146.5 452.7h0M156.4 437.9h0M133.0 453.2h0M178.0 426.1h0M38.5 465.4h0M144.8 428.3h0M128.2 439.6h0M76.6 472.2h0M50.5 480.3h0M189.4 423.8h0M89.2 452.8h0M154.7 421.3h0M122.5 443.6h0M137.7 462.7h0M125.2 435.9h0M49.2 496.4h0M140.2 448.1h0M147.3 452.6h0M88.1 478.3h0M116.6 440.5h0M104.5 473.6h0M186.6 418.0h0M149.6 443.4h0M124.3 450.4h0M165.3 430.3h0M130.2 460.4h0M103.9 467.3h0M150.7 431.1h0M166.4 425.1h0M31.4 465.8h0M59.3 472.2h0M103.9 424.7h0M134.1 453.4h0M37.0 459.0h0M71.9 487.8h0M91.5 463.1h0M113.2 461.1h0M169.2 428.6h0M148.4 438.9h0M120.1 463.6h0M116.4 459.6h0M96.2 467.4h0M140.6 436.3h0M113.0 457.0h0M62.1 470.5h0M147.7 446.2h0M82.5 471.0h0M161.2 424.7h0M143.2 432.6h0M128.9 460.6h0M175.5 425.7h0M139.3 425.5h0M98.6 464.2h0M149.8 444.5h0M178.8 437.7h0M109.1 459.7h0M140.7 436.1h0M85.7 462.4h0M73.2 463.2h0M124.4 459.2h0M158.3 451.7h0M191.0 425.8h0M121.3 441.4h0M161.8 436.9h0M152.7 464.7h0M158.9 416.6h0M52.3 448.8h0M167.1 440.1h0M158.6 437.4h0M89.1 472.4h0M107.6 436.7h0M187.4 427.1h0M150.5 416.5h0M113.2 445.0h0M114.6 455.4h0M79.2 462.4h0M99.1 468.6h0M176.2 419.7h0M131.2 418.7h0M100.7 459.7h0M138.6 441.3h0M72.1 463.4h0M175.9 436.2h0M151.0 453.6h0M133.7 452.2h0M44.0 482.4h0M99.5 470.1h0M169.6 418.4h0M146.0 440.7h0M159.9 429.5h0M108.3 465.2h0M116.2 450.5h0M131.1 451.5h0M169.7 428.9h0M133.9 426.5h0M74.5 464.3h0M112.6 457.4h0M164.5 423.2h0M127.5 414.4h0M162.5 432.4h0M72.6 458.7h0M155.0 417.9h0M129.4 444.9h0M153.3 439.3h0M119.2 435.0h0M142.1 436.5h0M166.6 431.6h0M120.4 439.1h0M92.9 466.9h0M118.9 454.5h0M152.6 445.7h0M79.5 489.3h0M105.0 451.5h0M152.3 436.5h0M144.1 466.9h0M71.3 472.6h0M33.7 477.6h0M130.7 446.4h0M73.0 443.7h0M59.0 471.7h0M180.0 446.1h0M162.1 432.2h0M114.8 449.1h0M149.1 445.9h0M166.4 434.5h0M79.7 465.7h0M170.5 438.3h0M144.7 440.9h0M193.1 451.3h0M121.3 456.2h0M110.5 457.7h0M162.9 428.6h0M138.3 452.9h0M154.7 431.7h0M163.7 426.8h0M192.6 462.2h0M164.7 426.4h0M116.8 447.3h0M128.6 444.0h0M47.1 482.6h0M136.1 420.2h0M121.8 443.0h0M97.8 471.1h0M184.1 422.4h0M54.9 475.1h0M79.8 466.0h0M120.2 437.1h0M143.3 442.8h0M153.4 434.1h0M158.2 417.7h0M171.1 465.0h0M112.7 458.9h0M109.9 460.7h0M125.8 444.0h0M153.0 448.3h0M87.5 474.0h0M156.7 423.1h0M114.6 437.4h0M153.7 435.0h0M162.1 416.3h0M68.6 454.3h0M58.8 476.4h0M89.2 466.3h0M103.5 464.8h0M133.6 440.1h0M72.9 462.1h0M197.1 427.4h0M98.0 461.7h0M125.8 460.1h0M127.1 437.7h0M87.1 460.6h0M31.5 469.8h0M154.1 438.0h0M185.6 413.6h0M97.6 478.8h0M88.0 466.9h0M105.5 461.0h0M180.1 420.7h0M176.8 423.7h0M109.8 467.5h0M73.6 455.0h0M155.9 442.0h0M91.4 464.8h0M169.5 459.7h0M112.0 467.6h0M53.0 446.1h0M139.5 453.9h0M167.9 432.4h0M158.6 430.2h0M110.3 440.4h0M138.5 449.4h0M94.9 447.5h0M181.4 430.9h0M106.6 445.3h0M186.6 428.8h0M79.7 451.0h0M136.9 441.4h0M125.1 454.5h0M135.4 416.1h0M192.4 417.9h0M110.3 448.7h0M163.6 430.9h0M75.2 467.7h0M119.9 429.7h0M107.0 441.5h0M109.2 467.2h0M121.0 433.0h0M183.2 427.5h0M142.6 448.9h0M187.9 432.4h0M152.2 436.5h0M37.4 485.5h0M107.2 454.7h0M91.7 449.4h0M75.6 461.2h0M92.3 468.1h0M132.4 448.7h0M95.8 451.0h0M112.2 461.8h0M162.9 443.9h0M70.8 473.7h0M76.9 419.2h0M78.1 465.7h0M110.7 455.3h0M120.7 449.1h0M159.4 427.5h0M125.4 458.7h0M151.2 435.9h0M123.5 457.7h0M107.6 456.8h0M73.6 471.2h0M120.1 447.9h0M150.7 455.2h0M81.7 461.3h0M79.9 477.7h0M63.1 455.7h0M109.6 439.6h0M111.0 461.6h0M124.1 459.1h0M152.2 440.8h0M159.0 434.9h0M120.5 458.9h0M105.1 452.2h0M96.3 478.4h0M88.3 462.8h0M142.7 453.0h0M147.4 439.2h0M106.2 453.7h0M173.1 426.4h0M71.8 461.3h0M145.9 418.7h0M134.9 442.8h0M107.0 426.8h0M106.7 469.7h0M125.4 475.3h0M128.5 437.0h0M97.9 454.6h0M90.5 440.8h0M193.8 425.0h0M113.5 463.7h0M140.3 459.4h0M123.8 458.0h0M68.2 484.7h0M127.0 458.7h0M121.8 456.1h0M99.0 473.2h0M110.0 453.5h0M60.9 474.5h0M176.8 445.7h0M188.9 437.5h0M140.5 465.0h0M126.6 426.5h0M144.7 432.3h0M151.0 429.3h0M168.8 425.0h0M161.5 444.3h0M109.9 449.7h0M110.3 455.9h0M95.3 492.9h0M111.8 435.3h0M140.1 446.9h0M157.4 436.2h0M172.9 441.9h0M116.3 456.7h0M114.2 447.8h0M80.6 484.8h0M111.1 439.6h0M110.1 468.3h0M89.3 454.1h0M137.7 439.9h0M137.7 447.6h0M184.0 425.6h0M142.2 438.9h0M153.0 449.5h0M163.2 450.4h0M131.4 462.7h0M134.4 433.2h0M65.3 487.6h0M102.6 455.4h0M116.7 443.5h0M126.8 438.7h0M109.6 466.3h0M138.1 450.5h0M161.4 443.5h0M99.7 455.6h0M76.1 450.2h0M170.8 449.4h0M135.4 443.1h0M122.8 455.1h0M108.4 458.4h0M118.1 444.5h0M188.9 441.3h0M41.1 492.9h0M179.9 441.0h0M129.5 454.1h0M132.7 444.1h0M82.7 462.0h0M115.7 465.9h0M93.2 430.2h0M107.6 449.8h0M106.9 440.5h0M76.5 469.0h0M125.7 442.4h0M162.4 440.1h0M148.6 445.5h0M108.6 446.3h0M115.4 457.2h0M94.3 468.5h0M177.7 429.3h0M185.4 461.9h0M171.2 455.0h0M93.8 470.9h0M149.2 445.7h0M148.6 430.5h0M130.6 442.6h0M113.3 435.4h0M95.5 458.5h0M167.7 460.6h0M90.9 456.1h0M89.6 445.0h0M97.8 453.4h0M128.8 461.1h0M196.2 434.2h0M112.5 464.3h0M157.4 426.8h0M133.3 444.8h0M116.4 461.3h0M150.8 442.4h0M163.0 446.0h0M145.3 455.4h0M137.1 444.2h0M132.3 466.2h0M104.9 466.7h0M143.1 431.0h0M80.1 478.3h0M118.7 440.6h0M153.8 430.6h0M169.0 456.7h0M85.6 467.2h0M159.3 461.4h0M167.4 433.5h0M159.2 443.4h0M131.6 443.8h0M73.6 476.1h0M98.0 453.7h0M97.5 473.2h0M116.1 464.3h0M150.9 421.3h0M123.1 441.0h0M152.4 428.2h0M99.7 442.8h0M173.6 437.2h0M149.3 428.5h0M126.8 440.0h0M93.0 488.2h0M71.6 481.9h0M140.2 423.1h0M151.4 431.3h0M150.9 426.9h0M115.4 459.0h0M180.7 447.2h0M180.5 422.7h0M142.1 437.6h0M84.5 466.7h0M86.2 469.5h0M95.4 454.4h0M110.3 442.7h0M99.2 447.3h0M101.3 453.0h0M149.5 433.6h0M156.0 433.0h0M141.2 455.3h0M153.1 439.6h0M150.9 458.2h0M150.3 456.3h0M134.3 466.2h0M107.2 463.3h0M156.5 452.6h0M132.5 453.5h0M136.9 453.1h0M161.0 447.6h0M162.5 443.5h0M120.3 449.5h0M138.1 451.7h0M106.8 456.7h0M125.7 453.9h0M49.3 474.0h0M112.0 449.3h0M96.1 466.7h0M160.1 440.3h0M115.2 459.6h0M173.8 430.7h0M174.7 428.4h0M87.9 462.8h0M71.3 477.1h0M84.8 447.9h0M150.1 428.4h0M94.2 452.1h0M76.3 476.2h0M99.8 467.8h0M182.6 451.5h0M108.6 465.9h0M124.0 446.2h0M114.8 458.6h0M136.2 457.5h0M127.2 468.5h0M130.8 429.5h0M102.0 461.8h0M83.7 458.0h0M93.0 452.1h0M96.5 467.2h0M116.2 456.9h0M123.5 446.0h0M140.4 441.5h0M101.6 457.3h0M168.6 428.7h0M134.3 441.6h0M80.0 458.5h0M132.0 429.6h0M141.2 448.9h0M140.0 439.3h0M86.0 453.1h0M145.8 442.2h0M152.7 453.4h0M163.4 438.6h0M143.4 449.5h0M155.7 437.3h0M146.5 433.4h0M96.2 460.7h0M137.9 429.1h0M130.6 459.0h0M132.8 455.9h0M130.8 457.1h0M88.1 438.7h0M160.6 432.5h0M93.1 459.8h0M66.2 473.6h0M125.2 448.7h0M88.9 459.4h0M145.3 441.6h0M126.2 435.6h0M105.2 463.0h0M123.0 439.1h0M103.8 451.6h0M118.3 434.2h0M102.2 478.5h0M142.9 450.9h0M120.5 468.2h0M142.2 437.2h0M166.8 427.1h0M80.6 456.0h0M93.5 460.8h0M74.8 481.3h0M108.0 450.3h0M139.1 440.3h0M82.6 451.9h0M108.3 467.9h0M64.6 452.5h0M125.9 434.0h0M174.8 424.0h0M142.9 429.6h0M113.0 445.7h0M99.0 455.0h0M127.2 442.3h0M45.3 479.7h0M88.7 466.1h0M174.8 431.8h0M155.6 455.2h0M50.2 483.0h0M145.2 454.3h0M32.1 492.1h0M138.5 442.5h0M165.2 431.1h0M166.2 424.9h0M119.8 476.2h0M69.8 462.6h0M147.7 440.9h0M128.4 455.5h0M124.9 447.5h0M128.6 452.2h0M102.1 415.6h0M55.5 447.7h0M123.4 439.4h0M107.2 474.4h0M153.7 425.4h0M153.4 433.8h0M123.2 443.2h0M167.5 436.6h0M191.2 420.1h0M84.9 472.6h0M63.4 446.3h0M131.8 427.3h0M166.3 450.3h0M68.2 465.2h0M83.1 477.9h0M82.8 462.0h0M138.0 435.8h0M99.5 467.3h0M122.7 438.4h0M156.2 433.9h0M182.6 418.3h0M111.2 456.4h0M83.1 496.7h0M107.0 456.2h0M151.9 433.7h0M79.3 465.5h0M135.9 479.1h0M55.4 479.3h0M61.9 438.6h0M154.7 427.3h0M135.9 457.1h0M58.0 442.1h0M172.6 465.3h0M191.5 414.0h0M127.4 458.7h0M124.0 455.8h0M134.8 455.9h0M82.2 452.6h0M108.8 434.9h0M145.8 457.2h0M110.0 478.9h0M175.2 436.1h0M129.3 459.0h0M111.2 471.6h0M101.6 483.3h0M127.6 446.3h0M117.8 453.1h0M151.9 451.3h0M145.7 435.9h0M138.5 437.9h0M187.3 433.4h0M117.7 443.9h0M156.2 456.4h0M112.8 477.3h0M148.5 424.8h0M120.9 467.6h0M132.9 426.3h0M105.9 450.2h0M150.9 438.6h0M87.8 461.6h0M67.2 475.8h0M128.3 436.9h0M154.9 422.9h0M100.6 468.6h0M137.2 468.2h0M90.6 462.0h0M155.7 436.9h0M130.8 425.4h0M109.2 437.2h0M130.3 455.3h0M92.4 465.6h0M114.3 428.7h0M155.2 427.7h0M75.1 466.9h0M86.0 461.5h0M164.6 417.4h0M106.6 462.9h0M167.4 436.1h0M146.7 436.1h0M140.3 481.3h0M146.5 430.8h0M94.6 457.1h0M124.8 439.8h0M65.1 486.8h0M85.2 468.6h0M123.8 439.6h0M180.6 423.5h0M123.7 446.1h0M119.7 455.3h0M161.4 433.5h0M139.8 442.6h0M142.0 422.7h0M116.5 454.7h0M186.7 430.4h0M59.6 487.4h0M61.2 444.5h0M137.5 453.5h0M128.1 471.6h0M130.5 462.2h0M174.7 443.9h0M123.2 427.2h0M150.0 429.1h0M80.8 457.5h0M126.4 486.1h0M148.7 464.9h0M141.2 441.4h0M77.9 459.0h0M110.4 451.0h0M186.5 430.5h0M131.8 440.7h0M152.5 428.6h0M112.3 451.2h0M142.4 444.0h0M97.5 455.5h0M164.2 446.9h0M126.6 444.0h0M132.1 453.4h0M169.7 427.7h0M75.2 459.8h0M165.4 451.0h0M191.2 439.0h0M86.9 436.6h0M38.0 475.2h0M174.5 423.1h0M160.2 430.3h0M116.4 449.1h0M146.1 446.2h0M81.9 456.1h0M152.9 437.9h0M148.7 449.3h0M74.9 453.7h0M120.5 449.6h0M135.0 432.3h0M145.8 435.6h0M125.4 474.8h0M104.0 448.9h0M114.9 460.1h0M101.0 456.6h0M83.2 430.9h0M135.2 452.7h0M93.2 449.7h0M154.8 437.6h0M168.4 436.3h0M85.9 458.8h0M129.7 458.5h0M99.0 431.1h0M83.8 468.7h0M143.8 460.9h0M104.0 452.0h0M153.8 427.3h0M99.7 464.8h0M118.8 453.0h0M69.8 474.1h0M195.6 416.5h0M125.8 437.5h0M140.1 461.5h0M193.8 423.1h0M108.7 459.6h0M103.5 463.9h0M94.8 452.9h0M45.9 460.3h0M144.3 430.1h0M148.6 424.8h0M166.6 461.0h0M116.5 458.8h0M97.6 456.1h0M106.2 426.7h0M129.1 458.2h0M130.3 440.7h0M154.0 437.1h0M110.0 437.1h0M123.7 425.6h0M123.8 453.9h0M90.8 440.6h0M135.9 446.2h0M112.8 444.0h0M150.9 431.6h0M94.4 461.8h0M117.2 457.0h0M105.2 416.9h0M126.6 445.5h0M154.8 431.0h0M145.8 432.5h0M150.6 439.8h0M154.1 430.0h0M74.7 423.0h0M171.5 437.2h0M94.1 456.1h0M100.7 440.3h0M125.6 460.6h0M90.1 468.9h0M153.2 425.8h0M177.7 437.3h0M123.8 445.2h0M116.1 458.6h0M103.9 447.2h0M163.8 440.3h0M190.9 415.7h0M83.9 468.5h0M150.0 448.2h0M110.5 451.5h0M78.3 462.4h0M87.6 448.0h0M111.6 457.8h0M106.8 469.1h0M68.6 455.7h0M36.1 465.7h0M134.1 446.9h0M168.7 438.5h0M133.0 448.0h0M154.2 443.7h0M146.9 446.8h0M114.0 474.0h0M159.1 430.5h0M90.4 467.1h0M123.5 446.9h0M172.8 427.4h0M99.0 462.7h0M96.2 455.4h0M106.3 442.1h0M74.0 456.6h0M106.1 445.9h0M119.3 451.4h0M103.9 470.6h0M158.7 438.3h0M187.7 417.6h0M143.0 441.9h0M113.1 450.2h0M115.3 451.6h0M133.6 451.3h0M129.0 442.5h0M135.1 441.9h0M110.4 456.7h0M64.4 482.8h0M112.6 457.4h0M130.2 440.4h0M116.5 465.6h0M72.2 465.4h0M126.4 447.3h0M160.3 461.6h0M158.4 441.4h0M115.9 438.1h0M134.5 437.9h0M96.6 450.7h0M88.6 482.5h0M130.0 450.7h0M101.8 466.3h0M110.7 449.5h0M78.5 481.6h0M125.8 446.3h0M80.2 450.1h0M105.3 453.6h0M147.3 436.5h0M116.6 458.0h0M69.1 458.8h0M122.0 448.3h0M57.4 461.2h0M161.8 432.3h0M125.4 446.7h0M72.5 468.3h0M91.0 456.3h0M140.9 449.9h0M174.7 424.9h0M123.4 436.7h0M164.8 430.1h0M96.3 445.7h0M164.1 444.5h0M142.2 450.4h0M168.8 447.1h0M29.5 479.8h0M135.1 438.9h0M52.7 484.1h0M95.4 456.9h0M91.3 463.7h0M166.1 444.6h0M163.8 442.5h0M85.1 478.3h0M136.0 452.2h0M145.8 440.2h0M164.2 436.6h0M60.2 463.5h0M191.6 449.8h0M153.2 447.1h0M162.5 435.5h0M165.0 426.9h0M120.9 456.3h0M185.6 432.5h0M143.9 428.6h0M101.9 464.3h0M161.9 435.0h0M109.7 465.3h0M131.4 445.1h0M146.2 445.6h0M132.2 441.9h0M129.6 447.5h0M110.0 471.4h0M129.5 426.9h0M106.1 464.9h0M124.7 434.4h0M107.7 443.6h0M121.6 436.4h0M168.5 453.2h0M70.9 459.5h0M156.5 450.6h0M122.5 443.2h0M133.3 454.7h0M175.5 450.2h0M109.3 457.5h0M113.8 452.6h0M109.6 449.6h0M72.2 485.5h0M145.8 446.6h0M142.1 442.7h0M115.9 432.0h0M117.1 427.4h0M156.5 435.4h0M162.8 445.7h0M137.1 435.1h0M91.7 462.0h0M128.8 449.7h0M140.8 425.5h0M180.4 425.9h0M69.1 448.7h0M73.3 460.0h0M75.4 467.2h0M74.2 495.6h0M110.2 449.8h0M119.1 452.3h0M140.6 443.5h0M146.7 432.8h0M100.0 455.7h0M155.2 449.6h0M151.2 415.3h0M53.9 470.8h0M124.6 445.9h0M48.7 480.0h0M153.4 438.1h0M85.1 462.2h0M37.0 471.5h0M165.0 438.5h0M114.3 439.9h0M111.4 451.3h0M84.7 478.3h0M126.0 451.1h0M157.8 454.7h0M81.6 444.6h0M162.7 415.5h0M158.5 440.8h0M82.7 461.0h0M94.0 462.6h0M118.8 433.8h0M154.1 449.1h0M164.3 432.5h0M86.2 441.5h0M57.0 463.2h0M128.5 413.0h0M119.3 449.5h0M160.9 424.8h0M153.0 442.5h0M105.8 442.0h0M147.5 431.4h0M151.7 446.9h0M153.9 490.4h0M148.2 461.4h0M170.3 442.2h0M104.4 451.7h0M126.9 449.5h0M194.7 427.7h0M189.1 423.3h0M134.2 436.1h0M241.1 395.4h0M241.1 412.2h0M241.1 415.8h0M241.1 418.3h0M241.1 421.1h0M241.1 424.0h0M241.1 426.6h0M241.1 429.2h0M241.1 432.1h0M241.1 435.6h0M241.1 444.7h0M241.1 452.1h0M241.1 460.5h0M241.1 463.0h0M241.1 465.6h0M241.1 469.3h0M78.5 395.4h0M122.6 395.4h0M138.5 395.4h0M144.0 395.4h0M147.5 395.4h0M151.3 395.4h0M153.0 395.4h0M167.5 395.4h0M172.0 395.4h0"/>
<text class="k" x="14.0" y="522.6" text-anchor="middle">0</text>
<text class="k" x="83.2" y="522.6" text-anchor="middle">2</text>
<text class="k" x="152.3" y="522.6" text-anchor="middle">4</text>
<text class="k" x="222.5" y="522.6" text-anchor="middle">6</text>
<text class="k" x="291.9" y="522.6" text-anchor="middle">8</text>
<text class="k" x="10.1" y="508.2" text-anchor="end">0</text>
<text class="k" x="10.1" y="427.3" text-anchor="end">5</text>
<text class="x" x="14.9" y="393.5">×</text><text class="k" x="28.9" y="391.4" letter-spacing="-1.4">10</text><text class="k s" x="47.0" y="383.0">4</text>
<text class="x" x="251.9" y="552.0">×</text><text class="k" x="265.9" y="549.9" letter-spacing="-1.4">10</text><text class="k s" x="284.0" y="541.5">4</text>
<text class="t" x="153.0" y="387.6" text-anchor="middle">Diagonal</text>
<path class="av" d="M380.0 395.4V501.3"/>
<path class="ah" d="M379.0 500.6H656.0"/>
<path class="tk" d="M449.0 500.6v-2.6M518.0 500.6v-2.6M587.0 500.6v-2.6M656.0 500.6v-2.6M381.0 420.3h2.2"/>
<path class="d" d="M458.3 435.9h0M480.3 400.1h0M564.4 450.4h0M535.4 498.3h0M447.9 452.1h0M479.5 493.7h0M507.4 458.6h0M569.2 468.8h0M428.0 462.3h0M586.8 435.6h0M451.3 484.9h0M556.0 404.5h0M498.6 475.5h0M458.9 478.6h0M506.0 452.8h0M489.9 467.5h0M414.5 406.1h0M481.2 413.0h0M589.8 428.5h0M528.8 402.8h0M407.1 424.3h0M538.6 474.4h0M538.1 411.6h0M491.9 480.7h0M386.6 405.3h0M505.3 406.1h0M443.8 409.0h0M502.7 437.7h0M466.0 497.8h0M471.0 430.7h0M592.0 446.2h0M593.4 464.0h0M419.0 425.3h0M435.8 470.3h0M602.6 493.8h0M505.7 477.3h0M535.5 496.0h0M513.0 446.9h0M407.6 452.8h0M505.0 473.4h0M389.8 409.1h0M380.2 443.4h0M384.5 401.1h0M493.8 452.0h0M400.2 482.9h0M387.9 470.8h0M401.9 459.6h0M498.5 446.3h0M523.0 488.1h0M428.7 450.1h0M586.9 423.3h0M421.1 445.0h0M477.9 445.9h0M524.7 454.7h0M521.1 484.2h0M426.4 463.3h0M424.5 495.3h0M438.0 462.8h0M508.1 445.1h0M569.6 495.4h0M419.2 426.9h0M490.3 454.4h0M429.9 477.3h0M556.3 412.7h0M469.4 410.5h0M414.9 477.9h0M532.1 476.9h0M502.0 442.9h0M530.2 482.8h0M429.3 466.8h0M439.9 421.2h0M452.7 498.2h0M570.8 441.8h0M445.6 472.7h0M535.8 404.6h0M522.1 460.1h0M531.7 406.8h0M480.1 476.3h0M550.7 440.1h0M488.9 476.0h0M438.6 428.8h0M492.8 408.7h0M535.2 398.5h0M406.9 457.5h0M545.1 499.8h0M495.2 403.1h0M584.4 408.3h0M498.5 430.9h0M579.4 439.7h0M420.3 493.7h0M410.3 491.7h0M491.5 400.5h0M380.8 492.2h0M492.1 408.4h0M403.8 406.4h0M568.3 475.8h0M552.2 497.9h0M482.3 449.1h0M409.0 400.3h0M563.6 488.0h0M605.5 430.9h0M496.2 428.0h0M456.0 499.0h0M472.8 480.3h0M558.9 453.5h0M425.2 468.7h0M418.7 463.1h0M426.8 488.5h0M572.8 432.8h0M546.2 471.7h0M594.8 438.0h0M589.4 420.7h0M505.7 430.8h0M437.3 415.7h0M524.6 485.0h0M573.1 405.4h0M569.1 480.7h0M386.2 415.4h0M603.1 408.2h0M481.0 421.9h0M432.9 434.6h0M443.7 449.8h0M592.0 443.9h0M448.5 459.1h0M471.9 399.1h0M409.6 406.5h0M485.5 498.0h0M526.0 466.2h0M486.2 448.5h0M453.0 460.5h0M514.8 432.5h0M467.2 413.3h0M460.7 470.5h0M453.7 477.1h0M482.6 447.9h0M482.8 412.2h0M598.4 473.1h0M423.2 446.2h0M571.9 441.7h0M555.5 481.0h0M561.6 451.5h0M590.7 490.9h0M426.8 450.3h0M602.1 423.9h0M460.2 429.7h0M606.0 453.1h0M445.5 406.3h0M441.7 493.7h0M488.0 402.9h0M513.2 419.1h0M398.1 396.1h0M430.9 440.9h0M529.3 439.7h0M527.9 434.4h0M509.5 444.2h0M505.5 482.9h0M546.3 480.5h0M584.3 480.8h0M436.2 433.6h0M500.6 481.8h0M482.2 495.0h0M582.8 476.5h0M469.3 480.6h0M566.5 491.9h0M585.1 452.8h0M532.2 416.0h0M582.5 427.1h0M557.8 399.0h0M553.1 497.5h0M415.9 470.7h0M403.7 398.2h0M431.8 409.3h0M482.2 429.8h0M471.3 487.9h0M412.3 466.8h0M507.9 442.4h0M507.0 481.1h0M406.3 484.9h0M423.4 404.0h0M562.9 417.3h0M427.7 427.7h0M530.3 429.3h0M558.9 428.6h0M427.4 430.0h0M394.4 470.3h0M576.2 500.0h0M569.9 445.9h0M415.8 428.3h0M600.4 440.2h0M565.0 481.2h0M545.6 425.9h0M449.1 470.6h0M455.7 410.3h0M452.9 400.2h0M431.5 484.9h0M507.5 476.1h0M561.5 447.5h0M488.0 411.0h0M455.6 424.6h0M551.9 410.8h0M490.3 441.7h0M445.5 480.4h0M587.5 399.6h0M589.0 443.2h0M494.2 445.9h0M474.7 488.7h0M425.1 408.0h0M525.0 420.3h0M505.3 478.8h0M387.6 432.0h0M596.2 479.3h0M400.4 418.1h0M446.1 437.8h0M497.9 401.9h0M395.3 449.8h0M591.6 443.3h0M544.5 494.3h0M528.7 477.1h0M534.0 493.2h0M590.8 479.5h0M583.4 415.1h0M397.6 450.7h0M422.7 399.4h0M409.4 435.9h0M445.7 401.0h0M536.6 459.1h0M461.4 466.7h0M512.3 425.0h0M518.1 425.1h0M488.3 462.9h0M478.0 402.4h0M563.6 444.5h0M585.5 407.4h0M549.2 415.4h0M496.1 439.5h0M410.8 478.3h0M407.6 421.3h0M519.2 493.1h0M521.8 476.6h0M405.4 463.7h0M585.8 499.0h0M524.3 435.8h0M407.3 419.4h0M580.7 484.2h0M581.4 415.8h0M525.8 453.5h0M561.6 413.5h0M506.0 475.1h0M487.4 476.3h0M568.6 498.1h0M450.5 396.7h0M445.9 488.5h0M584.9 431.1h0M547.8 498.2h0M400.2 426.7h0M405.7 483.3h0M437.0 400.0h0M576.9 448.5h0M538.9 422.3h0M545.6 411.4h0M489.3 407.8h0M468.7 467.3h0M480.6 466.4h0M496.4 482.5h0M418.6 489.1h0M392.6 458.5h0M604.0 403.6h0M417.8 433.4h0M458.6 454.9h0M552.1 434.2h0M449.0 495.0h0M516.2 401.2h0M553.6 473.1h0M394.1 475.6h0M422.8 407.3h0M534.0 498.2h0M542.6 409.6h0M528.5 492.4h0M560.8 461.8h0M463.7 397.9h0M501.9 435.7h0M448.9 473.3h0M487.6 420.0h0M520.1 430.1h0M566.2 421.9h0M483.7 478.9h0M589.0 441.7h0M583.0 461.6h0M409.2 432.4h0M491.0 435.5h0M505.4 463.8h0M554.8 487.0h0M424.9 459.2h0M580.2 432.1h0M520.0 470.8h0M470.3 432.8h0M408.8 408.9h0M581.3 434.4h0M497.6 397.4h0M570.1 488.6h0M426.4 409.8h0M521.8 444.7h0M558.3 490.2h0M457.7 496.7h0M382.9 412.3h0M406.8 438.5h0M429.2 399.2h0M489.7 451.9h0M454.7 448.7h0M538.3 466.2h0M497.7 439.7h0M561.3 497.8h0M597.4 407.1h0M585.9 459.4h0M409.0 437.7h0M402.7 433.3h0M567.1 415.4h0M417.5 442.5h0M599.3 464.8h0M581.3 466.9h0M506.7 422.2h0M474.3 474.9h0M599.8 448.5h0M428.3 442.1h0M526.2 444.9h0M406.4 419.3h0M386.3 415.8h0M475.2 479.5h0M412.0 500.2h0M476.8 494.3h0M520.3 450.0h0M520.5 477.0h0M549.2 488.7h0M467.8 457.6h0M541.5 440.7h0M504.6 440.0h0M488.3 442.7h0M411.6 400.6h0M454.0 424.4h0M491.4 439.4h0M505.8 468.0h0M425.6 441.0h0M390.6 443.0h0M552.2 464.2h0M574.5 424.7h0M438.0 453.8h0M420.3 458.4h0M528.0 460.9h0M510.6 406.3h0M453.5 423.2h0M531.9 456.2h0M394.0 428.2h0M551.7 455.1h0M474.1 441.3h0M506.6 414.7h0M571.6 404.9h0M603.5 486.5h0M443.7 450.8h0M435.3 408.3h0M429.5 460.1h0M480.0 454.2h0M593.2 470.8h0M479.7 396.0h0M480.7 442.9h0M423.5 396.5h0M458.1 399.4h0M532.6 478.4h0M402.6 436.1h0M485.2 428.9h0M518.8 468.0h0M387.4 440.9h0M525.5 427.3h0M567.3 409.9h0M472.8 482.5h0M575.9 462.7h0M599.1 397.4h0M523.8 448.4h0M449.6 416.2h0M488.9 441.0h0M489.2 416.5h0M596.3 437.5h0M380.1 396.6h0M532.5 490.7h0M448.5 429.9h0M441.2 484.0h0M454.9 481.8h0M593.9 447.1h0M389.9 466.8h0M464.4 412.7h0M576.5 451.4h0M497.0 451.8h0M507.5 404.0h0M555.8 448.2h0M463.7 484.6h0M507.4 423.9h0M414.6 457.4h0M457.2 427.2h0M529.3 465.6h0M485.2 427.1h0M479.9 445.0h0M416.3 413.5h0M466.2 458.9h0M504.0 473.5h0M538.8 456.5h0M438.0 478.7h0M480.7 400.6h0M485.7 482.6h0M462.6 458.9h0M434.4 405.3h0M517.6 441.5h0M570.0 491.7h0M514.7 452.0h0M486.5 467.0h0M396.9 455.7h0M574.2 497.9h0M590.5 498.8h0M595.1 400.7h0M503.4 473.6h0M457.4 403.4h0M406.3 398.0h0M551.6 458.1h0M503.3 421.5h0M413.0 460.5h0M419.2 412.3h0M603.5 427.7h0M561.1 469.2h0M597.9 496.0h0M444.5 418.4h0M546.5 484.8h0M573.9 472.8h0M534.0 407.5h0M391.4 395.6h0M437.6 467.2h0M566.2 417.9h0M428.9 404.0h0M583.2 398.7h0M506.9 426.6h0M562.9 499.3h0M417.7 406.3h0M388.0 488.5h0M455.0 494.5h0M462.8 434.8h0M515.6 461.4h0M383.4 468.0h0M594.0 469.3h0M559.2 486.7h0M516.0 462.1h0M524.6 404.3h0M408.4 457.5h0M562.9 498.1h0M550.2 480.2h0M478.3 468.7h0M383.4 421.7h0M481.4 437.8h0M589.6 402.6h0M504.6 407.1h0M381.2 396.3h0M585.6 412.9h0M385.4 458.4h0M519.8 442.1h0M448.4 402.7h0M592.4 465.9h0M530.5 498.0h0M569.8 451.2h0M396.0 425.9h0M464.0 443.6h0M445.9 434.3h0M385.2 460.8h0M553.3 412.0h0M443.2 483.1h0M388.0 463.7h0M395.4 426.2h0M518.2 396.4h0M384.1 399.3h0M426.0 445.3h0M564.6 484.6h0M560.8 412.7h0M535.9 404.9h0M494.6 460.0h0M461.9 461.0h0M557.0 417.0h0M386.2 471.9h0M588.0 424.5h0M597.2 441.2h0M429.8 446.1h0M543.8 466.0h0M583.4 435.1h0M603.0 471.1h0M380.8 420.1h0M502.3 430.9h0M592.5 426.0h0M455.1 447.9h0M489.0 490.3h0M540.0 497.8h0M446.1 454.8h0M596.2 400.1h0M423.6 488.5h0M512.7 480.4h0M519.2 460.3h0M549.4 404.5h0M546.6 468.2h0M500.9 399.8h0M456.0 486.7h0M555.8 415.2h0M570.3 402.5h0M547.2 424.6h0M533.9 420.6h0M537.1 425.1h0M549.2 495.3h0M419.6 442.2h0M434.8 455.4h0M525.5 414.6h0M412.2 402.6h0M603.6 481.7h0M540.0 464.0h0M586.2 402.3h0M491.6 457.6h0M432.3 448.4h0M491.5 397.6h0M563.9 452.9h0M422.5 426.8h0M556.7 406.3h0M441.7 414.4h0M578.7 410.2h0M427.0 398.7h0M451.5 417.1h0M401.6 406.6h0M387.3 452.5h0M461.5 483.3h0M480.9 482.3h0M393.7 498.9h0M399.1 403.3h0M577.7 482.6h0M515.4 460.7h0M469.8 417.8h0M396.9 413.9h0M502.0 468.9h0M512.0 419.3h0M444.9 430.5h0M567.8 419.0h0M487.9 421.7h0M432.9 398.4h0M570.7 483.6h0M550.1 483.7h0M508.4 408.8h0M566.5 446.7h0M432.7 424.1h0M485.2 486.0h0M461.3 415.5h0M455.7 413.5h0M508.3 487.1h0M386.7 417.3h0M419.7 462.5h0M529.6 428.1h0M416.9 491.9h0M571.1 496.1h0M431.7 412.4h0M499.4 407.4h0M445.8 479.2h0M485.2 433.3h0M407.4 452.8h0M411.3 422.4h0M485.1 410.4h0M521.0 489.0h0M517.1 481.0h0M547.5 439.7h0M552.5 450.1h0M511.0 457.2h0M465.8 463.3h0M602.3 456.4h0M508.0 423.3h0M447.3 475.8h0M512.1 466.6h0M538.3 437.6h0M430.2 433.1h0M590.3 457.9h0M580.4 404.9h0M510.5 419.5h0M532.2 439.9h0M444.1 486.9h0M508.7 479.4h0M453.6 458.2h0M461.5 433.7h0M461.3 440.1h0M433.8 492.7h0M425.7 419.7h0M495.5 445.9h0M408.6 423.0h0M413.7 484.9h0M562.2 407.1h0M512.0 422.4h0M554.3 483.3h0M439.0 398.5h0M567.0 435.0h0M537.7 459.2h0M571.5 401.1h0M587.3 423.6h0M550.0 448.0h0M426.9 400.7h0M385.9 434.7h0M383.2 468.1h0M413.7 456.7h0M432.8 481.7h0M557.9 454.2h0M397.6 424.3h0M519.4 453.6h0M579.6 413.1h0M414.7 409.4h0M529.6 495.4h0M431.5 468.7h0M502.9 435.7h0M384.3 464.6h0M405.5 443.5h0M534.2 439.0h0M443.8 484.6h0M511.4 396.0h0M605.0 475.1h0M463.6 431.5h0M506.2 455.1h0M427.2 474.5h0M486.6 443.4h0M511.2 445.7h0M574.4 474.0h0M540.9 449.4h0M440.0 431.0h0M381.8 469.5h0M586.7 457.5h0M521.2 420.9h0M411.7 418.4h0M462.5 499.8h0M438.1 434.6h0M455.6 424.1h0M413.5 457.5h0M443.9 419.5h0M403.5 489.4h0M382.0 476.2h0M579.6 447.1h0M389.6 472.7h0M419.7 480.1h0M572.6 405.6h0M433.9 423.5h0M562.2 472.6h0M591.3 493.4h0M479.9 495.7h0M550.2 466.3h0M518.1 490.2h0M581.1 446.3h0M518.7 443.0h0M405.1 400.5h0M473.0 467.2h0M459.0 447.2h0M486.4 467.0h0M481.6 477.8h0M472.4 447.4h0M589.5 484.0h0M573.8 422.9h0M488.4 455.0h0M590.0 397.6h0M514.5 464.2h0M552.9 419.4h0M384.4 459.6h0M555.2 467.1h0M494.5 408.3h0M544.8 407.9h0M461.0 449.0h0M442.0 491.6h0M477.8 500.5h0M447.4 401.9h0M401.8 407.3h0M543.8 395.6h0M444.9 397.4h0M534.5 429.6h0M381.7 498.7h0M425.5 476.2h0M537.5 430.3h0M421.9 448.1h0M462.9 399.9h0M493.1 429.0h0M585.0 427.9h0M388.7 468.5h0M525.3 471.0h0M477.0 408.7h0M516.1 403.5h0M388.3 487.1h0M498.5 486.4h0M449.3 491.5h0M461.2 405.6h0M443.6 425.0h0M387.9 484.1h0M515.3 429.2h0M501.4 438.8h0M486.3 408.6h0M528.3 481.8h0M480.1 406.1h0M480.2 443.0h0M577.5 435.8h0M489.9 486.7h0M423.2 431.5h0M533.3 442.0h0M584.1 403.0h0M408.1 451.8h0M531.7 476.1h0M384.5 455.9h0M537.0 455.7h0M421.0 413.2h0M428.4 442.4h0M405.0 457.5h0M496.0 496.0h0M511.8 405.3h0M531.9 413.7h0M498.5 434.2h0M402.3 460.7h0M541.9 457.2h0M527.3 439.0h0M537.0 485.2h0M593.1 431.3h0M525.3 435.6h0M462.0 415.8h0M538.5 415.5h0M534.7 454.1h0M538.5 495.3h0M418.6 486.7h0M588.4 463.1h0M589.2 476.3h0M466.1 409.6h0M501.3 435.8h0M502.3 482.5h0M429.3 492.6h0M517.6 416.5h0M470.7 419.6h0M530.7 415.6h0M525.2 455.2h0M489.6 483.3h0M428.7 460.8h0M414.1 494.6h0M521.8 484.8h0M484.4 454.7h0M518.9 489.2h0M506.4 421.1h0M456.6 481.9h0M582.5 490.7h0M482.0 440.1h0M471.3 480.9h0M446.7 452.3h0M550.3 397.6h0M572.0 445.6h0M599.1 422.9h0M501.6 499.9h0M408.4 451.0h0M382.6 477.5h0M594.4 467.8h0M471.9 402.8h0M382.3 431.7h0M449.7 467.8h0M520.3 497.7h0M399.8 464.3h0M538.6 483.4h0M467.8 434.1h0M561.4 417.5h0M509.9 469.4h0M431.0 425.6h0M386.6 458.6h0M546.4 458.8h0M437.9 397.7h0M553.3 440.4h0M564.4 434.5h0M412.1 475.6h0M530.8 499.0h0M450.7 431.9h0M514.9 477.6h0M484.2 464.5h0M448.4 411.3h0M525.8 497.9h0M564.5 414.7h0M570.5 434.9h0M401.9 468.1h0M523.4 434.3h0M526.3 471.7h0M507.0 424.2h0M593.7 413.7h0M488.9 452.3h0M462.5 427.4h0M419.3 481.5h0M569.7 469.6h0M409.8 426.4h0M502.4 406.1h0M400.4 473.1h0M484.1 485.9h0M403.6 449.6h0M439.5 470.4h0M462.0 419.2h0M394.5 437.0h0M435.4 420.0h0M515.7 419.6h0M540.3 480.9h0M532.0 442.8h0M439.6 457.2h0M604.4 447.7h0M472.4 414.2h0M555.3 496.6h0M429.5 397.9h0M600.5 461.1h0M462.5 402.7h0M380.0 471.2h0M520.1 480.0h0M567.1 397.3h0M590.9 417.9h0M405.4 417.7h0M566.1 446.6h0M476.2 398.2h0M394.9 421.6h0M499.8 465.2h0M535.8 396.9h0M444.9 404.4h0M513.1 460.0h0M447.2 491.3h0M447.3 428.9h0M579.6 399.7h0M482.6 447.5h0M436.4 466.5h0M578.2 428.8h0M457.2 413.1h0M555.9 496.0h0M520.6 409.4h0M531.6 444.4h0M473.1 404.4h0M572.0 447.9h0M392.0 496.8h0M585.1 465.1h0M420.0 412.0h0M550.8 450.0h0M467.4 401.7h0M417.2 476.4h0M393.5 429.0h0M511.9 485.0h0M602.3 422.3h0M575.5 477.5h0M483.8 448.6h0M448.1 396.9h0M397.1 478.2h0M410.8 487.3h0M550.8 422.8h0M410.5 440.1h0M573.7 452.3h0M453.8 427.2h0M524.6 428.0h0M433.8 460.7h0M540.8 420.0h0M399.2 477.0h0M402.9 460.9h0M412.9 462.1h0M470.2 479.1h0M485.7 497.9h0M446.7 434.1h0M583.0 485.8h0M495.1 433.9h0M586.9 479.5h0M604.1 456.3h0M500.4 465.9h0M474.4 408.2h0M444.0 472.6h0M401.5 417.2h0M476.6 453.7h0M463.0 491.8h0M478.0 410.9h0M486.8 412.0h0M571.9 407.1h0M597.4 415.4h0M460.9 452.5h0M601.9 465.8h0M467.9 485.3h0M520.9 497.6h0M567.5 479.6h0M534.4 414.5h0M588.2 496.6h0M403.4 396.9h0M599.1 461.2h0M447.7 477.3h0M446.5 445.1h0M386.0 399.2h0M525.6 442.0h0M397.8 478.2h0M473.8 401.3h0M403.8 444.6h0M406.5 444.2h0M437.3 408.7h0M599.1 464.4h0M483.3 455.0h0M486.7 491.5h0M543.6 449.2h0M502.6 421.8h0M480.2 484.8h0M442.7 457.4h0M467.6 425.4h0M400.1 400.3h0M542.2 397.9h0M423.9 422.2h0M469.8 467.3h0M501.8 460.9h0M536.3 484.2h0M604.1 446.3h0M526.0 498.8h0M436.2 418.1h0M510.8 397.1h0M423.5 471.2h0M420.9 428.1h0M566.7 464.2h0M488.2 411.0h0M589.0 427.1h0M507.0 434.1h0M411.4 435.0h0M411.9 450.8h0M593.3 415.6h0M440.5 441.2h0M441.1 475.5h0M415.8 473.3h0M503.9 400.5h0M541.4 499.1h0M540.4 397.1h0M540.1 424.3h0M408.3 409.0h0M538.8 482.3h0M482.2 424.8h0M499.2 419.4h0M539.9 463.1h0M475.9 417.7h0M470.9 420.5h0M530.1 397.7h0M489.6 425.9h0M595.4 494.2h0M477.0 415.4h0M570.6 493.3h0M471.4 487.3h0M381.2 407.7h0M556.7 423.5h0M406.0 426.9h0M394.4 454.9h0M427.3 500.3h0M494.3 492.9h0M459.1 450.7h0M442.2 448.9h0M444.2 493.9h0M528.7 482.0h0M488.9 466.4h0M382.3 438.9h0M497.0 455.0h0M492.6 412.5h0M468.6 417.5h0M534.1 432.0h0M429.0 419.0h0M601.3 486.2h0M521.5 433.1h0M396.5 420.1h0M479.6 491.3h0M446.6 443.8h0M532.9 398.6h0M425.7 458.8h0M544.0 456.6h0M529.1 443.0h0M486.7 409.7h0M448.2 479.4h0M506.9 452.9h0M438.0 493.1h0M406.3 427.8h0M415.8 400.2h0M533.8 402.8h0M392.4 482.6h0M588.2 500.6h0M420.0 475.4h0M484.7 480.9h0M600.1 451.3h0M461.1 464.7h0M513.5 428.2h0M565.5 487.7h0M593.1 427.0h0M530.4 425.3h0M449.9 478.3h0M523.1 399.1h0M385.8 408.0h0M448.7 452.8h0M439.6 463.0h0M434.9 464.0h0M408.3 483.7h0M489.5 461.0h0M417.2 409.2h0M488.9 424.8h0M401.5 496.6h0M400.7 477.8h0M601.2 433.3h0M480.7 419.5h0M424.1 426.1h0M562.2 490.1h0M604.2 399.9h0M396.6 396.0h0M390.1 402.4h0M453.2 403.5h0M501.5 486.6h0M524.4 437.2h0M529.9 416.4h0M557.4 417.2h0M421.6 456.6h0M469.7 441.3h0M472.8 471.8h0M386.9 496.9h0M479.6 472.8h0M514.6 475.2h0M595.8 481.0h0M446.0 437.3h0M498.8 454.7h0M447.5 419.0h0M543.6 458.4h0M477.2 486.1h0M524.2 398.9h0M456.5 427.4h0M499.0 423.1h0M422.1 469.3h0M538.9 482.3h0M427.3 436.9h0M561.1 491.0h0M590.8 469.8h0M506.5 437.8h0M573.1 463.9h0M522.7 461.7h0M480.0 419.3h0M394.9 461.6h0M533.5 399.7h0M555.7 440.1h0M460.4 475.4h0M403.3 488.1h0M537.9 472.2h0M448.1 436.8h0M398.4 407.4h0M589.5 424.0h0M457.5 410.7h0M583.6 481.3h0M434.8 414.2h0M482.2 410.8h0M510.7 411.4h0M489.8 460.6h0M437.2 408.9h0M555.6 449.7h0M445.2 485.6h0M560.0 467.3h0M382.6 476.4h0M591.8 439.2h0M604.5 406.3h0M400.0 432.8h0M486.2 423.2h0M564.7 421.5h0M505.0 411.6h0M470.5 493.2h0M420.5 468.3h0M443.9 417.1h0M523.9 441.7h0M508.7 414.2h0M541.5 482.6h0M547.4 462.9h0M570.9 470.0h0M588.7 418.4h0M510.1 433.1h0M577.2 417.8h0M448.3 409.1h0M603.6 440.3h0M543.6 461.2h0M502.3 402.1h0M581.5 461.0h0M513.5 452.1h0M587.8 403.9h0M572.2 488.6h0M500.1 404.4h0M594.8 417.6h0M404.8 449.8h0M593.4 436.4h0M396.3 493.5h0M494.6 457.2h0M573.4 475.7h0M417.0 448.1h0M381.0 497.5h0M540.3 413.5h0M460.5 492.3h0M412.3 405.0h0M473.6 450.5h0M587.0 403.5h0M548.0 443.9h0M429.5 453.1h0M413.2 489.7h0M559.9 450.3h0M452.4 486.9h0M583.1 479.7h0M452.6 419.9h0M454.6 424.2h0M572.0 397.2h0M395.1 418.5h0M393.6 473.8h0M409.8 428.5h0M562.0 459.5h0M520.9 473.4h0M582.9 415.1h0M464.9 496.5h0M504.6 484.4h0M594.8 499.6h0M557.0 430.2h0M493.9 406.2h0M428.6 442.9h0M535.1 474.9h0M538.3 448.7h0M538.4 434.6h0M415.2 450.5h0M483.1 496.6h0M569.2 442.2h0M587.6 475.0h0M598.6 470.1h0M476.9 428.3h0M482.7 430.5h0M551.7 433.6h0M507.4 451.4h0M508.7 467.4h0M531.2 439.4h0M415.9 430.0h0M465.3 462.8h0M526.3 415.5h0M519.1 487.9h0M529.2 411.5h0M457.3 419.5h0M407.1 409.0h0M517.5 406.6h0M574.6 470.7h0M456.6 455.4h0M428.4 476.9h0M549.1 463.6h0M412.3 479.4h0M597.6 443.1h0M567.7 430.5h0M584.1 409.7h0M493.0 461.5h0M449.0 418.8h0M512.0 410.4h0M422.2 470.4h0M381.6 460.5h0M463.9 448.1h0M561.5 436.8h0M428.1 435.5h0M441.6 406.4h0M535.8 455.8h0M511.2 419.2h0M461.7 457.2h0M546.6 449.8h0M422.3 428.6h0M581.9 463.8h0M456.3 453.0h0M548.6 496.1h0M529.5 435.9h0M484.1 429.6h0M447.1 477.8h0M491.0 463.2h0M430.4 440.3h0M563.7 412.5h0M570.9 473.5h0M591.0 405.5h0M573.8 398.2h0M591.1 460.6h0M421.7 422.1h0M474.2 445.3h0M445.8 478.0h0M392.4 450.8h0M406.7 428.8h0M462.9 406.9h0M519.2 423.0h0M528.4 467.4h0M524.9 475.3h0M595.3 447.3h0M500.4 408.2h0M511.2 494.5h0M415.3 497.0h0M519.0 412.3h0M448.0 423.8h0M505.6 434.5h0M511.3 458.6h0M474.9 398.4h0M562.0 488.5h0M390.3 447.5h0M457.8 403.8h0M407.7 446.3h0M481.3 446.7h0M573.3 439.6h0M400.1 476.3h0M425.3 458.0h0M515.8 433.0h0M392.1 447.7h0M517.1 410.0h0M410.8 457.3h0M481.4 482.0h0M491.2 497.8h0M461.9 474.0h0M486.1 429.0h0M429.5 462.8h0M444.4 469.7h0M458.3 427.0h0M583.1 464.6h0M469.2 452.7h0M401.7 485.2h0M482.6 496.3h0M381.2 415.0h0M539.5 490.1h0M507.7 444.5h0M575.1 480.2h0M405.5 487.4h0M507.7 424.0h0M381.3 432.8h0M517.6 425.6h0M401.3 475.1h0M558.3 404.2h0M477.4 410.4h0M477.1 445.8h0M590.6 413.9h0M385.9 436.3h0M576.7 494.1h0M572.0 480.7h0M472.3 443.9h0M606.0 482.1h0M530.3 400.8h0M500.6 484.8h0M469.0 453.3h0M479.4 469.5h0M387.7 480.0h0M431.8 482.4h0M506.0 480.2h0M446.1 470.1h0M466.5 453.8h0M520.8 416.6h0M496.4 496.4h0M437.1 455.6h0M434.9 404.9h0M474.2 486.5h0M438.3 489.0h0M476.8 431.8h0M451.6 447.9h0M602.3 423.3h0M438.0 396.2h0M517.4 439.5h0M501.1 409.0h0M555.3 423.4h0M568.1 465.0h0M474.0 396.4h0M419.3 440.1h0M568.3 497.9h0M437.5 450.8h0M483.6 474.0h0M402.4 442.9h0M454.7 485.3h0M427.1 455.1h0M390.4 451.0h0M599.4 475.4h0M540.8 500.5h0M490.9 452.4h0M581.1 480.6h0M458.3 464.2h0M541.6 400.0h0M552.1 430.3h0M502.0 427.5h0M464.6 477.2h0M467.9 435.1h0M428.1 420.4h0M402.3 458.1h0M550.9 399.8h0M389.4 440.5h0M439.6 423.9h0M434.2 428.6h0M426.2 424.4h0M547.3 469.7h0M448.5 462.8h0M574.4 412.2h0M417.6 483.3h0M398.9 418.7h0M543.2 453.5h0M405.2 487.9h0M476.1 432.6h0M467.0 472.6h0M465.0 491.6h0M404.8 464.0h0M605.9 435.8h0M539.2 498.9h0M543.5 443.1h0M542.0 456.3h0M527.2 415.1h0M402.3 420.3h0M443.9 423.4h0M552.0 430.7h0M408.0 447.3h0M490.6 409.1h0M562.2 489.1h0M457.8 404.4h0M503.0 451.1h0M451.3 441.9h0M525.9 495.9h0M598.1 467.7h0M565.7 402.4h0M596.4 485.9h0M582.0 443.5h0M464.4 432.9h0M472.6 406.4h0M513.2 442.6h0M583.1 407.2h0M392.6 443.5h0M530.5 402.8h0M476.2 413.8h0M508.0 432.7h0M519.0 464.4h0M414.0 420.6h0M546.4 415.7h0M463.7 414.5h0M512.0 395.6h0M584.4 485.5h0M496.5 427.6h0M440.7 420.7h0M544.2 496.1h0M495.0 409.4h0M532.4 430.7h0M401.1 439.7h0M469.9 462.5h0M425.9 399.5h0M437.1 432.6h0M473.6 457.1h0M459.4 452.1h0M432.7 443.5h0M400.0 429.1h0M558.5 402.8h0M480.1 412.3h0M589.9 407.0h0M468.1 439.9h0M516.9 472.3h0M501.0 463.0h0M436.3 500.0h0M391.1 469.7h0M599.9 498.9h0M472.2 435.8h0M490.3 481.4h0M592.5 431.8h0M476.6 438.7h0M415.4 421.8h0M496.4 472.3h0M510.1 404.7h0M429.6 455.0h0M412.3 473.3h0M444.9 461.1h0M405.8 398.1h0M446.0 417.5h0M493.2 421.5h0M583.2 500.6h0M427.5 420.1h0M385.6 477.1h0M413.0 482.8h0M578.0 443.0h0M424.0 400.0h0M479.8 448.2h0M540.8 454.1h0M425.5 492.0h0M501.4 461.8h0M414.8 395.4h0M420.7 454.3h0M467.8 447.6h0M572.2 402.2h0M571.3 472.1h0M548.3 416.3h0M460.3 451.9h0M386.0 468.0h0M384.5 412.7h0M563.6 491.2h0M407.1 446.7h0M566.9 417.8h0M569.6 437.9h0M597.2 437.2h0M585.5 485.2h0M491.8 490.0h0M539.3 472.5h0M572.0 442.4h0M600.6 420.3h0M448.8 415.4h0M453.9 415.4h0M446.8 486.4h0M456.7 413.5h0M569.0 442.2h0M401.5 400.5h0M568.0 500.0h0M598.8 416.0h0M498.0 448.7h0M549.8 498.4h0M518.6 458.9h0M584.2 413.4h0M603.7 416.4h0M408.7 433.3h0M462.3 493.9h0M446.6 410.6h0M453.1 471.1h0M411.1 492.1h0M600.7 405.9h0M540.2 472.6h0M566.1 462.1h0M534.0 461.2h0M465.1 462.2h0M434.3 486.3h0M440.6 469.8h0M532.3 493.7h0M478.8 465.5h0M574.8 478.0h0M528.0 422.2h0M534.5 456.4h0M583.1 429.4h0M600.0 413.4h0M461.1 423.2h0M451.1 458.5h0M575.8 438.4h0M537.6 471.6h0M521.4 437.7h0M555.7 486.5h0M430.8 433.4h0M383.0 486.2h0M453.6 431.9h0M563.8 467.7h0M435.9 419.0h0M513.4 411.6h0M599.2 464.2h0M391.7 445.6h0M492.9 439.0h0M448.4 494.9h0M488.6 433.8h0M410.4 457.9h0M481.0 431.3h0M386.4 395.9h0M383.2 496.0h0M403.3 487.1h0M595.1 396.3h0M529.6 445.1h0M578.0 475.7h0M543.5 412.2h0M423.9 482.5h0M437.4 453.3h0M571.3 434.9h0M521.7 466.4h0M506.7 469.5h0M578.5 409.7h0M562.2 429.4h0M463.4 492.1h0M540.7 483.0h0M392.2 461.9h0M393.6 401.7h0M381.8 406.7h0M598.1 403.2h0M383.4 469.4h0M447.5 474.2h0M387.7 457.8h0M388.7 422.2h0M599.6 478.5h0M511.0 487.1h0M396.0 478.1h0M482.5 493.6h0M431.9 487.5h0M589.8 479.6h0M477.3 417.8h0M534.4 441.3h0M580.5 408.1h0M390.4 487.0h0M523.1 458.5h0M433.7 404.8h0M532.5 445.8h0M481.5 399.0h0M557.2 499.0h0M501.6 419.6h0M447.2 468.1h0M501.4 427.5h0M500.8 477.6h0M537.4 468.0h0M578.7 408.2h0M433.0 419.4h0M425.8 469.7h0M438.5 472.2h0M563.1 398.1h0M387.8 496.9h0M399.6 439.9h0M589.1 439.3h0M509.1 455.8h0M514.5 412.5h0M434.2 425.1h0M543.2 403.4h0M590.7 424.8h0M578.4 446.9h0M555.5 419.0h0M387.7 435.9h0M489.8 491.7h0M494.3 409.3h0M504.8 472.3h0M569.2 416.2h0M519.6 450.1h0M525.0 426.2h0M590.3 434.2h0M474.3 432.5h0M518.5 495.7h0M444.1 484.5h0M395.5 449.2h0M403.3 466.5h0M449.9 464.7h0M426.7 417.2h0M558.0 450.3h0M548.9 455.4h0M542.2 473.0h0M588.9 489.0h0M396.3 411.5h0M421.3 395.6h0M532.5 405.6h0M537.6 454.8h0M543.7 488.4h0M385.0 497.7h0M413.7 461.7h0M592.8 442.3h0M441.2 467.6h0M501.1 453.8h0M555.4 410.7h0M560.7 490.6h0M462.0 401.9h0M513.2 408.3h0M489.8 408.8h0M446.6 465.8h0M467.0 416.5h0M522.4 472.1h0M463.3 418.3h0M533.5 400.4h0M404.8 463.8h0M444.3 460.1h0M432.1 441.0h0M403.8 492.9h0M395.3 489.0h0M402.3 407.1h0M592.7 406.7h0M465.2 421.1h0M488.4 494.4h0M391.5 431.2h0M438.2 432.5h0M558.3 455.8h0M472.8 416.8h0M420.3 416.9h0M457.1 451.4h0M525.0 406.1h0M516.9 443.4h0M605.2 454.3h0M531.2 401.8h0M470.3 412.9h0M459.3 416.3h0M542.1 415.1h0M594.4 461.1h0M389.7 432.5h0M409.1 424.1h0M459.0 486.4h0M438.8 472.4h0M492.8 447.0h0M405.6 440.1h0M535.4 481.2h0M590.9 406.9h0M509.9 409.8h0M562.9 477.8h0M408.1 486.8h0M508.2 416.0h0M570.1 478.9h0M585.6 426.2h0M414.2 496.1h0M487.3 452.8h0M593.8 433.3h0M464.3 432.5h0M594.6 424.9h0M542.1 397.2h0M556.8 447.5h0M397.8 401.3h0M392.5 479.5h0M432.9 452.9h0M588.5 413.6h0M574.1 479.4h0M447.8 407.6h0M413.9 427.2h0M598.2 468.0h0M392.0 449.9h0M475.2 415.5h0M570.7 453.9h0M406.9 424.9h0M384.3 460.7h0M435.3 437.7h0M549.7 448.4h0M526.2 475.6h0M568.0 500.6h0M489.9 427.9h0M493.7 407.2h0M571.4 478.2h0M453.9 412.1h0M456.8 478.0h0M523.4 492.1h0M476.0 406.8h0M492.4 443.2h0M519.3 472.8h0M521.3 458.6h0M394.9 424.1h0M493.3 456.8h0M457.2 397.7h0M421.3 496.2h0M468.9 477.3h0M579.7 427.4h0M466.4 464.8h0M392.4 431.6h0M388.9 402.8h0M531.6 407.5h0M599.3 473.5h0M527.5 473.3h0M553.8 400.7h0M437.0 418.4h0M592.8 459.9h0M539.1 494.5h0M568.9 490.0h0M464.7 493.6h0M453.9 490.9h0M456.1 464.5h0M468.4 436.3h0M424.6 429.9h0M487.2 475.6h0M504.6 429.3h0M530.7 410.1h0M380.7 420.0h0M563.9 414.8h0M480.7 423.9h0M593.0 447.1h0M395.3 473.3h0M507.3 487.3h0M491.8 441.1h0M429.6 494.1h0M469.0 495.3h0M441.6 488.8h0M571.6 412.7h0M535.8 424.6h0M552.4 411.8h0M526.5 433.4h0M417.3 486.6h0M459.3 486.6h0M403.2 462.9h0M551.1 464.9h0M383.7 408.0h0M554.4 463.2h0M577.8 479.7h0M554.6 476.7h0M518.1 465.8h0M539.6 402.9h0M583.3 465.3h0M501.6 472.3h0M397.3 450.5h0M457.8 494.8h0M472.8 468.4h0M527.2 462.8h0M568.8 413.0h0M502.0 449.1h0M476.2 418.2h0M385.9 404.8h0M525.9 477.0h0M575.0 461.7h0M493.3 457.7h0M542.1 485.0h0M556.9 465.1h0M424.8 493.1h0M567.3 468.6h0M411.7 401.2h0M578.9 410.5h0M574.7 463.6h0M448.9 438.4h0M469.7 454.4h0M581.3 407.3h0M582.4 489.8h0M518.8 400.2h0M447.5 399.0h0M586.4 464.9h0M472.6 498.7h0M411.7 434.6h0M550.6 454.5h0M467.3 405.1h0M579.8 499.8h0M433.7 437.5h0M602.2 401.3h0M496.4 482.0h0M492.8 469.5h0M437.6 431.3h0M409.7 487.8h0M565.3 400.4h0M578.2 494.4h0M518.2 472.6h0M495.8 448.5h0M441.2 459.1h0M557.0 420.2h0M479.6 458.0h0M547.3 437.1h0M443.8 435.6h0M449.4 470.5h0M521.8 497.0h0M493.2 401.0h0M567.2 493.3h0M420.2 469.0h0M599.6 495.9h0M401.7 423.1h0M448.2 497.6h0M588.5 453.4h0M426.9 439.5h0M450.9 395.7h0M564.9 496.5h0M391.4 463.3h0M442.3 491.9h0M542.2 462.3h0M427.1 446.4h0M575.6 496.4h0M566.8 494.9h0M573.4 450.3h0M435.3 470.7h0M507.8 431.0h0M404.8 485.3h0M482.9 488.5h0M587.0 479.3h0M396.5 493.4h0M488.2 454.3h0M488.6 397.0h0M483.5 413.1h0M557.8 423.6h0M555.5 426.6h0M464.1 420.9h0M420.1 495.4h0M445.0 419.3h0M439.7 401.9h0M412.1 483.2h0M521.8 467.8h0M567.9 444.9h0M570.4 435.5h0M471.1 411.4h0M498.3 411.4h0M580.0 478.1h0M591.2 441.1h0M534.7 430.1h0M550.0 436.9h0M484.6 457.9h0M538.6 491.4h0M387.3 446.6h0M449.1 482.4h0M393.3 486.8h0M524.5 399.3h0M409.6 450.1h0M492.3 484.8h0M582.8 437.3h0M542.2 462.1h0M408.4 473.5h0M531.2 470.4h0M413.9 447.8h0M424.2 444.2h0M466.2 438.3h0M488.9 407.9h0M499.0 460.4h0M450.4 475.1h0M540.6 457.0h0M603.9 454.5h0M598.1 457.8h0M590.8 427.6h0M402.0 494.1h0M564.3 478.4h0M408.2 433.1h0M493.6 490.4h0M582.5 422.5h0M560.1 446.6h0M593.5 433.5h0M509.1 438.2h0M401.8 468.0h0M434.1 401.2h0M594.0 494.1h0M411.6 396.6h0M464.8 458.6h0M568.0 455.8h0M477.3 462.4h0M436.2 420.6h0M419.7 484.7h0M481.5 474.8h0M428.2 492.7h0M586.0 485.7h0M441.9 488.8h0M552.2 486.0h0M467.4 435.3h0M415.5 450.7h0M532.4 421.5h0M603.2 453.2h0M456.5 493.3h0M553.6 492.9h0M576.7 435.9h0M533.0 474.7h0M485.8 396.4h0M505.9 494.1h0M429.7 492.7h0M578.1 458.7h0M498.8 423.7h0M511.3 441.9h0M488.9 410.1h0M585.8 412.4h0M486.9 410.5h0M408.2 473.5h0M458.9 490.2h0M522.1 395.8h0M427.2 411.4h0M447.7 449.0h0M495.7 497.4h0M497.2 396.0h0M603.3 406.0h0M515.0 498.9h0M566.2 491.7h0M431.0 397.6h0M539.5 461.4h0M529.0 483.9h0M511.7 399.1h0M557.7 471.0h0M428.6 474.2h0M438.7 403.1h0M526.7 423.5h0M528.5 401.6h0M385.5 416.1h0M576.9 420.2h0M485.3 424.6h0M448.2 480.4h0M400.8 413.2h0M518.2 490.5h0M577.4 445.3h0M504.8 466.7h0M381.7 442.6h0M571.3 427.9h0M388.6 469.3h0M562.0 432.0h0M528.5 440.5h0M537.4 398.5h0M399.9 477.5h0M574.7 435.8h0M449.2 428.8h0M504.4 464.3h0M579.7 452.5h0M505.7 407.7h0M493.4 493.6h0M403.0 424.3h0M544.5 488.8h0M539.7 421.8h0M444.0 438.9h0M521.0 452.6h0M515.1 424.9h0M562.2 414.9h0M569.0 462.7h0M485.6 442.0h0M384.7 410.0h0M436.7 398.6h0M599.9 486.0h0M451.4 405.1h0M531.0 429.3h0M533.1 467.7h0M487.8 492.6h0M580.2 471.0h0M599.5 409.6h0M606.0 438.3h0M595.3 398.6h0M404.1 430.1h0M534.9 443.4h0M528.6 473.1h0M601.7 421.2h0M590.4 450.1h0M467.2 443.4h0M508.5 478.4h0M553.0 460.5h0M578.9 423.1h0M584.3 404.7h0M481.5 411.7h0M556.7 452.5h0M463.7 474.8h0M411.4 472.7h0M451.7 441.6h0M452.5 483.3h0M419.9 484.7h0M467.1 446.3h0M428.0 404.1h0M400.1 447.7h0M538.3 436.8h0M573.3 399.8h0M448.3 486.6h0M502.4 449.0h0M472.2 490.6h0M515.9 468.1h0M583.2 471.0h0M408.5 478.0h0M418.3 464.9h0M526.8 480.4h0M399.0 404.3h0M464.0 458.8h0M439.8 493.5h0M530.3 456.4h0M584.3 447.9h0M478.0 431.8h0M594.9 433.0h0M536.0 437.2h0M402.5 426.5h0M601.4 425.9h0M563.6 481.4h0M464.0 447.5h0M590.8 443.4h0M471.7 436.7h0M495.8 447.8h0M420.4 471.0h0M541.5 471.1h0M459.1 397.3h0M588.1 443.0h0M539.9 396.2h0M499.9 498.1h0M409.7 416.1h0M605.0 461.6h0M563.7 432.5h0M576.8 404.5h0M386.3 476.7h0M463.1 445.2h0M551.0 411.6h0M524.8 471.4h0M600.9 488.2h0M442.7 475.7h0M471.4 428.6h0M568.0 468.8h0M392.5 398.1h0M567.6 396.2h0M595.8 496.6h0M545.5 454.5h0M491.8 423.0h0M551.3 413.5h0M392.5 446.5h0M593.0 429.7h0M557.8 467.1h0M462.8 415.3h0M493.7 456.0h0M525.2 423.3h0M537.8 432.3h0M382.4 398.9h0M548.7 492.5h0M385.5 459.2h0M434.1 469.9h0M594.9 461.1h0M386.6 496.9h0M467.3 401.4h0M415.8 463.2h0M499.2 428.6h0M465.7 480.6h0M415.2 410.4h0M483.7 445.2h0M455.6 491.6h0M418.2 442.3h0M442.8 438.7h0M597.8 446.2h0M443.6 474.8h0M550.8 479.2h0M585.4 455.9h0M588.9 466.7h0M580.4 490.5h0M382.2 489.6h0M464.5 474.8h0M409.2 484.0h0M436.9 425.1h0M535.1 418.1h0M493.3 497.5h0M460.6 456.8h0M444.7 452.8h0M502.9 455.5h0M456.6 395.8h0M582.5 422.6h0M488.0 413.5h0M537.2 398.4h0M543.7 420.0h0M553.4 500.3h0M507.0 459.0h0M548.8 444.3h0M570.8 466.9h0M482.0 422.6h0M509.0 407.7h0M464.4 481.6h0M404.4 452.6h0M518.8 500.6h0M492.2 495.2h0M388.4 498.4h0M506.8 479.3h0M562.7 456.1h0M385.8 497.2h0M546.3 468.7h0M524.8 495.9h0M495.8 443.4h0M536.1 459.8h0M489.6 440.2h0M482.5 495.8h0M544.7 470.4h0M398.2 398.6h0M401.2 433.0h0M578.7 433.7h0M541.1 411.0h0M482.7 463.3h0M399.5 493.0h0M579.0 472.7h0M576.5 404.5h0M412.0 404.6h0M425.2 409.6h0"/>
<text class="k" x="379.0" y="522.6" text-anchor="middle">0</text>
<text class="k" x="448.2" y="522.6" text-anchor="middle">2</text>
<text class="k" x="517.3" y="522.6" text-anchor="middle">4</text>
<text class="k" x="587.5" y="522.6" text-anchor="middle">6</text>
<text class="k" x="656.9" y="522.6" text-anchor="middle">8</text>
<text class="k" x="375.1" y="508.2" text-anchor="end">0</text>
<text class="k" x="375.1" y="427.3" text-anchor="end">5</text>
<text class="x" x="379.9" y="393.5">×</text><text class="k" x="393.9" y="391.4" letter-spacing="-1.4">10</text><text class="k s" x="412.0" y="383.0">4</text>
<text class="x" x="616.9" y="552.0">×</text><text class="k" x="630.9" y="549.9" letter-spacing="-1.4">10</text><text class="k s" x="649.0" y="541.5">4</text>
<text class="t" x="518.0" y="387.6" text-anchor="middle">Diagonal</text>
</svg></body></html>
